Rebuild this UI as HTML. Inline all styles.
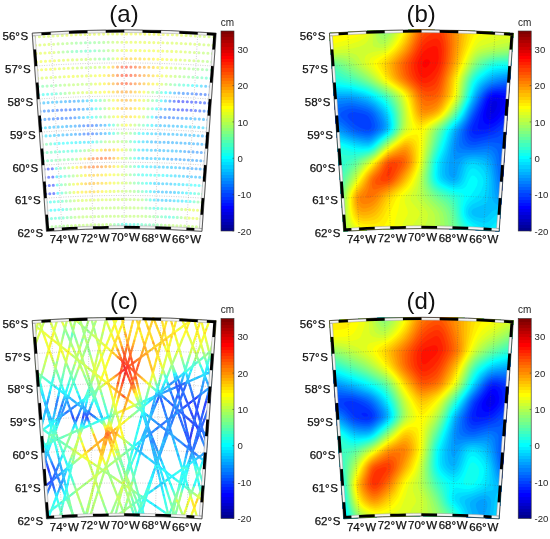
<!DOCTYPE html><html><head><meta charset="utf-8"><style>html,body{margin:0;padding:0;background:#fff;}svg{display:block;filter:blur(0.3px);}</style></head><body>
<svg width="550" height="539" viewBox="0 0 550 539">
<defs>
<clipPath id="clipa"><path d="M32.21 33.10 A1283.5 1283.5 0 0 1 216.19 33.10 L201.94 231.37 A1084.7 1084.7 0 0 0 46.46 231.37 Z"/></clipPath>
<clipPath id="clipb"><path d="M329.41 33.10 A1283.5 1283.5 0 0 1 513.39 33.10 L499.14 231.37 A1084.7 1084.7 0 0 0 343.66 231.37 Z"/></clipPath>
<clipPath id="clipc"><path d="M32.21 320.60 A1283.5 1283.5 0 0 1 216.19 320.60 L201.94 518.87 A1084.7 1084.7 0 0 0 46.46 518.87 Z"/></clipPath>
<clipPath id="clipd"><path d="M329.41 320.60 A1283.5 1283.5 0 0 1 513.39 320.60 L499.14 518.87 A1084.7 1084.7 0 0 0 343.66 518.87 Z"/></clipPath>
<linearGradient id="cb" x1="0" y1="0" x2="0" y2="1"><stop offset="0.0000" stop-color="#800000"/><stop offset="0.0156" stop-color="#800000"/><stop offset="0.0156" stop-color="#8f0000"/><stop offset="0.0312" stop-color="#8f0000"/><stop offset="0.0312" stop-color="#9f0000"/><stop offset="0.0469" stop-color="#9f0000"/><stop offset="0.0469" stop-color="#af0000"/><stop offset="0.0625" stop-color="#af0000"/><stop offset="0.0625" stop-color="#bf0000"/><stop offset="0.0781" stop-color="#bf0000"/><stop offset="0.0781" stop-color="#cf0000"/><stop offset="0.0938" stop-color="#cf0000"/><stop offset="0.0938" stop-color="#df0000"/><stop offset="0.1094" stop-color="#df0000"/><stop offset="0.1094" stop-color="#ef0000"/><stop offset="0.1250" stop-color="#ef0000"/><stop offset="0.1250" stop-color="#ff0000"/><stop offset="0.1406" stop-color="#ff0000"/><stop offset="0.1406" stop-color="#ff1000"/><stop offset="0.1562" stop-color="#ff1000"/><stop offset="0.1562" stop-color="#ff2000"/><stop offset="0.1719" stop-color="#ff2000"/><stop offset="0.1719" stop-color="#ff3000"/><stop offset="0.1875" stop-color="#ff3000"/><stop offset="0.1875" stop-color="#ff4000"/><stop offset="0.2031" stop-color="#ff4000"/><stop offset="0.2031" stop-color="#ff5000"/><stop offset="0.2188" stop-color="#ff5000"/><stop offset="0.2188" stop-color="#ff6000"/><stop offset="0.2344" stop-color="#ff6000"/><stop offset="0.2344" stop-color="#ff7000"/><stop offset="0.2500" stop-color="#ff7000"/><stop offset="0.2500" stop-color="#ff8000"/><stop offset="0.2656" stop-color="#ff8000"/><stop offset="0.2656" stop-color="#ff8f00"/><stop offset="0.2812" stop-color="#ff8f00"/><stop offset="0.2812" stop-color="#ff9f00"/><stop offset="0.2969" stop-color="#ff9f00"/><stop offset="0.2969" stop-color="#ffaf00"/><stop offset="0.3125" stop-color="#ffaf00"/><stop offset="0.3125" stop-color="#ffbf00"/><stop offset="0.3281" stop-color="#ffbf00"/><stop offset="0.3281" stop-color="#ffcf00"/><stop offset="0.3438" stop-color="#ffcf00"/><stop offset="0.3438" stop-color="#ffdf00"/><stop offset="0.3594" stop-color="#ffdf00"/><stop offset="0.3594" stop-color="#ffef00"/><stop offset="0.3750" stop-color="#ffef00"/><stop offset="0.3750" stop-color="#ffff00"/><stop offset="0.3906" stop-color="#ffff00"/><stop offset="0.3906" stop-color="#efff10"/><stop offset="0.4062" stop-color="#efff10"/><stop offset="0.4062" stop-color="#dfff20"/><stop offset="0.4219" stop-color="#dfff20"/><stop offset="0.4219" stop-color="#cfff30"/><stop offset="0.4375" stop-color="#cfff30"/><stop offset="0.4375" stop-color="#bfff40"/><stop offset="0.4531" stop-color="#bfff40"/><stop offset="0.4531" stop-color="#afff50"/><stop offset="0.4688" stop-color="#afff50"/><stop offset="0.4688" stop-color="#9fff60"/><stop offset="0.4844" stop-color="#9fff60"/><stop offset="0.4844" stop-color="#8fff70"/><stop offset="0.5000" stop-color="#8fff70"/><stop offset="0.5000" stop-color="#80ff80"/><stop offset="0.5156" stop-color="#80ff80"/><stop offset="0.5156" stop-color="#70ff8f"/><stop offset="0.5312" stop-color="#70ff8f"/><stop offset="0.5312" stop-color="#60ff9f"/><stop offset="0.5469" stop-color="#60ff9f"/><stop offset="0.5469" stop-color="#50ffaf"/><stop offset="0.5625" stop-color="#50ffaf"/><stop offset="0.5625" stop-color="#40ffbf"/><stop offset="0.5781" stop-color="#40ffbf"/><stop offset="0.5781" stop-color="#30ffcf"/><stop offset="0.5938" stop-color="#30ffcf"/><stop offset="0.5938" stop-color="#20ffdf"/><stop offset="0.6094" stop-color="#20ffdf"/><stop offset="0.6094" stop-color="#10ffef"/><stop offset="0.6250" stop-color="#10ffef"/><stop offset="0.6250" stop-color="#00ffff"/><stop offset="0.6406" stop-color="#00ffff"/><stop offset="0.6406" stop-color="#00efff"/><stop offset="0.6562" stop-color="#00efff"/><stop offset="0.6562" stop-color="#00dfff"/><stop offset="0.6719" stop-color="#00dfff"/><stop offset="0.6719" stop-color="#00cfff"/><stop offset="0.6875" stop-color="#00cfff"/><stop offset="0.6875" stop-color="#00bfff"/><stop offset="0.7031" stop-color="#00bfff"/><stop offset="0.7031" stop-color="#00afff"/><stop offset="0.7188" stop-color="#00afff"/><stop offset="0.7188" stop-color="#009fff"/><stop offset="0.7344" stop-color="#009fff"/><stop offset="0.7344" stop-color="#008fff"/><stop offset="0.7500" stop-color="#008fff"/><stop offset="0.7500" stop-color="#0080ff"/><stop offset="0.7656" stop-color="#0080ff"/><stop offset="0.7656" stop-color="#0070ff"/><stop offset="0.7812" stop-color="#0070ff"/><stop offset="0.7812" stop-color="#0060ff"/><stop offset="0.7969" stop-color="#0060ff"/><stop offset="0.7969" stop-color="#0050ff"/><stop offset="0.8125" stop-color="#0050ff"/><stop offset="0.8125" stop-color="#0040ff"/><stop offset="0.8281" stop-color="#0040ff"/><stop offset="0.8281" stop-color="#0030ff"/><stop offset="0.8438" stop-color="#0030ff"/><stop offset="0.8438" stop-color="#0020ff"/><stop offset="0.8594" stop-color="#0020ff"/><stop offset="0.8594" stop-color="#0010ff"/><stop offset="0.8750" stop-color="#0010ff"/><stop offset="0.8750" stop-color="#0000ff"/><stop offset="0.8906" stop-color="#0000ff"/><stop offset="0.8906" stop-color="#0000ef"/><stop offset="0.9062" stop-color="#0000ef"/><stop offset="0.9062" stop-color="#0000df"/><stop offset="0.9219" stop-color="#0000df"/><stop offset="0.9219" stop-color="#0000cf"/><stop offset="0.9375" stop-color="#0000cf"/><stop offset="0.9375" stop-color="#0000bf"/><stop offset="0.9531" stop-color="#0000bf"/><stop offset="0.9531" stop-color="#0000af"/><stop offset="0.9688" stop-color="#0000af"/><stop offset="0.9688" stop-color="#00009f"/><stop offset="0.9844" stop-color="#00009f"/><stop offset="0.9844" stop-color="#00008f"/><stop offset="1.0000" stop-color="#00008f"/></linearGradient>
</defs>
<rect width="550" height="539" fill="#fff"/>
<g clip-path="url(#clipb)">
<rect x="321" y="23" width="201" height="214" fill="#0000df"/>
<path fill="#0000ef" fill-rule="evenodd" d="M321.2 23.0l201 0 0 214 -201 0 0-214zM494.2 100.7l-2 1.3 -1.5 4 -0.7 5 0.2 1.4 1 1.3 2-0.5 1.1-1.2 1.9-3.5 1.1-3.5 -0.2-3 -1-1 -1.9-0.3z"/>
<path fill="#0000ff" fill-rule="evenodd" d="M321.2 23.0l201 0 0 214 -201 0 0-214zM494.2 97.0l-3 1.4 -1.9 2.6 -2.9 10 -0.4 3 0.4 3 1.4 2 1.4 0.8 2 0 2-0.7 3.7-3.1 2.8-4 4.6-9 -0.1-2 -1.8-2 -4.2-1.8 -4-0.2z"/>
<path fill="#0010ff" fill-rule="evenodd" d="M321.2 23.0l201 0 0 75.5 -10-0.8 -14-3 -3-0.1 -3 0.8 -3 2.3 -2 3.3 -3.6 11 -0.8 5 0.4 3.3 1.4 2.7 2.6 1.4 3-0.1 3-1.1 4-2.9 9-10 3-2.3 4-1.1 9 0.3 0 129.8 -201 0 0-214z"/>
<path fill="#0020ff" fill-rule="evenodd" d="M321.2 23.0l201 0 0 71.6 -25-2 -4 0.5 -3 1.5 -3 3.1 -2.1 4.3 -4.8 13 -2.8 12 0.7 1.7 2 0.7 5 0 4-0.7 6-3 11-9.2 3-1.8 4-0.9 9 0.4 0 122.8 -201 0 0-214z"/>
<path fill="#0030ff" fill-rule="evenodd" d="M321.2 23.0l201 0 0 68.6 -13-0.8 -12 0 -4 0.7 -4 2 -2.5 2.5 -2.3 4 -11.3 26 -1.2 4 0.3 2.2 2 2.1 3 0.5 5-0.8 7-1.6 4-1.7 11-8.1 4-2.3 5-0.9 9 0.5 0 117.1 -201 0 0-214z"/>
<path fill="#0040ff" fill-rule="evenodd" d="M321.2 23.0l201 0 0 65.8 -12-0.5 -13 0.8 -5 1.1 -4 2.4 -2.3 2.4 -2.5 4 -13.2 28 -1.2 5 0.7 3 1.5 2.1 3 1.4 3-0.1 16-3.9 4-2.2 8-5.9 3-1.4 4-0.7 10 0.5 0 112.2 -201 0 0-214z"/>
<path fill="#0050ff" fill-rule="evenodd" d="M321.2 23.0l201 0 0 63.3 -12-0.5 -12 1.4 -6 1.4 -4.1 2.4 -3 3 -3.2 5 -13.6 28 -1.2 3 -0.5 3 0.8 4 1.8 2.9 3 1.9 3 0.2 22-4.8 3-1.6 6-4.6 3-1.2 4-0.3 9 0.5 0 31.9 -11-0.3 -2.2 1.4 -0.9 3 1.1 2.8 2 1.3 11 1.2 0 65.7 -201 0 0-214zM354.2 112.0l-4.7 1 -1.9 2 0.1 2 2.2 3 5.3 4.7 5.4 3.3 5.6 1.8 2 0 2-0.9 1.4-1.9 0-3 -1.4-4.3 -2-3.1 -2-1.5 -2.4-1.1 -9.6-2z"/>
<path fill="#0060ff" fill-rule="evenodd" d="M321.2 23.0l201 0 0 61 -12-0.3 -12 1.8 -6 1.6 -5 3 -3.7 3.9 -3 5 -14.9 30 -1 3 -0.2 3 0.6 4 1.2 2.6 2 2.1 2 1 5 0.3 11-2.4 6-0.4 7 1.1 2 0.9 1.9 1.8 0.8 2 0 2 -1.3 10 -0.1 6 0.8 6 1.9 6.4 2 2.4 2 1 13 1.3 0 53.9 -201 0 0-214zM349.2 108.8l-3.8 1.2 -3.2 1.8 -1.4 1.2 -0.8 2 1.8 3 9.4 8.7 5.1 3.3 8.9 2.7 3 0.1 2-0.5 3.3-2.3 1.6-3 -0.1-3 -2-6 -2.8-4.1 -3-2 -5.8-1.9 -7.2-1.4 -5 0.2z"/>
<path fill="#0070ff" fill-rule="evenodd" d="M321.2 23.0l201 0 0 59 -11-0.4 -8 1.1 -10 2.4 -4 1.9 -3 2.2 -3.5 3.8 -2.5 3.9 -11.9 24.1 -4.5 8 -1.5 4 -0.4 4 0.3 4 1 3 1.9 2 2.1 1 3 0.7 4 0.1 14-2.2 4 0.6 3.2 1.8 1.8 2.1 1.4 3.9 2.4 22 1 5 1.3 3 1.9 2.1 3 1.4 14 1.3 0 48.2 -201 0 0-118 10-0.5 5 1 6 3.3 7.4 6.2 3 2 4.9 2 7.7 1.8 4-0.1 4-1.9 3.8-3.8 1-3 -0.5-3 -1.4-4 -1.4-3 -2.2-3 -4.3-3.3 -7-2.3 -7-1.6 -5-0.2 -5 1 -12 3.8 -11 1.1 0-88.5z"/>
<path fill="#0080ff" fill-rule="evenodd" d="M321.2 23.0l201 0 0 57.2 -12-0.4 -12 2.2 -8 2.8 -6 4.6 -4.9 6.6 -11.8 24 -6.5 11 -1.4 5 -0.7 7 0.3 2.7 1 1.9 2 1.3 2 0.6 9 0.7 14-1.4 3 0.7 2 1.3 2.5 3.2 1.4 4 3.3 23 1 4 1.8 3.7 2 2.1 3 1.4 15 1.4 0 43.4 -201 0 0-114.2 10-0.5 5 0.7 4 1.8 8.3 6.2 3.7 2.1 6 2.1 8 1.6 4-0.6 4-2.2 4.5-4 1.3-2 0.5-2 -0.5-3 -1.4-4 -3.4-6 -4.3-4 -5.7-2.8 -10-2.8 -6-0.7 -17 2.8 -11 0.9 0-83.4z"/>
<path fill="#008fff" fill-rule="evenodd" d="M321.2 23.0l201 0 0 55.5 -13-0.3 -11 2 -8 3 -4 2.6 -3 2.7 -4.7 6.5 -11.7 24 -8.1 13 -2.1 8 -0.9 7 0.9 4 0.7 1 1.9 0.9 26-1 3.9 1.1 2.3 2 1.7 3 1.3 4 3.8 24 1.2 4 1.8 3.3 2 1.9 3 1.2 16 1.5 0 39.1 -201 0 0-111.2 10-0.5 5 0.7 3 1.3 8 5.2 4.9 2.5 8.1 2.4 7 1.1 4-1 6.4-4.5 4.1-4 1-3 -0.4-3 -1-3 -3.8-7 -5.3-5.3 -6-3.3 -11-3.4 -6-0.8 -28 2.2 0-79.4z"/>
<path fill="#009fff" fill-rule="evenodd" d="M321.2 23.0l201 0 0 53.9 -13-0.4 -12 2.2 -4 1.3 -4 2 -4 2.8 -3 2.8 -4.5 6.4 -12 25 -8.8 13 -2.8 10 -1 9 0.5 6 0.6 1.7 1 1 1-0.1 8-3.9 8-1.2 12 0.3 3 0.9 2.6 2.3 1.8 3 1.3 4 3.6 24 1 4 1.7 3.4 3 2.6 3 1 17 1.5 0 35.5 -201 0 0-108.4 10-0.5 4 0.4 3 1 9 5.1 5 2.2 9 2.5 6 0.9 2-0.3 3-1.4 8.6-6.5 2.9-3 0.9-3 -0.3-3 -1.1-3.4 -3.4-6.6 -5.8-6 -6.8-4.2 -11-3.6 -6-1.2 -7.2 0 -21.8 1.3 0-76.3z"/>
<path fill="#00afff" fill-rule="evenodd" d="M321.2 23.0l201 0 0 52.3 -13-0.4 -6 0.7 -7 1.6 -4 1.5 -5 2.8 -4 3.2 -3 3.1 -3.3 5.2 -11.8 25 -2.9 4.5 -5.8 7.5 -2 4 -3.1 13 -2.3 17 -0.4 6 0.4 4 0.9 2 2.3 1.7 2-0.2 1-0.7 1.2-1.8 2.1-9 1.3-3 1.4-2 3-2.4 5-1.7 6-0.3 8 0.9 4 2 2 2.5 2 5.2 1.8 9.8 1.6 16 1.1 4 1.5 2.5 3 2.4 3.6 1.1 18.4 1.7 0 32.3 -201 0 0-105.8 10-0.5 4 0.4 4 1.3 8 4.1 6 2.3 9 2.4 5 0.6 3-0.6 2-1.1 10.5-8.1 2.7-3 0.9-3 -0.3-3 -1.2-4 -1.6-3.8 -2-3.2 -7-6.9 -7-4.3 -11-3.6 -7-1.2 -13 0 -15 0.9 0-73.9z"/>
<path fill="#00bfff" fill-rule="evenodd" d="M321.2 23.0l201 0 0 50.7 -14-0.4 -12 2 -4 1.5 -5 2.9 -5 3.9 -3 3.3 -3 5 -11.7 25.1 -3.2 5 -5.8 7 -2.3 4 -2.1 7 -3.2 15 -2.2 8 -0.8 8 0.5 4 1.6 3 3.2 2.4 2 0.7 2 0 2.4-1.1 1.7-2 3.9-13 2-3 2-1.5 4-1.5 5-0.2 6.5 1.2 3.8 2 2.7 3.7 2 6.8 1.3 8.5 0.7 16 0.6 3 1.4 2.6 3 2.1 4 1.1 21 1.8 0 29.4 -201 0 0-103.3 10-0.6 4 0.3 4 1.2 9 4.1 6 2.1 9 2.2 5 0.2 4-1.6 12.2-9.6 2.5-3 0.8-4 -1.9-8 -3.3-6 -7.1-7 -7.2-4.6 -11-3.7 -8-1.5 -14-0.3 -14 0.7 0-71.6z"/>
<path fill="#00cfff" fill-rule="evenodd" d="M321.2 23.0l201 0 0 49.1 -14-0.4 -12 1.8 -4 1.5 -4 2.2 -5.3 3.8 -3.7 3.6 -3.4 5.4 -5.4 13 -6.4 13 -3.2 5 -6.8 8 -2.3 4 -5.3 20 -3.5 10 -0.9 8 0.5 5 1 2 1.7 1.8 5 3 3 0.6 2-0.1 2.9-1.3 2.1-2.4 1.5-3.6 2.6-9 1-2 1.9-2.1 3-1.5 4-0.3 5 1.1 4 2.1 2 2.1 1.4 2.6 1.6 4.9 1 5.1 0.1 8 -1.3 12 -1.1 3 -1.7 2 -12.1 5 -1.5 2 -0.2 1 0.5 2 1.3 1.4 3 1.5 4 1.2 3 0.2 3.5-1.3 5.5-5.9 4-1.7 7-0.2 19 1.4 0 26.4 -201 0 0-101 10-0.6 5 0.4 19 6.9 8 1.9 5 0.1 4-1.7 13.7-11 2.3-3 0.7-4 -1.7-8.3 -1.6-3.7 -1.9-3 -7-7 -7.5-4.9 -11-3.8 -9-1.8 -15-0.6 -13 0.6 0-69.5z"/>
<path fill="#00dfff" fill-rule="evenodd" d="M321.2 23.0l201 0 0 47.5 -14-0.4 -8 0.8 -5 1 -4 1.6 -5 3.1 -5 3.8 -3 3.1 -3 5 -5.4 13.5 -6.3 13 -3.3 5.2 -7.6 8.8 -2.3 4 -5.2 18 -4.5 12 -0.9 9 0.6 5 1.1 2 1.8 1.9 6 3.5 3 0.9 3 0.1 4-1.3 2.2-2.1 2.1-4 2.9-9 1.1-2 1.7-1.8 2-1 3-0.2 3 0.9 3 1.8 3.7 4.3 2.4 6 0.6 6 -0.9 7 -1.8 5.8 -2 2.9 -3 2.3 -7 3.6 -3 3.1 -1 2.3 -0.2 2 0.3 2 0.9 2 2 2.1 3 1.8 7 2.7 3 0.6 4-1.2 8-7.2 4-1.8 6-0.3 16 1.1 0 23.2 -201 0 0-98.9 10-0.6 5 0.3 20 6.9 7 1.4 5 0 4-1.8 15-12.2 2.2-3.1 0.7-4 -1.7-9 -3.2-6.5 -3-3.6 -4-3.7 -8-5.3 -9-3.3 -12-2.8 -15-0.9 -13 0.5 0-67.4z"/>
<path fill="#00efff" fill-rule="evenodd" d="M321.2 23.0l201 0 0 45.9 -14-0.5 -8 0.7 -5 0.9 -4 1.6 -4 2.4 -6 4.4 -3.6 3.6 -3 5 -5.3 14 -6.2 13 -3.9 5.9 -8 9.1 -2.3 4 -5.1 17 -4.8 12 -0.8 4.1 -0.4 6.9 0.8 5 1.1 2 1.8 2 3 2 4.7 2.2 4 1.1 3 0.1 4-1 3-2.4 1.8-3 3.2-8.4 2-3 1-0.8 2-0.5 2 0.5 1.9 1.2 3.1 3.2 2.3 3.8 1 4 -0.3 3.8 -1.7 5.2 -2.3 4.1 -2.8 2.9 -6.2 4.8 -3.1 4.2 -1.1 3 -0.2 3 0.5 3 1.6 3 4.3 3.9 10 5.9 3 1.1 2-0.2 3-1.5 9-7.9 3-1.6 5-0.4 15 1 0 18.7 -201 0 0-96.8 10-0.6 5 0.3 20 6.5 7 1.1 5-0.2 2-0.6 2.8-1.7 6.7-6 7.8-6 2.9-4 0.8-4 -0.6-5 -1.2-5 -3.2-6.6 -2.7-3.4 -3.3-3.1 -8.7-5.9 -8.3-3.3 -14-3.6 -15-1.3 -13 0.5 0-65.3z"/>
<path fill="#00ffff" fill-rule="evenodd" d="M321.2 23.0l201 0 0 44.3 -14-0.5 -13 1.4 -4 1.5 -4 2.4 -6 4.3 -3.9 3.6 -3.2 5 -5.7 16 -6.2 12.8 -3.5 5.2 -8.1 9 -2.6 4 -5.1 16 -4.5 11 -1.2 4.1 -0.9 10.9 0.3 3 1 3 1.6 2.2 2.2 1.8 7.8 3.9 7 1.6 6-0.6 2-0.9 2.1-2 3.1-7 1.8-2.7 1-0.7 2 0.1 2.5 2.3 1.1 3 -0.7 4 -2.9 5.4 -8 11.6 -1.8 5 -0.5 5 0.8 4 2.5 4.4 3 3.1 5.8 4.5 2.4 3 1.1 3 0.4 3 -158.7 0 0-94.7 11-0.6 4 0.2 4 0.9 15 5.2 7 0.9 6-0.4 3-1.1 2-1.3 7-6.4 8.6-6.7 2.7-4 0.7-4 -1.6-10 -1.4-3.9 -2-3.7 -2.6-3.4 -3.1-3 -8.3-5.6 -8-3.6 -15-4.1 -17-2.1 -12 0.4 0-63zM502.8 229.0l4.4-0.4 15 1.1 0 7.3 -26.3 0 0.9-3 1.3-2 2.1-1.8 2.6-1.2z"/>
<path fill="#10ffef" fill-rule="evenodd" d="M321.2 23.0l201 0 0 42.7 -15-0.4 -8 0.5 -5 0.9 -3 1.2 -4 2.2 -6 4.3 -4 3.6 -2 2.5 -2 3.7 -5.3 15.8 -6.2 13 -3.5 5.2 -9 9.8 -2.6 4 -4.9 15 -5.6 15 -0.9 6.4 -0.2 7.6 0.9 4 1.9 3 3.4 2.8 4 2.1 7 2.8 9.1 2.3 1.7 1 0.8 1 0.3 3 -1.9 11 0.5 6 1.5 4 1.8 3 7.6 9 1 3 0.3 3 -153.7 0 0-92.5 14-0.6 5 1.1 9 3.5 5 1.4 7 0.4 7-0.6 5-2.5 7.9-7.2 8.1-6.3 2.8-3.7 1.2-5 -1.4-10 -1.3-4 -2-4 -2.3-3.4 -3-3.1 -8-5.5 -9-4.3 -16-4.7 -17-2.8 -12 0.2 0-60.4z"/>
<path fill="#20ffdf" fill-rule="evenodd" d="M321.2 23.0l201 0 0 41.1 -14-0.4 -9 0.5 -5 0.8 -4 1.5 -4 2.4 -6 4.3 -4 3.8 -3.8 6 -5 16 -6.1 13 -4.1 6 -9.3 10 -2.7 4 -10.1 29 -0.9 5.4 -0.5 7.6 0.2 4 0.9 3 2.4 3.6 3 2.5 6 3.1 11 4.5 2.6 2.3 0.9 3 -0.2 10 0.9 6 2.5 6 5.7 9 0.9 3 0.3 3 -149.6 0 0-90.1 11-0.6 4 0.2 4 1.1 8 3.5 5 1.1 7-0.3 8-1.1 3-1.2 2.4-1.6 7.6-7.1 8.8-6.9 3-4 1.1-5 -1.1-10 -2.8-7.6 -4.4-6.4 -6.4-5 -12.2-6.3 -16-5.2 -19-4.3 -11-0.1 0-57.1z"/>
<path fill="#30ffcf" fill-rule="evenodd" d="M321.2 23.0l201 0 0 39.5 -15-0.4 -9 0.7 -5 0.9 -4 1.6 -4 2.3 -5 3.7 -4 3.6 -2.4 3.1 -2.2 4 -5.1 17 -5.7 12 -3.9 6 -9.5 10 -3.5 5 -9.7 28 -1.1 6 -0.7 9 0.4 4 0.9 3 1.9 3 3.2 3 15.4 8 3 3 1 3.5 1.6 13.5 1.7 5 4.9 10 0.8 6 -146 0 0-65.1 9-0.7 3-0.8 1.9-1.4 1.1-1.5 1-3.5 -1-2.5 -2-0.8 -13 0.5 0-10.6 10-0.6 4 0.3 2.3 0.7 5.7 3.6 5 0.8 6-0.6 15-3.3 5-2.9 8-7.5 9-7.2 2-2.5 1.2-2.4 0.7-5 -1.2-10 -2.5-7 -4.2-6.5 -5.4-4.5 -9.6-5.4 -6-2.8 -24.3-7.8 -8.7-3.3 -5-0.9 -7 0.2 0-53z"/>
<path fill="#40ffbf" fill-rule="evenodd" d="M321.2 23.0l201 0 0 38 -14-0.4 -10 0.6 -5 0.9 -4 1.4 -4 2.2 -5 3.6 -4 3.6 -3 3.8 -2.4 4.3 -5.2 18 -5.7 12 -4.2 6 -9.6 10 -3.6 5 -8.9 26 -1.4 6.8 -0.9 9.2 0.1 4 0.9 4 1.9 3.6 3 3.2 3 2.1 11 5.9 3.2 3.2 1.8 4.6 2.8 14.4 4.6 12 0.6 6 -143 0 0-52.7 10-0.8 4-1.5 2-2.3 5.9-12.7 3.5-5 2.6-2 6.2-3 13.8-4.5 5-2.9 8-7.5 7.9-6.1 3-3 2.2-4 0.8-5 -0.9-9 -2-7 -4-7.2 -5.1-4.8 -15.9-8.7 -24.3-9.3 -10.7-5.3 -5-1.1 -7 0.1 0-48.7z"/>
<path fill="#50ffaf" fill-rule="evenodd" d="M321.2 23.0l201 0 0 36.4 -14-0.4 -15 1.5 -4 1.3 -4.2 2.2 -4.8 3.3 -4 3.6 -3.3 4.1 -2.8 5 -1.7 5 -3.3 13 -5.9 12.5 -4.6 6.5 -9.8 10 -3.7 5 -8.1 24 -1.6 7 -1.2 11 0 5 1 3.9 2 3.8 3 3.3 12.6 8 2.4 2.2 1.9 2.8 1.7 5 2.7 12 3.3 10 0.6 7 -140.2 0 0-45 11-1 2-0.5 2-1.4 3-4.6 5.2-13.5 4.2-6 3.4-3 5.8-4 12.4-4.9 5-3.3 7.1-6.8 10.9-9 3.1-5 0.7-5 -0.7-9 -1.8-7 -3.5-7 -4.8-5 -16-9.2 -24.4-10.8 -11.6-6.5 -5-1.2 -8 0.1 0-45.4z"/>
<path fill="#60ff9f" fill-rule="evenodd" d="M321.2 23.0l201 0 0 34.8 -14-0.4 -11 0.9 -5 0.9 -4 1.4 -4.7 2.4 -7.3 5.9 -4 5 -3 5.4 -1.6 4.7 -3.3 14 -5.8 12 -4.3 6.1 -10.8 10.9 -3.7 5 -1.7 4 -5.5 18 -1.9 8 -1.5 12 -0.1 5 0.8 4 1.8 4 2.6 3.4 3 2.6 10 7 4 5 2.1 5 4.7 19 0.7 8 -137.5 0 0-38.4 11-0.9 2-0.5 2-1.1 3-4.8 6.4-17.3 3.7-6 5-5 5-4 10.9-4.9 4-2.5 9.3-8.6 8.8-7 2.8-3 1.7-3 0.9-3 0.3-4 -0.8-9.4 -2.2-7.6 -3.1-6 -2.6-3 -2.4-2 -16.7-9.6 -15.5-7.4 -18.5-10.5 -6-1.7 -9 0.1 0-42.9z"/>
<path fill="#70ff8f" fill-rule="evenodd" d="M321.2 23.0l201 0 0 33.1 -13-0.3 -16 1.7 -5 1.4 -4 1.8 -4 2.5 -3 2.6 -5 6 -3.6 6.2 -1.8 5 -3.4 15 -5.2 10.8 -6 8.2 -11.9 12 -2.6 4 -1.4 4 -5 17 -1.6 7 -1.9 14 0.3 7 1.7 5 2.6 4 2.8 2.9 10.2 8.1 2.8 3.3 2 3.2 1.9 5.5 3.2 14 0.6 9 -134.7 0 0-33 12-1 2-0.5 2-1.3 2-3.2 7-20.7 4.2-7.3 8.7-9 3.1-2.2 8-3.8 4-2.5 10-9.1 9.2-7.4 2.7-3 1.7-3 0.9-3 0.3-4 -0.6-9 -2.1-8 -3.1-6.4 -4.3-4.6 -19.7-11.7 -12.2-6.3 -18.2-11 -3.6-1.4 -4-0.8 -10 0.1 0-40.9z"/>
<path fill="#80ff80" fill-rule="evenodd" d="M321.2 23.0l201 0 0 31.4 -13-0.2 -17 2 -8.4 2.8 -3.6 2.1 -3 2.5 -5.2 6.4 -4.6 8 -1.7 5 -2.9 14 -2 5 -3.2 6 -5.6 8 -13.2 13 -2.1 3 -1.6 4 -6.2 24 -2.2 15 0.1 7 1.7 6 2.7 4.5 3 3.3 9.3 8.2 2.7 3.2 2.3 3.8 1.6 5 2.2 11 0.6 10 -131.7 0 0-28.1 13-1.1 2-0.7 2-1.5 2-3.6 3.4-13 2.4-7 2.7-6 2.5-4 9-10.1 3-2.2 11-6.2 10-9.2 10.3-8.3 2.6-3 1.7-3 1-4 0.2-4 -0.6-9 -2.2-8.3 -3-6 -4.7-4.7 -30.3-18 -13-8.6 -5-2.8 -4.1-1.6 -4.8-1 -11.1 0.1 0-39.1z"/>
<path fill="#8fff70" fill-rule="evenodd" d="M321.2 23.0l61.3 0 0.7 4.3 1 1.4 1 0.1 1.2-1.8 0.6-4 135.2 0 0 29.6 -12-0.2 -18 2.2 -9 2.8 -3 1.6 -3 2.4 -6 7.5 -4.5 8.1 -2 6 -2.8 14 -4.7 10 -3.2 5 -3.2 4 -13.5 13 -2.1 3 -1.2 3 -6.1 25 -2.5 16 0.1 7 1.5 6 2.7 5 3.5 4.1 9 8.7 3.5 5.2 1.5 4.4 1.6 9.6 0.6 11 -128.2 0 0-22.9 13-1.1 2-0.5 2.2-1.5 1.8-2.7 1-2.7 2.6-12.6 2.5-8 2.9-6.6 3.3-5.4 5.6-7 3.9-4 12.7-8 9.8-9 11.1-9 2.5-3 1.7-3 1.1-4 0.2-4 -0.7-10 -2.1-8 -3-6 -4.1-4.1 -16.2-9.9 -16.6-11 -10.2-7.3 -4-2.3 -5-1.9 -5-1.1 -5-0.3 -8 0.3 0-37.4z"/>
<path fill="#9fff60" fill-rule="evenodd" d="M321.2 23.0l58.1 0 0.4 5 1 4 1.5 2.4 2 0.9 2.6-1.3 2.1-3 1.2-4 0.2-4 131.9 0 0 27.7 -12-0.2 -18 2.5 -9 2.4 -3 1.4 -3 2.2 -3 3.4 -3 4.3 -5.7 10.3 -1.9 6 -2.6 14 -1.8 4.4 -3 5.5 -6.6 9.1 -13.9 13 -2.9 5 -5.8 25 -2.9 18 -0.1 7 1.3 6 2.2 5 3.7 4.8 8.2 8.2 3.3 5 1.1 4 0.8 6 0.7 14 -124.1 0 0-14.4 14-1.3 2-1 2-2.4 3-8.4 2.4-14.5 1.5-6 3.1-7.5 4.4-7.5 5.3-7 3.8-4 12.5-8.4 10-9.2 8-6.2 3.5-3.2 3.1-4 1.4-3 0.8-3 0.2-5 -0.6-9 -2.3-9 -2.4-5 -5-5 -16.1-10 -25.6-19 -4-2.4 -5-1.8 -6-1.1 -5-0.3 -9 0.4 0-35.8z"/>
<path fill="#afff50" fill-rule="evenodd" d="M321.2 23.0l55.9 0 0.4 7 1.1 5 1.6 3.1 1 1.1 2 0.7 3-1.1 4-4.8 2-5 0.6-6 129.4 0 0 25.3 -12 0 -20 3.3 -9 2.5 -5 3.4 -5 6.8 -6.4 11.7 -2 6 -2.4 14 -1.5 4 -2.7 5.1 -6.9 9.9 -5.1 5.1 -9.3 7.9 -3.2 5 -4.3 18 -4.4 25 -0.6 5 0.2 6 1 6 1.8 4 3.7 5 7.8 8 2.3 4 1.1 7 0.3 16 -98.4 0 0.9-20 2.1-19 1.4-7 2.8-7 5.9-10 7.9-9.9 13-9.4 9-8.3 10-7.9 4.3-4.5 2.4-4 1.1-3 0.4-5 -0.3-8 -1-6 -1.7-6 -2-4 -2.4-3 -5.1-4 -14.4-9 -17.7-14 -7.6-6.7 -5-2.6 -7-1.5 -7-0.5 -11 0.4 0-34.1z"/>
<path fill="#bfff40" fill-rule="evenodd" d="M321.2 23.0l53.8 0 0.5 10 1.3 7 1.9 3 1.5 0.9 2 0.3 2-0.4 2.7-1.8 4.6-6 2.8-6 0.8-7 127.1 0 0 22.5 -12 0.1 -25 5 -6 2.1 -3 2.2 -1.9 2.1 -6.7 11 -4.4 9 -1.7 6 -2.1 13 -3.2 7.2 -4.3 6.8 -3.8 5 -4.9 4.8 -10 8.2 -1.6 2 -1.5 3 -1.8 7 -7 38 -0.7 6 -0.2 8 0.7 4 1.5 3 2.9 4 7.2 8 2 4 0.5 4 -0.8 18 -86.7 0 -2.3-17 -0.2-7 1.3-17 1.2-5 2-5 7.2-12 7-9 11.3-8.6 11-9.9 9-6.9 6.2-6.6 2.2-4 0.8-3 0.3-5 -0.4-8 -1.1-6 -1.7-6 -1.5-3 -2.3-3 -4.9-4 -15.4-10 -8.2-7.5 -8-6.5 -8-8.4 -4-2 -7-1.3 -9-0.4 -12 0.6 0-32.5z"/>
<path fill="#cfff30" fill-rule="evenodd" d="M321.2 23.0l51.7 0 -0.1 22 0.6 1 1.8 1.2 5 0.8 3-0.5 3-1.6 2.1-1.9 2.9-3.7 3.2-5.3 1.8-4 0.9-4 0.3-4 124.8 0 0 19.1 -8-0.2 -5 0.4 -25 6 -6 2.3 -4 3.6 -4 6.3 -7.8 15.5 -1.8 6 -1.9 13 -1.4 4 -2.1 4 -4.5 7 -3.9 5 -4.6 4.5 -9.8 7.5 -1.8 2 -1.7 3 -2.1 8 -4.1 26 -6.3 29 0.4 3 1 2 8.1 10 1.7 3 0.4 2 -0.7 5 -4.2 10 -0.7 7 -71 0 -0.8-5 -3.1-11 -0.9-8 0.5-15 1-5 1.8-5 7.8-13 6.7-9 11.8-9.4 10-9.1 9.8-7.5 6.6-7 2-3 1.3-4 0.2-6 -0.7-8 -2.5-11 -1.3-3 -2.3-3 -4.6-4 -12.5-8 -4.9-4 -14.5-14 -4.6-8 -2-2.2 -4-1.5 -6-0.6 -25 1 0-30.7z"/>
<path fill="#dfff20" fill-rule="evenodd" d="M321.2 23.0l49.6 0 0 8 -0.8 5 -1.6 4 -2.2 2.8 -3 2.2 -4 1.7 -6 1.5 -7 1.1 -25 2.4 0-28.7zM399.5 23.0l122.7 0 0 15.4 -11-0.3 -10 1.4 -19 5.9 -3 1.4 -3 2.2 -3 3.4 -2.3 3.6 -9.3 19 -2.1 7 -1.8 13 -3 7 -5.9 9 -3.6 4.4 -5 4.5 -8.6 6.1 -3.4 4 -1.4 3 -1 4 -3.5 25 -1.5 7 -4.8 17 -4.6 9 -0.9 3 0.2 2 1 2 7.3 9 0.7 2 -0.1 2 -1.4 3.1 -5.4 6.9 -1.8 3 -1.2 4 -0.3 5 -54.6 0 -1-5 -4.5-11 -1.4-8 0.1-15 1-5 2-5 8.6-14 5.5-7.2 21-18.3 12.2-9.5 6.6-7 1.9-3 0.7-2 0.1-5 -1.3-12 -1.8-8 -2.1-5 -2.4-3 -2.9-2.5 -12.9-8.5 -4.9-4 -13-14 -1.1-2 -0.7-3 0.2-2 0.8-2 2.6-2.3 4-1.4 11-2 3-1.6 3-2.6 4-5.3 4.4-7.8 1.5-5 0.4-5z"/>
<path fill="#efff10" fill-rule="evenodd" d="M321.2 23.0l47.2 0 -0.3 8 -0.9 3.3 -2 3.1 -3 2.2 -4 1.8 -9 3 -10.6 2.6 -8.4 1.4 -9 0.7 0-26.1zM401.5 23.0l120.7 0 0 10.3 -11-0.5 -8 0.3 -5 0.6 -5 1.5 -10 4.2 -4 2.4 -4 4.4 -4 5.8 -3 5.8 -8.5 19.2 -1.3 5 -1.6 12 -0.8 3 -2 4 -5.7 9 -3.9 5 -4.2 3.8 -10.6 7.2 -2.7 3 -1.6 3 -1.6 7 -2.6 23 -1.9 8.3 -5.7 15.7 -2.3 3.7 -5.2 6.3 -1.3 3 0.2 4 2.6 7 0.5 3 -1 3 -3.4 6 -1.6 4 -0.9 5 -0.1 6 -41.9 0 -1.5-5 -6-10 -2.1-7 -0.7-15 0.7-5 1.7-5 9.8-16 5.4-7 19.8-17.5 12.4-9.5 9.4-9 1.7-3 0.1-4 -2-14 -1.8-8 -2-5 -2.2-3 -2.6-2.3 -14.2-9.7 -3.4-3 -10.8-13 -1.2-2 -0.4-2 0.9-3 2.1-2 13-5.2 3-2.1 3.6-3.7 4.1-6 3.8-7 1.5-5 0.3-5z"/>
<path fill="#ffff00" fill-rule="evenodd" d="M321.2 23.0l44.2 0 -0.2 5 -0.8 3 -1.2 2 -2.5 2 -4.3 2 -8.2 2.8 -15 3.9 -6 1.1 -6 0.4 0-22.2zM403.4 23.0l82.5 0 -0.2 2 -0.9 3 -1.2 2 -4.4 4.7 -3 3.9 -9 17.6 -9.1 21.8 -1.1 5 -1.3 11 -2.5 6.3 -6.2 9.7 -3.8 4.8 -4 3.5 -10.5 6.7 -3.1 3 -2.6 4 -1.2 5 -1.5 22 -1.4 8 -3.7 10.3 -3.6 7.7 -3 4 -5.8 6 -2.5 4 -2.1 11 -2.4 8 -1.3 6 -0.7 6 -0.1 7 -26.4 0 -0.6-2 -1.6-2 -5.9-4.4 -3.7-3.6 -2.3-3.5 -1.5-3.5 -1.3-6 -0.7-10 0.3-5 1.4-5 2.6-5 7.7-12 6.2-8 18.3-16.5 10-7.3 9-7.5 5.5-3.7 1-1 0.9-2 -0.1-3 -4.6-22 -1.1-4 -1.6-3.6 -1.8-2.4 -3.2-3 -13-9 -3.5-3 -8.8-12 -1.1-2 -0.4-2 0.6-2 1.9-2 11.3-6.2 4-3.5 3.6-4.3 3.9-6 3-6 1.4-5 0.3-5z"/>
<path fill="#ffef00" fill-rule="evenodd" d="M321.2 23.0l37.3 0 -0.3 3 -1.4 3 -2.1 2 -4.5 2.5 -5 1.5 -11 2.1 -13 1.5 0-15.6zM405.2 24.0l0-1 71.5 0 -0.5 5 -1.1 4 -17.9 45 -1.2 5 -1.5 12 -1.9 5 -6.8 11 -4.1 5 -3.9 3 -8.7 5 -7.9 6.1 -2 0.9 -1-0.1 -1-1 -4-7.9 -4.7-20 -2-5 -4.5-5 -12.7-9 -3.4-3 -3.6-5 -3.6-6 -1.2-3 0.1-2 1.1-2 11.5-8.4 4-4.1 3.5-4.5 3.5-5.8 2.4-5.2 1.1-4 0.5-5zM412.1 135.0l4.1-0.6 1 0.4 1 1.5 1.1 5.7 0 10 -0.5 9 -1.2 6 -3 8 -4 8 -3.4 4.5 -7.8 7.5 -3.2 4 -6 13.5 -3 8.5 -3 4.5 -4 2.3 -5 0.9 -11-1.5 -5-1.9 -3-2.6 -2.4-3.7 -1.5-4 -1-5 -0.6-7 0.1-5 1.2-5 2.2-4.4 10.9-16.6 7.3-8 13.8-12.5 17-12.7 4-2.4 4.9-1.4z"/>
<path fill="#ffdf00" fill-rule="evenodd" d="M406.9 23.0l65.6 0 -0.8 8 -3.6 13 -6.6 19 -5.9 15 -1.1 5 -1.1 10 -1.7 5 -7.2 12 -4.3 4.9 -4 2.8 -12 6.7 -3 1.2 -2-0.2 -1-0.6 -2-2.3 -1.4-2.5 -2-6 -3.2-14 -2.3-5 -4.7-5 -11.1-8 -3.4-3 -3.5-5 -3.5-8 0-2 1-2 12.1-11 3.5-4 3.4-5 4.6-10 0.9-4 0.3-5zM405.7 139.0l4.5-0.9 3.5 0.9 2.5 2.7 1.2 4.3 0.4 10 -0.6 7 -2 6.9 -4 8.6 -5.1 7.5 -11 10 -2.5 3 -9.1 18 -3.3 4.2 -4 2.2 -4 0.8 -7 0 -5-1.2 -3-2.2 -2-2.6 -1.5-3.2 -1-4 -1-7 -0.1-5 0.8-4 1.8-4.3 10.7-16.7 6.8-8 14.5-13.4 19.5-13.6z"/>
<path fill="#ffcf00" fill-rule="evenodd" d="M408.6 23.0l60.6 0 -0.7 8 -3.1 14 -5.4 18 -5.7 15 -2.3 15 -1.8 5 -7 11.9 -3.6 4.1 -4.4 2.9 -10 4.9 -3 1.1 -2-0.2 -1.3-0.7 -1.7-1.7 -1.4-2.3 -1.8-5 -3.3-14 -2.5-4.9 -4-4.3 -10.6-7.8 -3.3-3 -3.3-5 -2.6-7 0.1-3 1-2 11.9-12 3.2-4 2.5-4 4.3-10 0.9-4 0.3-5zM405.1 141.0l4.1-0.5 3.3 1.5 2.1 3 1.2 5 0.5 8 -0.6 6 -2 6 -4 8 -2.6 4 -3.3 4 -13.8 12 -2 3 -6.2 12 -4.1 5 -3.5 2.1 -5 1 -6 0.1 -3.5-1.2 -2.5-2.1 -1.8-2.9 -2.2-8 -0.6-5 0.1-4 0.7-3 1.8-4 11.7-18 9.1-10 11.2-10.2 17.9-11.8z"/>
<path fill="#ffbf00" fill-rule="evenodd" d="M410.2 23.0l55.8 0 -0.7 9 -2.4 14 -4.4 17 -5.6 15 -2.2 14 -1.5 5 -6.2 11 -3.8 4.8 -5 3.1 -11 4.6 -2-0.1 -2-1 -2.4-3.4 -1.8-5 -2.9-12 -2.4-5 -3.5-4 -10.5-8 -4-4 -2.8-5 -1.8-6 0.3-3 1-2 11.8-12.7 4.7-7.3 4.2-10 0.8-4 0.3-5zM404.6 143.0l3.6-0.3 3 1.7 2.1 3.6 1.3 6 0.3 6 -0.8 5 -1.9 5.1 -3.7 6.9 -3.4 5 -3.6 4 -13.5 11 -2.2 3 -5.6 10 -4 4.8 -3.6 2.2 -4.4 1.2 -5 0.2 -3-0.8 -2-1.6 -2-3 -2.2-8 -0.3-7 0.8-3 1.4-3 5-7 6.6-11 11.7-13 9-7.8 16.4-10.2z"/>
<path fill="#ffaf00" fill-rule="evenodd" d="M411.8 23.0l51 0 -0.6 11 -2 15 -3.3 14 -5.7 16 -2 13 -1.1 4 -6 11 -3.9 4.8 -5 3 -9 3.4 -3-0.3 -1.4-0.9 -1.6-2 -2-5 -2.7-11 -2.3-5 -4.3-5 -12.2-10 -2.6-4 -2.2-7 -0.1-3 1.2-3 11.2-12.6 4.5-7.4 4-10 0.8-4 0.3-5zM404.2 145.0l3-0.2 3 2.1 1.9 4.1 1.2 6 0 5 -0.9 4 -2.2 5 -3 5.3 -4 5.6 -3.9 4.1 -13.2 10 -2.4 3 -5.5 9.2 -3.6 3.8 -3.4 2 -4 1.2 -4 0.3 -3-0.9 -2-2 -2-4.2 -1.3-5.4 -0.1-5 1.4-4.2 5.6-7.8 4.9-9 4.5-5.8 8.2-9.2 4.8-4.6 5-3.8 15-8.6z"/>
<path fill="#ff9f00" fill-rule="evenodd" d="M413.4 23.0l46.4 0 -0.9 20 -1.5 10 -2.1 10 -5.5 16 -2.1 13 -1.2 4 -5.3 9.7 -4 4.9 -5 2.8 -8 2.6 -3-0.8 -2-2.2 -1.6-4 -3-11 -2.5-5 -3.9-4.5 -9.3-7.5 -2.8-3 -2.1-4 -1.6-6 0-3 1.1-3 10.3-12 4.4-7.4 4.1-10.6 0.8-4 0.3-5zM404.9 147.0l1.3 0.1 1.7 0.9 2.1 3 1.6 5 0.4 5 -0.4 3 -1.4 4 -6 10 -3.1 4 -4 4 -12.9 9.2 -2.4 2.8 -4.6 7.1 -4 4 -3.6 1.9 -4.4 1.1 -3 0 -2-1 -2-2.6 -1.7-4.5 -0.5-4 0.3-3 1.9-4 5-6.5 5.6-10.5 11.8-14 5.4-5 3.2-2.2 12-6.5 3.7-1.3z"/>
<path fill="#ff8f00" fill-rule="evenodd" d="M415.0 23.0l41.9 0 -0.3 21 -1.6 13 -1.6 7 -4.8 14 -3.4 17 -4 7.8 -4 5.3 -4.3 2.9 -7.7 2.5 -3-0.7 -2-2.2 -4.4-13.6 -3.5-6 -3.8-4 -7.4-6 -2.7-3 -2.1-4 -1.5-6 0-3 1.2-3 9.2-11.1 4.6-7.9 4.2-11 0.8-4 0.2-5zM402.0 150.0l3.2-0.4 2.2 1.4 2.1 4 1 5 -0.2 3 -1.2 4 -6.8 11 -3.1 4 -4 3.8 -12.6 8.2 -6.4 8.2 -3 3 -3 1.8 -4 1.2 -3 0.2 -2-0.7 -2-2.2 -1.1-2.5 -0.6-3 0.4-3 1.3-2.7 5-6.3 5.3-11 11.5-14 4.2-4.3 5-3.3 11.8-5.4z"/>
<path fill="#ff8000" fill-rule="evenodd" d="M416.7 23.0l37.5 0 0.3 22 -1.3 12 -1.4 7 -4.6 14 -3.4 16 -3.5 7 -4.1 5 -4 2.5 -6 1.9 -3-0.6 -1.6-1.8 -4.6-12 -3.8-6 -12.5-12 -2-4 -1.4-6 0-3 1.1-3 8.8-11 4.3-8 4.1-11 0.8-4 0.3-5zM399.7 153.0l3.5-0.9 2 0.5 1 0.8 2 3.5 0.7 4.1 -0.3 3 -1.6 4 -8.1 12 -5.7 5.5 -12.6 7.5 -6.4 7.2 -2.2 1.8 -2.8 1.4 -4 0.8 -2-0.1 -2-1.1 -1.5-3 0.4-3 5.8-8 2.9-8 2.4-4.3 6-6.9 5.1-6.8 3.9-3.9 5-2.9 8.5-3.2z"/>
<path fill="#ff7000" fill-rule="evenodd" d="M418.6 23.0l32.9 0 0.9 22 -1 12 -1.1 6 -4.6 15 -3.1 14 -2.4 5.6 -3 3.8 -4 2.8 -6 2 -2-0.2 -2-1.3 -5.5-10.7 -2.7-4 -11.9-12 -2-4 -1.3-6 0-3 1.2-3 8.2-11 4.4-9 4.1-11 0.9-8zM399.9 155.0l3.3-0.1 2 1.1 1.6 3 0.3 4 -2 5 -8.2 12 -4.7 4.5 -12 6 -8 6.5 -3 1.3 -3.2-0.3 -0.5-1 0.2-1 2.3-5 2.8-11 1.9-3 6.1-7 4.1-6 2.7-3 3.6-2.6 4-1.6 6.7-1.8z"/>
<path fill="#ff6000" fill-rule="evenodd" d="M420.8 23.0l28 0 1.6 24 -0.8 10 -1.2 7 -4 13 -3.2 13 -1.5 4 -2.1 3 -2.4 2.1 -3 1.3 -3 0.6 -3 0 -3-2 -7.9-11 -8.9-9 -2.4-4 -1.7-7 0.1-3 1.1-3 7.7-11 6.3-14 2.5-7 0.8-7zM394.4 158.0l4.8-0.7 3 0.2 2 1.5 0.9 3 -1 4 -7.7 12 -3.2 3.7 -4 2.8 -13 4.8 -2 0.3 -1-0.3 -1-1.5 -0.4-3.8 0.6-3 1.6-3 5.2-6 4.4-7 2.5-3 4.1-2.7 4.2-1.3z"/>
<path fill="#ff5000" fill-rule="evenodd" d="M423.8 23.0l22.2 0 0.3 7 2 14 -0.1 8 -1.1 10 -7.5 26 -1.4 3.1 -2.3 2.9 -2.7 1.5 -4 0.7 -3-0.2 -3-1.7 -14.1-15.3 -2.8-5 -1.3-6 0.1-3 1.1-3 7-11 8.6-19 1.4-4 0.6-5zM392.9 160.0l4.3-0.3 2.7 0.3 1.7 1 0.7 2 -0.9 3 -7.2 12 -3 3.3 -4 2.2 -7 1.4 -2.1 0.1 -1.9-0.5 -1.1-1.5 0.4-3 5.7-7.8 4.1-7.2 2.9-3.1 4.7-1.9z"/>
<path fill="#ff4000" fill-rule="evenodd" d="M429.1 23.0l13.7 0 0.5 7 2.7 13 0.4 7 -0.7 9 -0.8 5 -6.7 20.7 -2 3.4 -2 1.8 -3 1.3 -4 0.5 -3-0.7 -3-2 -9.3-10 -1.9-3 -1.1-3 -1-7 1-4 5.8-10 5.5-11.6 7.5-11.4 1.1-3 0.3-3zM389.8 163.0l3.4-0.9 3.9 0.9 0.8 2 -1 3 -3.9 8 -2.8 3.5 -4 1.9 -3 0.2 -2-0.5 -1-1.6 0.7-2.5 5.8-11 3.1-3z"/>
<path fill="#ff3000" fill-rule="evenodd" d="M435.2 31.0l2-0.5 2 1.4 2 3.4 2 5.6 1.1 8.1 -0.9 13 -3.2 10.9 -4 9.1 -2 2.4 -2.5 1.6 -3.5 1.2 -3 0.2 -2-0.6 -3-1.9 -3-2.9 -3.1-4 -1.5-3 -1.2-4 -0.6-4 0.3-3 1-3 8.1-15.7 3-4.8 4-3.9 8-5.6zM390.0 167.0l1.2-0.4 0.7 0.4 0.1 2 -1.8 5 -1.5 2 -1.5 0.7 -0.8-0.7 0.2-2 1.6-4.4 1.8-2.6z"/>
<path fill="#ff2000" fill-rule="evenodd" d="M433.3 39.0l2.9-0.6 2 0.8 1.5 1.8 1.3 3 0.9 7 -0.9 12 -2.8 8.3 -4 6.9 -3 2.7 -3 1.6 -3 0.7 -2-0.2 -2-1 -2-1.6 -3-4.4 -2.1-7 -0.2-3 0.3-3 2.2-5 6.8-12.2 4-3.7 6.1-3.1z"/>
<path fill="#ff1000" fill-rule="evenodd" d="M433.4 46.0l2.8 0.3 1 0.9 1 2.5 0.5 8.3 -1 6 -2.5 5.1 -4.2 4.9 -4.8 3.6 -3 0.3 -2.7-1.9 -2.1-4 -1.2-6 0.5-4 2.5-5.2 4-5.5 4-3.1 5.2-2.2z"/>
<path fill="#ff0000" fill-rule="evenodd" d="M424.6 60.0l1.6-0.7 2 0.2 1 0.5 0.9 2 -1.2 3 -1.7 1.7 -2 1.1 -2-0.7 -0.9-2.1 0.6-3 1.7-2z"/>
</g>
<g clip-path="url(#clipd)">
<rect x="321" y="310" width="201" height="214" fill="#0000ef"/>
<path fill="#0000ff" fill-rule="evenodd" d="M321.2 310.5l201 0 0 214 -201 0 0-214zM492.2 394.3l-3 2 -3.1 5.2 -0.3 2 0.4 1.8 2 1.7 2 0.1 2-1 2-2.1 1-2.1 0.3-2.4 -0.6-3 -1.6-2 -1.1-0.2z"/>
<path fill="#0010ff" fill-rule="evenodd" d="M321.2 310.5l201 0 0 214 -201 0 0-214zM492.2 389.0l-2 1.5 -2 2.5 -4.4 6.5 -1.9 4 -0.3 3 0.3 2 1.3 2.1 2 1.2 3 0.2 4-1.6 4-3.7 2.5-4.2 0.5-5 -1.6-6 -2.4-2.5 -1-0.3 -2 0.3z"/>
<path fill="#0020ff" fill-rule="evenodd" d="M321.2 310.5l201 0 0 214 -201 0 0-214zM494.2 385.5l-3 0.9 -2 1.8 -10 14.3 -1.7 4 -1.4 6 0 3 1.1 1.3 2 0.4 5-0.3 6-1.6 3-1.8 3-2.7 4.9-6.3 1.3-3 0.4-3 -0.8-7 -0.9-2 -1.9-2.1 -2-1.2 -3-0.7z"/>
<path fill="#0030ff" fill-rule="evenodd" d="M321.2 310.5l201 0 0 214 -201 0 0-214zM362.2 413.0l-0.7 0.5 0.1 1 2.6 1.9 3 0.1 0.8-1 -0.3-1 -1.5-1.2 -2-0.6 -2 0.3zM493.2 383.3l-2.7 1.2 -2.3 2.1 -12.3 16.9 -3.5 9 -0.9 4 0.4 3 1.8 2 2.5 0.5 3.9-0.5 8.1-1.9 4-1.9 3-2.2 4-4 4.3-5 2.7-4 1.1-3 0.4-4 -0.4-3 -1.2-3 -2.8-3 -3.3-2 -3.8-1.2 -3 0z"/>
<path fill="#0040ff" fill-rule="evenodd" d="M321.2 310.5l201 0 0 77.3 -10-1 -10.8-4.3 -4.2-1.1 -4 0.1 -2.6 1 -3.4 3 -5.6 8 -7.2 9 -4.3 10 -1.3 6 0.5 3 2 3 2.9 1.1 4-0.4 11-3 4.1-1.7 3.9-3 8-8.1 5-3.3 4-0.6 8 0.3 0 45.9 -10-0.4 -2 0.7 -0.7 1.5 0.7 1.1 2 1 10 0.9 0 68 -201 0 0-214zM346.2 401.5l-1.9 1 -0.5 1 0.3 1 9.3 11 2.3 2 4.6 2 5.9 1 4-1 2-2 0.4-2 -1-3 -2.4-2.8 -3-2.2 -7.1-4 -4.8-2 -4.1-0.6 -4 0.6z"/>
<path fill="#0050ff" fill-rule="evenodd" d="M321.2 310.5l201 0 0 73.1 -10-0.8 -15-3.2 -4 0.2 -3 1.2 -3.9 3.5 -5.7 8 -7.4 9 -5.3 12 -1.4 6 0.7 4.4 2 3.4 3 1.6 3 0 20-5.8 3-2.1 7-7.1 4-2.3 4-0.6 9 0.5 0 31.6 -10-0.5 -4 0.6 -2 1.3 -1.5 2 -1.2 3 -0.4 3 1.1 5.5 1.3 2.5 1.9 2 3.8 1.4 11 0.9 0 59.7 -201 0 0-118.6 11-0.5 4 0.5 3 0.9 5.8 3.7 6.2 6.8 2.7 2.2 3.3 1.6 5 1.2 5 0.3 3.7-1.1 3.3-3 1-3 -0.4-2 -1.6-2.9 -4.6-5.1 -4.7-3 -8.7-3.4 -4-0.9 -4-0.2 -26 1.3 0-88.8z"/>
<path fill="#0060ff" fill-rule="evenodd" d="M321.2 310.5l201 0 0 70 -10-0.8 -15-1.9 -4 0.4 -4 1.8 -3.7 3.5 -13.9 18 -6.2 14 -1.1 6 0.7 5 1.5 3 2.7 2 4 0.6 3-0.5 10-3.2 13-2 2.5-1.9 4.5-5.9 3-1.8 4-0.6 9 0.5 0 17.5 -12-0.6 -2 0.4 -2 1.1 -2 2.5 -2 4.4 -1.2 4.5 -0.6 5 0.6 5 1.2 4.6 1.9 4.4 1.8 2 1.7 1 2.6 0.7 12 1 0 54.3 -201 0 0-115.5 11-0.6 6 1 5 2.9 6.3 6.2 3.7 2.9 4 1.7 6 1.2 5 0 4-1.7 3.5-3.1 1.2-2 0.4-2 -1.2-4 -5.2-7 -4-3 -7-3 -6.5-2 -5.2-0.8 -15-1 -12 0.5 0-84.7z"/>
<path fill="#0070ff" fill-rule="evenodd" d="M321.2 310.5l201 0 0 67.1 -26-1.5 -4 0.8 -4 2.3 -4 4 -14 18.3 -6.9 15 -1.1 4 -0.3 4 0.3 4 1.1 3 1.9 1.8 3 1.1 3 0.4 3.6-0.3 13.4-3.7 4 0.2 4 1.5 1.7 2 0.7 2 -0.2 17 1.8 8.8 2.3 6.2 1.7 2.2 3 1.6 15 1.6 0 50.6 -201 0 0-113.2 11-0.6 5 0.8 5 2.8 6.8 6.2 4.2 2.9 5 1.8 6 0.9 5-0.4 4-2.1 4.4-4.1 1.3-2 0.4-2 -1.1-4 -4.8-7 -3.2-3.1 -5.1-2.9 -11.9-3.9 -17-2.8 -5-0.4 -10 0.4 0-81.3z"/>
<path fill="#0080ff" fill-rule="evenodd" d="M321.2 310.5l201 0 0 64.3 -13-0.6 -13 0.3 -5 1.3 -4.2 2.7 -3.7 4 -11.1 14.2 -3.8 5.8 -7.6 16 -1.1 5 -0.7 7 0.2 2 1 2.1 2 1.4 3 0.7 9 0.2 13-3 3 0.2 2 0.9 2 2.2 0.9 2.3 1.3 13 1 6 2.3 9 2.4 5 2.1 1.8 3 1.3 15 1.4 0 47.5 -201 0 0-111.1 11-0.5 5 0.9 4 2.2 7.8 6.5 4.2 2.7 5 1.8 6 0.8 5-0.5 4-2.1 6.2-5.7 1.3-2 0.5-2 -1-4 -4.6-7 -3.8-4 -4.8-3 -13.8-4.8 -18-3.9 -5-0.4 -9 0.4 0-78.3z"/>
<path fill="#008fff" fill-rule="evenodd" d="M321.2 310.5l201 0 0 61.7 -12-0.4 -14 1 -5 1.4 -5 3.4 -3.6 3.9 -11.4 14.8 -4 6.2 -8.2 16 -1.8 7.2 -1.1 7.8 0.6 4 0.5 1 2 1.2 15-0.8 12-1.8 2 0.3 2 1 1.6 2.1 0.8 2 5.1 25 1.5 4.4 2 3.3 2.8 2.3 3.2 1.1 15 1.3 0 44.6 -201 0 0-109.1 10-0.5 5 0.7 4 1.9 9 7 4 2.5 5 1.7 7 0.7 5-1 4-2.4 7-6.5 1.3-2 0.6-2 -1-4 -5.2-8 -3.8-4 -4.9-3.2 -14-5 -18-4.8 -6-0.7 -9 0.4 0-75.7z"/>
<path fill="#009fff" fill-rule="evenodd" d="M321.2 310.5l201 0 0 59.4 -12-0.4 -15 1.9 -6 2.4 -4.6 3.7 -16.2 21 -9.6 17 -1.8 4 -1.8 7 -1.3 6 -0.3 5 0.6 5.5 1 1.9 1 0.4 8-3.1 5-0.9 14-0.9 3 0.3 1.7 0.8 1.8 2 1.3 3 6 25 1.2 3.1 2 3.3 3 2.4 3 1.1 16 1.4 0 41.7 -201 0 0-107.1 10-0.5 5 0.7 4 2 9 6.7 5 2.9 5 1.3 6 0.4 5-1 5-3.3 7.7-7.1 1.3-2.1 0.5-2.9 -1.5-4.4 -5.1-7.6 -4.9-4.8 -5-3.1 -14-5.1 -18-5.3 -6-0.7 -9 0.4 0-73.4z"/>
<path fill="#00afff" fill-rule="evenodd" d="M321.2 310.5l201 0 0 57.1 -12-0.3 -15 2.5 -4 1.4 -3 1.6 -6 5.5 -14.9 20.2 -11 19 -1.6 5 -2.7 11 -1.2 15 0.4 5.1 1 2.8 1 0.9 1-0.3 1-1.2 3-5.3 2.3-3 2.5-2 3.2-1.5 6-1.1 8 0.1 4 0.6 3 1.9 1.9 3 1.4 4 5.7 22.7 3 5.6 3 2.5 3 1.1 17 1.6 0 38.5 -201 0 0-105.1 10-0.5 5 0.7 4 1.9 10 7.2 4 2.2 5 1.3 7 0.1 3-0.6 3-1.4 9.3-7.8 3.7-4 0.9-2 0.2-2 -0.8-3 -1.3-2.7 -5-7.3 -5-4.9 -5-3.1 -15-5.7 -18-5.7 -6-0.7 -9 0.4 0-71.3zM481.2 499.4l-2.3 1.1 -1.7 1.4 -1.1 1.6 -0.3 2 0.7 3 2.7 5.9 2 3 1 0.3 2-2.5 2-4.7 1.1-4 0.1-3 -0.5-2 -1.7-1.9 -2-0.5 -2 0.3z"/>
<path fill="#00bfff" fill-rule="evenodd" d="M321.2 310.5l201 0 0 55 -12-0.2 -16 3.2 -4 1.6 -3 1.9 -5.9 5.5 -15.2 21 -10.9 18.5 -1.9 5.5 -2.9 11 -2.6 15 -0.4 5 0.6 6 1.1 4 2.1 2.6 2 0.5 1.9-1.1 1.1-1.5 3.8-10.5 1.5-3 3.7-3.6 4-1.6 6-0.5 6 1 4 2.1 2 2.5 2 4.5 2.5 8.6 3 14 1.5 3.9 2 3.2 3 2.4 3 1 18 1.7 0 34.8 -34 0 0.5-6 2.2-12 0.2-5 -0.7-3 -1.2-1.8 -2-1.1 -2-0.4 -4 0.6 -4.5 1.7 -5.1 3 -1.5 2 -0.2 3 3.2 12 0.4 7 -152.3 0 0-103.2 10-0.5 4 0.4 5 2.2 10 7 4 2.2 5 1.1 7 0 3-0.6 3-1.5 10.8-9.1 3.6-4 0.8-2 0.2-2 -1.4-5 -5-8 -5-5.1 -6-4 -16-6.4 -18-5.9 -6-0.8 -9 0.4 0-69.2z"/>
<path fill="#00cfff" fill-rule="evenodd" d="M321.2 310.5l201 0 0 52.9 -12-0.1 -14 3 -7 2.8 -6 4.5 -4 4.5 -13.5 19.4 -10 16 -2.7 6 -4 14 -3.9 16 -0.6 6 0.3 5 0.9 4 1.5 2.7 2 2.1 2 1.2 2 0.3 3-1.4 2.5-3.9 3.2-10 1.9-4 3.4-3.2 2-0.9 3-0.6 3 0.2 4 0.9 3 1.4 2 1.7 3 4.8 3.2 9.7 3.3 20 -0.3 4 -1.3 1 -7.9 1.4 -5 1.7 -11 4.4 -2.4 1.5 -0.8 1 -0.1 3 2.6 7 1.3 5 0.5 9 -130 0 -1.1-4.4 -1-1.4 -2-1.1 -3-0.2 -11 0.7 0-94.9 10-0.6 4 0.4 5 2.1 10 7.1 4 2.2 5 0.9 7-0.3 4-1 3-1.7 11.3-9.8 3.4-4 1-4 -0.5-3 -1.2-2.9 -4.2-7.1 -4.8-5.3 -7-4.9 -16-6.6 -19-6.5 -6-0.9 -9 0.3 0-67.1zM496.5 493.5l1.7-0.8 3-0.1 21 1.4 0 30.5 -30.3 0 3.3-27 1.3-4z"/>
<path fill="#00dfff" fill-rule="evenodd" d="M321.2 310.5l201 0 0 50.9 -12-0.1 -15 3.6 -4 1.6 -4 2.3 -6.7 5.7 -17.2 25 -9.9 16 -2.2 5.8 -8.4 28.2 -0.9 8 0.3 5 0.7 3 1.3 2.5 2 2.5 2.4 2 2.6 1.4 2 0.3 2-0.4 3-2.5 2.6-4.8 4.4-12.8 2-2.6 3-1.7 3-0.3 2.6 0.4 2.6 1 2.8 1.8 4 5 3 7.2 1.1 6 0.4 9 -0.4 4 -1.1 2.3 -2 1.7 -6.2 3 -7.8 3.1 -10 2.7 -2 1.1 -0.8 1.1 0.2 3 4.1 7 1.9 5 0.9 5 0.1 6 -123 0 -0.4-4.3 -1.1-4.7 -2.9-7.6 -3.6-7.4 -2.4-7.9 -1-0.8 -2-0.4 -9 0.5 0-66.9 10-0.5 4 0.3 5 2.1 10 7.2 4 2 5 0.7 7-0.6 4-1.1 3-1.6 12-10.4 4-4.6 0.9-4 -1.6-6 -4.4-8 -4.9-5.3 -7-5 -5-2.5 -11-4.4 -20-7.1 -6-0.9 -9 0.3 0-65.1zM502.2 498.5l5-0.6 15 1 0 25.6 -26.6 0 0.7-8 1.7-12 1.7-4 2.5-2z"/>
<path fill="#00efff" fill-rule="evenodd" d="M321.2 310.5l201 0 0 48.8 -8-0.3 -4 0.3 -15 4 -8 3.9 -7 5.7 -3 3.9 -6.5 10.7 -9.2 13 -8.8 14 -2 5 -10 30 -0.7 4 -0.2 7 0.3 4 0.9 3 1.8 3 2.4 2.6 3 2.4 3 1.7 2 0.4 2-0.2 2-1.1 2-2 2.8-4.8 5.1-14 2.1-2.5 2-1 2-0.2 2 0.5 4 2.6 4 4.8 2.9 5.8 0.9 5 -0.3 7 -0.8 4 -1.8 3 -4.1 3 -6.4 3 -5.4 1.4 -10 0.9 -2 1.1 -1.2 1.6 -0.5 2 0.6 3 5.8 8 2.4 5 1 5 0.2 6 -118.7 0 -1-7 -4.1-16 -1.5-12.1 -1.7-4.9 -2.1-2 -2.2-0.6 -12 0.6 0-55.7 10-0.5 4 0.3 5 2 10 7.4 3 1.6 5 0.7 8-0.9 4-1.1 3.3-1.8 13.7-12 3.1-4 0.8-2 0.1-3 -2-6.5 -4.1-7.5 -4.9-5.4 -7-5 -13-5.9 -24-8.9 -6-1.1 -9 0.3 0-63zM506.8 506.5l3.4-0.3 12 0.9 0 17.4 -19.5 0 1.5-15 1-2 1.6-1z"/>
<path fill="#00ffff" fill-rule="evenodd" d="M321.2 310.5l201 0 0 46.7 -8-0.3 -4 0.4 -15 4.4 -5 2.1 -4 2.4 -7 5.8 -3 4.1 -6.6 11.4 -9.9 14 -7.6 12 -2.2 5 -10.7 30.3 -0.9 4.7 -0.3 7 0.2 4.3 1 3.9 2 3.6 3 3.3 5 4.1 4 2.3 2 0.2 1-0.4 2-1.6 3-3.7 2.6-5 4.4-11.7 1.5-2.3 1.5-1.2 3-0.1 3 2.1 4 4.6 2.3 4.6 0.5 4 -0.9 6 -1.7 4 -2.5 3 -4.7 3 -5 1.5 -5 0 -8-1.5 -2 1.1 -2 3.7 -0.7 4.2 0.4 3 1.4 3 5 6 2.5 4 1.5 5 0.3 7 -115.2 0 -0.9-7 -3.7-15 -2.1-16 -2.1-6 -1.5-2 -2.9-1.5 -13 0.5 0-48.9 11-0.5 5 0.8 4.7 2.6 8.3 6.6 4 1.6 4 0.1 8-1.3 4-1.1 4-2.3 13.3-11.6 3.9-5 0.7-2 0.2-3 -2.1-7.1 -4.2-7.9 -4.8-5.5 -7-5 -11-5.3 -27-10.4 -6-1.1 -9 0.3 0-61z"/>
<path fill="#10ffef" fill-rule="evenodd" d="M321.2 310.5l201 0 0 44.6 -11 0 -16 5 -9 4.5 -7.4 5.9 -3.6 4.9 -6.7 12.1 -10.7 15 -6.3 10 -2.3 5 -11.1 30 -1.1 5 -0.5 7 0 5 0.7 4.1 1.1 2.9 1.9 3.2 6.4 6.8 2.2 3 0.7 3 -0.4 8 0.6 4 1.9 4 5.6 6.7 2 3.3 1.4 5 0.2 6 -112 0 -0.7-6 -4.1-17 -2.2-17 -2.6-8.2 -2-2.8 -3-1.5 -13 0.5 0-42 11-0.6 5 0.9 4.7 2.7 7.3 6.3 4 1.6 5-0.1 9-1.9 4-1.4 4-2.5 14-12.5 2.2-2.5 1.5-3 0.5-2 -0.1-3 -3.1-9 -4-7 -4.5-5 -6.5-4.7 -11-5.4 -28-11.1 -6-1.1 -9 0.3 0-59zM471.9 462.5l1.3-0.2 2 0.9 2.9 3.3 1.2 4 -0.4 4 -1.7 5.3 -2.8 3.7 -4.2 2 -3.6 0 -2.2-1 -0.9-1 -0.1-3 5.8-15 1-1.7 1.7-1.3z"/>
<path fill="#20ffdf" fill-rule="evenodd" d="M321.2 310.5l201 0 0 42.4 -7-0.3 -4 0.4 -15 5.1 -5 2.1 -5 2.8 -5 3.5 -3.3 3 -3.5 5 -6.9 13 -11.6 16 -5 8 -2.4 5 -11.5 30 -1.3 6 -0.6 8 0.1 5.8 0.9 4.2 2.8 6 6.6 9 0.9 3 0.8 8 1 4 2 4 5.7 7 1.7 3 1.2 4 0.3 6 -108.9 0 -1-7 -3.9-15 -3.1-22.7 -1.1-4.3 -1.9-4.9 -2-2.8 -3-1.7 -3-0.2 -10 0.6 0-34.1 11-0.5 4.2 0.6 3.8 2 7 6.8 4 1.8 5 0.1 10-2.4 5-1.8 4-2.4 14.8-13.1 3.6-5 0.8-3 -0.1-3 -2.4-8 -4.1-8 -4.6-5.7 -6-4.5 -12-6.2 -29-11.7 -6-1.2 -9 0.2 0-56.9z"/>
<path fill="#30ffcf" fill-rule="evenodd" d="M321.2 310.5l201 0 0 40.1 -9-0.1 -7 1.9 -17 7.2 -7.7 4.9 -4.3 3.8 -3.6 5.2 -6.6 13 -12.3 17 -4.5 7.2 -2.7 5.8 -11.5 29 -1.3 6 -0.9 10 0 5 0.9 5 2.5 6.2 6 9.8 2.6 11 1.4 4.1 2.4 3.9 4.8 6 1.7 3 1.1 4 0.2 5 -106 0 -0.7-6 -4.3-16 -3.2-24.3 -3-12.8 -2-4 -3-2.2 -4-0.4 -10 0.6 0-24.8 10-0.5 4 0.4 3.9 2 5.1 6.1 3 2.1 5 0.8 5-0.9 13-4.1 4-2.2 3.7-2.8 11.3-10.1 3.6-3.9 2.2-4 0.4-5 -2.3-8 -3.9-8.2 -5-6.5 -5.4-4.3 -12.6-6.7 -29-12.1 -7-1.6 -9 0.3 0-54.9z"/>
<path fill="#40ffbf" fill-rule="evenodd" d="M321.2 310.5l201 0 0 37.8 -9-0.1 -6 1.7 -18 8.1 -8 5.1 -5 4.4 -3.3 5 -6.9 14 -12.6 17 -4.2 6.9 -14 33.8 -1.7 7.3 -0.9 10 0 6 0.9 5 2.4 7 5.5 10 4.4 14 8.4 12.2 1.1 3.8 0.2 5 -102.8 0 -0.8-6 -3.6-12 -1.5-7 -4.4-37 -2-11 0.1-2 13.7-2.2 15-5.4 5-2.6 14-11.8 4.9-5 3-5 0.4-5 -2.5-9 -3.8-7.9 -5-6.9 -5-4.1 -14-7.5 -29-12.4 -7-1.6 -9 0.2 0-52.8zM325.9 437.5l7.3-0.1 3 1.4 1.4 1.7 0.8 2 0.7 4 -0.1 2 -2.8 0.7 -15 1.1 0-12.5 4.7-0.3z"/>
<path fill="#50ffaf" fill-rule="evenodd" d="M321.2 310.5l201 0 0 35.4 -9 0 -6 1.8 -19 9.2 -8 5.2 -4 3.5 -4 5.7 -7.3 15.2 -12 16 -3.8 6 -12 27 -2.6 7 -1.9 8 -1.2 11 -0.1 6 0.9 6 2 6.7 5.6 11.3 4.4 12.4 2 3.6 6.2 9 0.9 3 0.3 5 -99.6 0 -0.9-6 -4.6-15 -1.9-12 -1.8-25 0.3-7 0.9-4 1.2-2 2.5-2 11.5-5.5 10-4 4-2.3 4.1-3.2 11.2-10 4.5-5 2.4-5 0-5 -2.6-9 -3.9-8 -4.7-6.8 -5-4.2 -14-7.7 -29-12.8 -7-1.8 -10 0.1 0-50.8z"/>
<path fill="#60ff9f" fill-rule="evenodd" d="M321.2 310.5l201 0 0 33 -9 0 -6 1.9 -19 9.8 -8 5.3 -5 4.4 -3.8 5.6 -4.8 11 -2.7 5 -11.6 15 -3.8 6 -14.3 32.2 -2.3 8.8 -1.6 13 -0.2 7 1 7 2.1 7 5.3 11 4.1 11 7.9 13 0.7 3 0.2 4 -96.1 0 -0.9-6 -5.3-16 -2-14 -0.7-19 0.4-6 1.2-5 1.7-3 3.2-3 8.1-5 10.2-4.5 4-2.3 15-12.8 4.3-4.4 2.8-4 1.3-4 -0.1-4 -2.5-9 -3.8-8.2 -5-7.5 -5-4.4 -15-8.3 -29-13.2 -7-1.8 -10 0.2 0-48.8z"/>
<path fill="#70ff8f" fill-rule="evenodd" d="M321.2 310.5l201 0 0 30.6 -9 0 -7 2.4 -17 9.3 -9 6 -5 4.3 -4.5 6.4 -5.2 12 -2.7 5 -11.8 15 -3.2 5 -14.1 31 -2.7 10 -1.8 14 -0.3 7 0.8 8 2.2 8 5.4 11 3.8 10 6.7 12 0.8 3 0.2 4 -92.1 0 -1-6 -3.9-10 -1.8-6 -2.1-14 -0.5-8 0.2-9 0.7-6 1.4-5 2.2-4 4-4 5.9-4 9.4-4.5 5-3 16-13.8 4.2-4.7 2.5-4 0.8-3 -0.1-4 -2.4-9 -4-8.8 -5-7.7 -5-4.6 -17-9.6 -26-12.2 -5-1.8 -4-0.7 -10 0.1 0-46.7z"/>
<path fill="#80ff80" fill-rule="evenodd" d="M321.2 310.5l201 0 0 28.1 -9 0.1 -7 2.5 -16 8.9 -11 7.7 -4.2 3.7 -4.9 7 -5.6 13 -2.7 5 -11.3 14 -3.3 5 -14.2 30 -2.8 10.8 -2.2 16.2 -0.4 7 0.7 8 1 5 1.4 4 5.3 11 3.9 10 5 10 0.7 3 0.3 4 -87.7 0 -1.1-6 -6-15 -2.4-14 -0.5-7 0.3-8 0.9-7 1.5-5 2.7-5 4.7-5 4.9-3.5 9-4.6 5-3.2 16.9-14.7 3.5-4 2.4-4 0.9-4 -0.3-4 -2.5-9 -4.2-9 -4.7-7.3 -5-4.8 -19-11.1 -14-7.1 -9-4 -6-2.2 -4-0.8 -11 0 0-44.7z"/>
<path fill="#8fff70" fill-rule="evenodd" d="M321.2 310.5l60.3 0 0.5 4 0.7 2 1.5 1.5 1 0 1-0.6 1.2-1.9 0.8-5 134 0 0 25.4 -9 0.2 -7 2.7 -16 9.1 -11 8.1 -5 4.6 -5 7.3 -5.8 13.6 -2.2 4.2 -3.5 4.8 -7.8 9 -3.4 5 -14.1 29 -2.9 11 -2.7 18 -0.5 7 0.4 9 1.9 8 5.5 12 7.3 18 0.8 3 0.4 5 -82.7 0 -1.3-6 -4.4-9.1 -2-5.4 -2.5-12.5 -0.6-7 0.1-7 1-7 1.6-6 3.1-6 5.4-6 3.9-2.8 9-4.8 5-3.4 11-9.2 6.1-5.8 3.4-4 2.4-4 1-4 -0.3-4 -2.8-10 -4.8-9.8 -4.8-7.2 -5.2-4.7 -21-12.7 -10-5.3 -9-4 -6-2.3 -5-1.2 -4-0.4 -8 0.2 0-42.6z"/>
<path fill="#9fff60" fill-rule="evenodd" d="M321.2 310.5l57.2 0 0.4 5 1.1 4 2.1 3 2.2 0.9 3-1.2 2.2-2.7 1.6-4 0.5-5 130.7 0 0 22.7 -9 0.2 -7 2.8 -17 10 -10 7.9 -5 4.7 -3 3.8 -3 4.9 -5.8 14 -2.1 4 -3.1 4.2 -8.6 9.8 -2.8 4 -14.1 28 -2.8 10 -3.4 22 -0.6 7 0.1 9 1.4 7 5.7 13 5.9 17 0.9 8 -77 0 -1.5-6 -4.2-7.4 -2.6-5.6 -2.6-11 -1-8 -0.1-6 0.8-7 1.9-7 3.4-7 5.1-6 3.9-3 9.2-5.3 5-3.5 11.1-9.2 6.2-6 4.1-5 2.2-4 0.6-3 -0.3-4 -2.9-10 -4.8-10 -4.4-7 -5.8-5.7 -22-14.1 -17-8.4 -7-2.7 -6-1.4 -4-0.4 -8 0.3 0-40.6z"/>
<path fill="#afff50" fill-rule="evenodd" d="M321.2 310.5l54.8 0 0.5 7 1.7 5.3 3 3.9 3 0.9 2-0.7 2-1.6 3.7-4.8 1.9-5 0.5-5 127.9 0 0 19.9 -9 0.2 -6 2.2 -19 11.5 -13 11.6 -4 4.8 -3.6 5.8 -6.3 15 -2.2 4 -3 4 -8.1 9 -3.5 5 -6.3 12.9 -7.3 13.1 -2.7 9.3 -4.1 25.7 -1 16 1 6 6.1 16 3.8 15 0.5 7 -70 0 -1.3-5 -6-8.8 -2-3.8 -2.9-9.4 -1.4-9 -0.3-6 0.8-7 1.8-7 3.8-8 4.7-6 3.7-3 9.8-5.9 5.6-4.1 10.8-9 7-7 4-5 1.6-3 0.7-3 -0.4-4 -2.9-10 -5.9-12 -4.8-7 -5.7-5.3 -21-14.4 -8-4.4 -9-4.2 -7-2.6 -6-1.4 -5-0.4 -8 0.3 0-38.6z"/>
<path fill="#bfff40" fill-rule="evenodd" d="M321.2 310.5l52.4 0 0.7 9 1.9 6.3 3 4.3 2 1.1 2 0.3 3-1 2-1.5 5.2-6.5 2.8-6 0.7-6 125.3 0 0 16.9 -9 0.3 -7 2.6 -19 12 -4 3.2 -5 5.1 -6 6.9 -3.5 5 -3.2 6 -4.8 12 -2.1 4 -2.9 4 -7.5 8.1 -3.8 4.9 -14.3 26 -1.8 5 -1.3 6 -1.9 14 -2.7 15 -1.6 14 0.6 5 4.4 11 1.3 5 1.2 14 0.2 8 -61 0 -1.4-5 -6.9-8 -3-4.8 -1.7-4.2 -1.4-5 -1.3-8 -0.4-6 1.5-10 1.5-5 2.3-5 3.5-5.5 4-4.2 16-10.8 10.6-8.5 6.3-6 5.4-6 2.8-4 1.1-3 -0.2-4 -3.2-11 -6.5-13 -5.3-7.5 -6-5.4 -8.7-6.1 -11.3-8.8 -8-4.5 -8-3.9 -7-2.5 -7-1.7 -5-0.4 -9 0.3 0-36.5z"/>
<path fill="#cfff30" fill-rule="evenodd" d="M321.2 310.5l50 0 0.8 11 1.8 8 1.4 2.4 1.8 1.6 2.2 1 3 0.4 3-0.7 3-1.9 5.8-6.8 4.2-7.4 0.9-3.6 0.3-4 122.8 0 0 13.6 -9 0.4 -7 2.6 -20 12.9 -4 3.3 -3 3.2 -8 10.4 -4.3 6.6 -9.5 21 -13.7 16 -14.1 24 -2 5 -1.3 5 -2.5 19 -6.2 30 0.8 5 3.8 8.3 1.2 4.7 -0.1 5 -2 11 -0.3 7 -49.9 0 -0.6-3 -1.1-2 -9.2-8.8 -4-6.2 -1.7-5 -1.3-5.8 -0.9-6.2 -0.1-5 2-10 4.4-10 3.5-5 3.1-3.2 15-10.3 10.8-8.5 5.2-4.7 10.4-11.3 1.5-3 0.1-4 -2.2-8 -2.4-6 -5.8-11 -3.6-5.6 -6-6.6 -10.2-7.8 -8.8-7.7 -14-9 -9-3.6 -12-2.4 -13 0.1 0-34.4z"/>
<path fill="#dfff20" fill-rule="evenodd" d="M321.2 310.5l47.5 0 0.4 19 0.7 4 1.3 2 2.1 1.3 3 0.8 4 0.4 4-0.7 3-1.4 3-2.4 3.5-4 4.2-6 2.2-4 1.2-4 0.4-5 120.5 0 0 8.2 -5 0.2 -3 0.8 -9 4.3 -7 4.2 -12 8.5 -7 6.2 -13.5 20.6 -2.9 6 -4.4 11 -2.2 4 -14 16 -13.2 21 -2.2 5 -1.5 5 -2.5 21 -4 17 -1.6 5.7 -4.1 10.3 -0.3 3 0.3 3 2.6 7 0.4 3 -0.9 2.2 -3.3 4.8 -1.8 4 -1.3 5 -0.4 7 -31.7 0 -1.2-3 -1.6-2 -11.7-8.8 -4-4.8 -3.1-7.4 -1.6-8 -0.5-5 0.4-6 2.3-8 3-7 4-6 5.2-5 11.3-7.7 13.3-10.3 15.6-15 1.6-2 0.7-2 0.1-3 -3.5-11 -8.9-17 -5.9-7.9 -4-3.9 -8.6-7.2 -8.4-8.1 -13-10.7 -5.4-2.2 -12.6-2.4 -8-0.7 -11 0.4 0-32.3z"/>
<path fill="#efff10" fill-rule="evenodd" d="M321.2 310.5l44.3 0 0 8 -0.5 5 -1.8 6.8 -2.5 6.2 -1.5 1.8 -2 1.2 -5 1.2 -5 0.1 -14-0.9 -12 0.5 0-29.9zM403.8 310.5l104.2 0 -0.2 2 -1.1 4 -2.3 3 -16.2 11.2 -6 5.1 -4 4.4 -14.2 24.3 -6.4 15 -2.1 4 -2.3 3.1 -12.6 13.9 -13 19 -2.3 5 -1.4 5 -2.1 22 -4.4 17 -2.8 7 -5.9 10 -3.2 11 -4.4 11 -2.9 3.4 -5 2.8 -9 2.6 -4 0.6 -3-0.1 -5-1.7 -8-4.7 -4-3.7 -2.6-4.2 -2.3-7 -1.5-9 0.3-6 2.1-7.5 4.3-9.5 4.7-6.3 4-3.4 10-6.9 14.9-11.4 9.1-8.8 8.1-6.2 1.3-2 0.6-3 -1.1-5 -3.6-9 -10.9-19 -5.7-7 -10.7-10 -11.3-12 -2.5-4 -0.3-3 1-2 2.1-1.4 14-3.3 4-2.1 3.8-3.2 5-6 4.4-7 1.9-5 0.5-6z"/>
<path fill="#ffff00" fill-rule="evenodd" d="M321.2 310.5l39.4 0 -0.5 9 -1.7 5 -3.2 6.5 -2 2.6 -3 2.1 -5 1 -24 0.6 0-26.8zM405.8 310.5l94 0 -0.4 3 -0.9 3 -1.4 2 -2.1 2 -10.1 7 -2.7 2.6 -4 5.2 -3.1 5.2 -4.8 11 -7.5 13 -6.4 15 -2.2 3.9 -16.2 18.1 -10.1 13 -4 6 -1.2 3 -0.9 4 -1.1 22 -2.5 10.8 -3.9 11.2 -8.1 12.7 -4.4 12.3 -3.6 7 -4 4.5 -5 3 -8 2.6 -6 0.2 -6-2.2 -6-3.8 -3.1-3.3 -2.7-5 -2.2-8.6 -0.6-6.4 0.9-6 3.2-9 3.6-7 5.1-6 25.8-18.8 11-10.1 9.5-5.1 1.8-2 0.8-3 -1.1-5 -4.2-10 -11.3-19 -5.2-7 -10.7-11 -8.4-10 -2-3 -0.6-3 0.9-2 1.5-1.4 13-6.1 4.4-3.5 3.8-4 4.4-6 3.2-6 1.3-4 0.5-6z"/>
<path fill="#ffef00" fill-rule="evenodd" d="M321.2 310.5l31.8 0 0 5 -0.7 4 -1.1 3 -2 3.1 -2 2.1 -2 1.1 -5 1 -19 1.2 0-20.5zM407.7 310.5l80.7 0 -0.4 3 -1.3 3 -5.5 6.3 -3 4.6 -5 11.6 -4.4 12.5 -7.2 13 -8.2 18 -4 5 -15.6 16 -7.6 8.6 -2 1.9 -2 1.2 -2-0.4 -1-1.1 -7.2-13.2 -11.5-18 -4.4-6 -10.6-12 -6.6-9 -1.6-4 0.4-2 1.7-2 11.8-7.5 5.1-4.5 3.9-4.6 3.4-5.4 2.6-5.5 1.2-4.5 0.3-5zM407.9 427.5l4.3-0.7 4 0.4 1 0.7 0.8 1.6 0.8 4 0.7 10 -0.3 7 -2 8 -4 10.9 -2.2 4.1 -6.3 9 -6.5 15.1 -5.2 6.9 -5.8 4.2 -7 2.7 -5 0.4 -5-1.5 -6-3.6 -3.3-3.2 -2.7-5 -2-7 -0.7-5 0.3-5 1.7-6 3.2-8 3.5-6 4.7-5 25-18 9.3-8.5 4.7-2.5z"/>
<path fill="#ffdf00" fill-rule="evenodd" d="M409.5 310.5l67.6 0 -0.9 8 -8.1 31 -8.3 16 -6.8 15 -4.3 6 -8.5 8.6 -15 13.5 -3 1.3 -2-0.7 -2-2.2 -17.5-26.5 -12.2-15 -6.2-10 -1-3 0.3-2 1.4-2 12.7-10 4-4 3.1-4 3.3-6 2.2-5 0.9-4 0.3-5zM405.4 430.5l3.8-0.9 4 1.1 2.5 2.8 1.4 5 0.8 7 -0.4 6 -1.6 6 -3.7 10 -2.8 5 -6.3 9 -6.4 14 -5.5 6.9 -5.1 4.1 -5.9 2.8 -5 0.7 -5-1.4 -5.2-3.1 -3.8-3.9 -2-3.7 -2-6.4 -0.8-5 0.3-5 1.5-5 3.1-8 3.4-6 4.5-4.9 16-11.9 9.3-6.2 7.7-6.9 3.2-2.1z"/>
<path fill="#ffcf00" fill-rule="evenodd" d="M411.3 310.5l60.7 0 -0.5 8 -1.6 13 -3.3 18 -1.7 4 -6.4 12 -6.3 13.7 -4.3 6.3 -7.7 7.9 -14 10.4 -3 1.5 -2-0.2 -3-2.5 -9-12 -8.3-12.1 -8.9-11 -5.1-9 -2-5 0.4-3 1.5-2 12.6-11 5.5-7 3.2-6 2-5 0.9-4 0.3-5zM405.7 432.5l3.5-0.2 2 0.9 1.3 1.3 2.1 4 1.3 6 0.2 5 -0.7 4 -5.1 14 -8.5 13 -6.3 13 -5.7 7 -5.6 4.6 -5 2.5 -4 0.6 -5-1.3 -5-3.2 -3.1-3.2 -2.6-5 -1.9-7 -0.3-4 0.6-4 4.9-13 3.1-5 4.3-4.5 15.6-11.5 9.5-6 6.9-5.9 3.5-2.1z"/>
<path fill="#ffbf00" fill-rule="evenodd" d="M413.1 310.5l54.8 0 -0.8 21 -1.2 13 -0.9 5 -1.9 5 -6.5 12 -6.2 13 -4.1 6 -5.1 5.2 -4 3.3 -11 6.5 -3 1.1 -3-0.8 -4-3.8 -21.6-28.5 -3.4-6 -2.5-6 -0.7-3 0.6-3 1.3-2 11.3-10.3 5.2-6.7 3.1-6 2.4-6 0.9-4 0.3-5zM404.1 435.5l3.1-0.7 3 1.5 2.1 3.2 1.8 6 0.2 4 -0.6 4 -4.8 13 -8.3 13 -6 12 -5.4 6.6 -5 4.5 -5 3 -4 0.8 -5-1.2 -4-2.6 -3-3.1 -2.7-5 -1.9-6 -0.3-4 0.7-4 4.9-13 3.2-5 4.1-4 14.9-11 10.1-6 7.9-6z"/>
<path fill="#ffaf00" fill-rule="evenodd" d="M414.9 310.5l49 0 0.3 33 -0.5 5 -1.6 5 -13.4 26 -4.1 6 -4.4 4.3 -4 2.9 -9 4.7 -4 1.2 -3-0.8 -4-3.5 -19-24.8 -3.4-6 -2.9-9 0.2-3 1.8-3 10.5-10 5-7 5.3-12 0.9-4 0.3-5zM403.2 438.5l3-0.7 1.9 0.7 1.1 1 2 3.6 1.2 4.4 0 3 -0.8 4 -4.7 12 -7.4 12 -5.7 11 -5.6 6.9 -5.7 5.1 -4.3 2.5 -4 0.6 -4-1.2 -4-2.9 -2.5-3 -2.5-4.7 -1.6-5.3 -0.2-3 0.7-4 4.9-13 3.2-4.8 4-3.7 15-10.9 9-4.9 7-4.7z"/>
<path fill="#ff9f00" fill-rule="evenodd" d="M416.8 310.5l43.1 0 0.2 7 2.3 26 -0.3 5 -1.5 5 -7.7 14 -6 12 -3.7 5.5 -3 3 -4 2.9 -8 3.7 -4 1.3 -2 0 -2-0.7 -3.3-2.7 -17.1-22 -2.5-4 -1.4-3 -2.3-9 0.4-3 1-2 10.7-11 4.6-7 5.3-12 0.9-4 0.3-5zM402.5 441.5l2.7-0.6 2 0.9 2 2.7 1.2 4 0 3 -1 4 -5 12 -6.1 10 -5.9 11 -5.2 6.3 -6 5.3 -4 2.2 -3 0.4 -4-1.2 -3-2.3 -3-3.8 -2.5-4.9 -1-4 0-3 0.6-3 4.9-13.1 2-3.2 3-3.1 15-10.9 16.3-8.7z"/>
<path fill="#ff8f00" fill-rule="evenodd" d="M418.9 310.5l37 0 0.4 7 2.9 16.3 1.3 10.7 -0.2 5 -1.3 4 -7.4 13 -8.4 16.1 -3 3.4 -4 3 -7 3.1 -5 1.5 -3-0.4 -4-2.9 -15.4-19.8 -3.4-6 -2.1-9 0.2-3 1.4-3 10-11 4.9-8 5-12 1.1-8zM401.7 444.5l2.5-0.4 2 0.9 1.6 2.5 0.5 3 -1.1 5.3 -5.3 12.7 -9.7 17.3 -5 6.4 -5 4.7 -4 2.9 -4 1 -3-0.8 -3-2.2 -2.7-3.3 -2.3-4.1 -1.2-3.9 0-3 0.5-3 4.8-13 2-3 2.9-2.9 15-10.5 4-2.2 10.5-4.4z"/>
<path fill="#ff8000" fill-rule="evenodd" d="M421.3 310.5l30.7 0 0.5 7 4.7 19.2 1.5 9.8 -0.3 4 -1.2 3.3 -6.9 11.7 -6.5 13 -2.5 4 -3 3 -3.1 2 -7 2.8 -4 1 -3.6-0.8 -3.4-2.7 -14.1-18.3 -2.9-6 -1.2-8 0.3-3 1.4-3 8.7-10 4.9-8 5.8-13 0.9-4 0.3-4zM398.0 448.5l3.2-0.9 2 0.1 1 0.5 1 1.3 0.3 2 -0.5 3 -3 9 -3.1 7 -8.5 15 -5.2 6.2 -5 4.5 -3 1.9 -3 0.6 -3-0.9 -2.8-2.3 -2.3-3 -1.9-3.6 -0.9-3.4 0.8-6 4.1-11.5 1.6-2.5 2.4-2.5 15-10.1 4-2.1 6.8-2.3z"/>
<path fill="#ff7000" fill-rule="evenodd" d="M425.0 310.5l23 0 0.7 7 4.9 15 2.5 10 0.6 5 -0.3 3 -1 3 -6.6 11 -6.4 13 -2.2 3.5 -2.4 2.5 -3.6 2.3 -6 2.3 -4 0.9 -3-0.6 -3-2.2 -13-16.9 -2.7-5.8 -0.9-8 0.5-3 0.8-2 10.1-13 9.6-18 1.9-5 0.5-4zM393.6 452.5l5.6-0.1 1 0.7 0.5 1.4 -1.2 9 -2 6 -7.3 13.2 -5 6.4 -5 4.7 -3 2 -3 0.7 -2-0.5 -2.2-1.5 -2.6-3 -1.7-3 -0.9-3 0-3 0.6-3 3.7-11 2.1-3 3-2.5 14-8.6 5.4-1.9z"/>
<path fill="#ff6000" fill-rule="evenodd" d="M431.7 310.5l11.7 0 0.9 6 4.9 11.3 2.8 8.7 2.2 8.6 0.2 4.4 -1.3 4 -5.3 9 -6.6 13.1 -3 4.5 -2.7 2.4 -3.8 2 -5.5 1.8 -3 0.2 -2.5-1 -2.5-2.2 -11.7-15.8 -1.7-5 -0.3-8 1.9-5 7.5-10 7.3-12.7 8.5-10.3 1.4-3 0.6-3zM389.1 456.5l4.1-0.3 2 1.2 0.8 1.1 0.7 2 0.2 3 -0.4 3 -1 3 -6.3 11.4 -5 6.6 -4 3.8 -3 2.1 -3 0.7 -2-0.5 -2-1.5 -2-2.4 -1.2-2.2 -0.8-3 0.6-5 3.2-10 2-3 2.2-2 14.9-8z"/>
<path fill="#ff5000" fill-rule="evenodd" d="M435.8 319.5l2.4-0.5 2 0.8 3 3.1 2.8 4.6 2.4 6 2.8 10 0.7 4 -0.2 3 -1.1 3 -9.4 17.8 -4 6.1 -3 2.7 -4 2.2 -4 1.3 -3 0.1 -2.6-1.2 -2.4-2.4 -9-12.6 -1.2-3 -0.6-3 0.2-8 2.3-5 13.3-19.8 5-4.5 7.6-4.7zM388.9 459.5l1.3 0 2 0.8 1.1 1.2 0.8 2 -0.1 4 -1.8 4.4 -6 9.8 -5 6.1 -3 2.5 -2 1 -2 0.3 -2-0.6 -3-3 -1.1-2.5 -0.3-2 0.7-5 2.7-8.4 1.7-2.6 2.4-2 9.9-4.8 3.7-1.2z"/>
<path fill="#ff4000" fill-rule="evenodd" d="M434.4 325.5l2.8-0.7 2 0.3 2 1.3 2.4 3.1 2.3 5 2.3 8 0.9 5 -0.1 3 -1.1 3 -6.7 13 -4.5 7 -3.5 3.3 -4 2.3 -3 1.2 -3 0 -2-0.9 -3-3 -4.4-5.9 -2.3-4 -1.3-6 0.4-7 1-3 1.7-3 9.9-14 5-4.5 6.2-3.5zM384.2 463.5l4-0.7 2 0.8 1.2 2.9 -1 4 -7.7 12 -2.5 3.2 -4 3 -3 0 -2.5-2.2 -1.1-4 0.6-4.4 2-6.3 1.3-2.3 2-2 8.7-4z"/>
<path fill="#ff3000" fill-rule="evenodd" d="M434.3 330.5l2.9-0.6 2 0.5 3 3.3 1.9 4.8 1.6 6 0.5 4 -0.4 3 -5.6 11.5 -4.3 6.5 -3.3 3 -4.4 2.8 -3 1 -2-0.1 -2-0.9 -2-1.8 -3-3.9 -1.7-3.1 -1.2-6 0.1-5 0.5-3 3-6 6.3-8.1 5-4.3 6.1-3.6zM382.4 467.5l2.8-0.4 1.2 0.4 0.4 1 -0.5 2 -3.4 5 -4.4 8 -2.3 1.9 -2.4 0.1 -1.6-1.8 -0.4-2.2 0.5-3 1.9-5.4 1-1.6 2-1.9 5.2-2.1z"/>
<path fill="#ff2000" fill-rule="evenodd" d="M434.5 336.5l1.7-0.4 2 0.4 2.3 3 2.3 7 0.1 3 -0.6 3 -4.1 7.6 -5.1 6.4 -3.7 3 -3.2 1.7 -2 0.4 -2-0.4 -3-2.5 -2-4.2 -0.7-7 0.9-6 2.2-4 3.6-4.1 4-2.8 7.3-4.1z"/>
<path fill="#ff1000" fill-rule="evenodd" d="M432.4 345.5l2.8-0.2 2 1.3 0.9 2.9 -0.8 3 -2.1 2.9 -8 7.6 -2 1.3 -2 0 -1.4-1.8 -0.7-3 0-5 0.9-3 1.2-1.7 2-1.7 7.2-2.6z"/>
</g>
<g clip-path="url(#clipa)">
<path d="M178.6 101.4h0M182.9 101.6h0M187.3 101.8h0" stroke="#8087ff" stroke-width="3.10" stroke-linecap="round"/>
<path d="M191.6 102.1h0M195.9 102.3h0M178.2 109.7h0M182.5 109.9h0M186.8 110.1h0M191.1 110.3h0M44.1 169.3h0M48.2 169.0h0M52.3 168.7h0M44.6 177.5h0M48.7 177.2h0M52.8 177.0h0M45.2 185.8h0M49.3 185.5h0M53.3 185.3h0M45.8 194.1h0M49.8 193.8h0M53.8 193.5h0" stroke="#808fff" stroke-width="3.10" stroke-linecap="round"/>
<path d="M174.2 101.2h0M200.3 102.6h0M204.6 102.9h0M173.9 109.5h0M195.5 110.6h0" stroke="#8097ff" stroke-width="3.10" stroke-linecap="round"/>
<path d="M209.0 103.2h0M199.8 110.9h0" stroke="#809fff" stroke-width="3.10" stroke-linecap="round"/>
<path d="M196.4 94.1h0M200.8 94.3h0M205.2 94.6h0M209.6 94.9h0M57.3 110.3h0M61.6 110.1h0M65.9 109.9h0M70.2 109.7h0M57.7 118.6h0M88.0 125.6h0M92.2 125.5h0M88.2 133.9h0M92.5 133.8h0" stroke="#80a7ff" stroke-width="3.10" stroke-linecap="round"/>
<path d="M192.1 93.8h0M52.9 110.6h0M74.5 109.5h0M169.6 109.3h0M204.1 111.1h0M53.4 118.9h0M62.0 118.4h0M66.3 118.2h0M70.6 118.0h0M160.7 117.3h0M165.0 117.5h0M169.3 117.6h0M173.5 117.8h0M83.7 125.7h0M84.0 134.0h0" stroke="#80afff" stroke-width="3.10" stroke-linecap="round"/>
<path d="M183.3 93.4h0M187.7 93.6h0M169.9 101.1h0M44.3 111.1h0M48.6 110.9h0M78.8 109.3h0M49.1 119.1h0M74.9 117.8h0M177.8 118.0h0M96.5 125.4h0M96.7 133.7h0" stroke="#80b7ff" stroke-width="3.10" stroke-linecap="round"/>
<path d="M178.9 93.1h0M40.0 111.4h0M208.4 111.4h0M44.9 119.4h0M182.1 118.2h0M79.5 125.9h0M79.8 134.2h0M188.8 151.7h0M193.0 151.9h0M197.2 152.2h0M201.3 152.5h0M205.5 152.7h0" stroke="#80bfff" stroke-width="3.10" stroke-linecap="round"/>
<path d="M69.8 101.4h0M74.2 101.2h0M83.2 109.2h0M165.2 109.2h0M40.6 119.7h0M186.4 118.4h0M75.2 126.1h0M100.8 125.3h0M75.5 134.3h0M100.9 133.6h0M184.7 151.5h0M171.8 159.2h0M176.0 159.3h0M180.1 159.5h0M184.2 159.7h0M188.4 160.0h0M192.5 160.2h0M196.7 160.5h0M200.8 160.7h0M204.9 161.0h0M187.9 168.2h0M192.0 168.5h0M196.1 168.7h0M200.2 169.0h0M204.3 169.3h0" stroke="#80c7ff" stroke-width="3.10" stroke-linecap="round"/>
<path d="M210.1 86.6h0M174.6 93.0h0M61.1 101.8h0M65.5 101.6h0M78.5 101.1h0M87.5 109.0h0M79.1 117.6h0M156.4 117.2h0M190.7 118.6h0M195.0 118.9h0M199.3 119.1h0M203.5 119.4h0M207.8 119.7h0M66.7 126.4h0M70.9 126.2h0M105.0 125.2h0M67.1 134.7h0M71.3 134.5h0M105.2 133.5h0M202.4 135.9h0M206.7 136.2h0M155.7 142.0h0M159.9 142.2h0M164.1 142.3h0M168.3 142.4h0M172.5 142.6h0M176.7 142.8h0M180.9 143.0h0M185.1 143.2h0M189.3 143.4h0M193.5 143.7h0M197.7 143.9h0M201.9 144.2h0M206.1 144.5h0M180.5 151.3h0M167.7 159.0h0M183.8 168.0h0" stroke="#80cfff" stroke-width="3.10" stroke-linecap="round"/>
<path d="M205.7 86.3h0M39.4 103.2h0M43.8 102.9h0M48.1 102.6h0M52.5 102.3h0M56.8 102.1h0M82.9 100.9h0M53.9 127.1h0M58.2 126.9h0M62.4 126.7h0M160.4 125.6h0M164.7 125.7h0M168.9 125.9h0M173.2 126.1h0M177.5 126.2h0M58.6 135.2h0M62.9 134.9h0M160.2 133.9h0M164.4 134.0h0M168.6 134.2h0M172.9 134.3h0M177.1 134.5h0M181.3 134.7h0M185.5 134.9h0M189.8 135.2h0M194.0 135.4h0M198.2 135.7h0M151.5 141.9h0M155.5 150.3h0M159.7 150.4h0M163.8 150.6h0M168.0 150.7h0M172.2 150.9h0M176.3 151.1h0M163.6 158.8h0M179.7 167.8h0M187.5 176.5h0M191.5 176.7h0M195.6 177.0h0M199.7 177.2h0M203.8 177.5h0M158.4 191.8h0M162.4 192.0h0M166.4 192.1h0M170.5 192.3h0" stroke="#80d7ff" stroke-width="3.10" stroke-linecap="round"/>
<path d="M87.2 100.8h0M165.5 100.9h0M160.9 109.0h0M83.4 117.5h0M49.7 127.4h0M181.7 126.4h0M54.4 135.4h0M155.9 133.8h0M147.3 141.8h0M151.3 150.2h0M142.8 158.3h0M147.0 158.4h0M151.1 158.5h0M155.3 158.6h0M159.4 158.7h0M159.2 167.0h0M163.3 167.1h0M167.4 167.3h0M171.5 167.4h0M175.6 167.6h0M183.4 176.3h0M158.7 183.6h0M162.7 183.7h0M166.8 183.8h0M170.8 184.0h0M174.5 192.4h0M158.1 200.1h0M162.1 200.2h0M166.1 200.4h0M170.1 200.5h0" stroke="#80dfff" stroke-width="3.10" stroke-linecap="round"/>
<path d="M201.3 86.1h0M170.2 92.8h0M91.8 108.9h0M41.2 128.0h0M45.4 127.7h0M156.2 125.5h0M186.0 126.7h0M190.2 126.9h0M194.5 127.1h0M198.7 127.4h0M203.0 127.7h0M207.2 128.0h0M50.2 135.7h0M109.4 133.4h0M151.7 133.7h0M143.1 141.8h0M143.0 150.0h0M147.1 150.1h0M155.0 166.9h0M175.2 175.9h0M179.3 176.1h0M154.6 183.4h0M174.9 184.2h0M154.4 191.7h0M178.5 192.6h0M174.1 200.7h0" stroke="#80e7ff" stroke-width="3.10" stroke-linecap="round"/>
<path d="M91.6 100.6h0M87.7 117.3h0M109.3 125.1h0M46.0 135.9h0M147.5 133.6h0M84.3 142.3h0M88.5 142.2h0M138.7 158.3h0M146.8 166.7h0M150.9 166.8h0M56.9 176.7h0M171.1 175.7h0M178.9 184.4h0M183.0 184.6h0M182.5 192.8h0M154.2 200.0h0M178.1 200.9h0M182.1 201.1h0" stroke="#80efff" stroke-width="3.10" stroke-linecap="round"/>
<path d="M196.9 85.8h0M151.9 125.4h0M41.7 136.2h0M143.2 133.5h0M75.9 142.6h0M80.1 142.4h0M92.7 142.0h0M138.9 141.7h0M138.8 150.0h0M142.7 166.6h0M167.1 175.6h0M150.5 183.3h0M187.0 184.8h0M57.8 193.3h0M150.4 191.6h0M186.5 193.0h0M186.1 201.3h0" stroke="#80f7ff" stroke-width="3.10" stroke-linecap="round"/>
<path d="M192.5 85.5h0M38.8 94.9h0M165.8 92.6h0M161.2 100.8h0M156.6 108.9h0M92.0 117.2h0M152.1 117.1h0M59.1 143.4h0M63.3 143.2h0M67.5 143.0h0M71.7 142.8h0M163.0 175.4h0M191.1 185.0h0M195.1 185.3h0M199.1 185.5h0M203.2 185.8h0M46.4 202.3h0M46.9 210.6h0M50.9 210.3h0M54.9 210.1h0M58.8 209.8h0" stroke="#80ffff" stroke-width="3.10" stroke-linecap="round"/>
<path d="M43.2 94.6h0M47.6 94.3h0M96.1 108.8h0M139.0 133.4h0M54.9 143.7h0M138.6 166.6h0M60.9 176.5h0M142.6 174.9h0M146.7 175.0h0M150.7 175.1h0M154.8 175.2h0M158.9 175.3h0M146.5 183.2h0M190.6 193.3h0M50.4 202.0h0M190.1 201.5h0M62.8 209.6h0M126.2 224.4h0" stroke="#87fff7" stroke-width="3.10" stroke-linecap="round"/>
<path d="M188.1 85.3h0M52.0 94.1h0M95.9 100.5h0M147.6 125.3h0M113.6 133.4h0M134.7 141.7h0M72.1 151.1h0M134.6 158.2h0M56.4 168.5h0M138.5 174.8h0M57.3 185.0h0M146.3 191.5h0M194.6 193.5h0M54.3 201.8h0M150.2 199.9h0M153.9 208.3h0M157.9 208.4h0M169.4 217.1h0M122.2 224.4h0M130.1 224.5h0M134.0 224.5h0" stroke="#8fffef" stroke-width="3.10" stroke-linecap="round"/>
<path d="M210.7 78.4h0M183.7 85.1h0M56.3 93.8h0M161.4 92.5h0M96.3 117.1h0M113.5 125.1h0M96.9 141.9h0M59.6 151.7h0M63.7 151.5h0M67.9 151.3h0M76.2 150.9h0M142.4 183.2h0M61.9 193.0h0M58.3 201.5h0M161.9 208.5h0M47.5 218.8h0M51.5 218.6h0M55.4 218.3h0M59.3 218.1h0M173.4 217.3h0M137.9 224.5h0" stroke="#97ffe7" stroke-width="3.10" stroke-linecap="round"/>
<path d="M85.7 51.1h0M90.2 51.0h0M206.3 78.1h0M179.3 84.9h0M156.8 100.6h0M152.3 108.8h0M50.7 143.9h0M55.4 151.9h0M134.6 149.9h0M43.5 161.0h0M134.5 166.5h0M65.0 176.3h0M198.6 193.8h0M62.3 201.3h0M194.1 201.8h0M66.7 209.4h0M63.2 217.9h0M165.5 216.9h0M141.8 224.6h0" stroke="#9fffdf" stroke-width="3.10" stroke-linecap="round"/>
<path d="M76.7 51.4h0M81.2 51.2h0M94.8 50.8h0M201.9 77.8h0M38.3 86.6h0M100.3 100.4h0M100.4 108.7h0M143.4 125.2h0M134.8 133.4h0M130.5 141.6h0M47.1 152.5h0M51.2 152.2h0M47.6 160.7h0M51.7 160.5h0M60.5 168.2h0M134.4 174.8h0M61.4 184.8h0M138.4 183.1h0M142.3 191.5h0M150.0 208.2h0M165.8 208.7h0M161.6 216.8h0M118.3 224.5h0M145.7 224.7h0M149.6 224.7h0" stroke="#a7ffd7" stroke-width="3.10" stroke-linecap="round"/>
<path d="M72.1 51.6h0M104.0 59.0h0M211.3 70.1h0M197.4 77.5h0M42.7 86.3h0M174.9 84.7h0M60.7 93.6h0M157.1 92.4h0M100.6 117.0h0M147.8 117.0h0M117.9 133.3h0M46.5 144.2h0M101.1 141.8h0M42.9 152.7h0M80.4 150.7h0M55.9 160.2h0M130.4 158.2h0M69.1 176.1h0M202.6 194.1h0M146.2 199.8h0M169.8 208.8h0M67.2 217.6h0M177.3 217.4h0M153.5 224.8h0" stroke="#afffcf" stroke-width="3.10" stroke-linecap="round"/>
<path d="M85.5 42.8h0M90.0 42.7h0M99.3 50.8h0M108.5 58.9h0M206.8 69.8h0M193.0 77.3h0M47.1 86.1h0M51.5 85.8h0M152.5 100.5h0M60.0 160.0h0M64.2 159.7h0M68.3 159.5h0M72.4 159.3h0M130.4 166.5h0M134.3 183.1h0M65.9 192.8h0M138.3 191.4h0M66.3 201.1h0M198.0 202.0h0M70.7 209.2h0M146.0 208.1h0M157.6 216.7h0M114.4 224.5h0M157.4 224.9h0" stroke="#b7ffc7" stroke-width="3.10" stroke-linecap="round"/>
<path d="M76.3 43.1h0M80.9 43.0h0M94.6 42.6h0M99.1 42.5h0M67.6 51.8h0M103.8 50.7h0M99.5 59.0h0M202.4 69.5h0M188.6 77.0h0M55.9 85.5h0M170.5 84.5h0M65.1 93.4h0M139.1 125.1h0M130.5 133.3h0M84.6 150.6h0M130.5 149.9h0M64.6 168.0h0M130.3 174.8h0M65.4 184.6h0M173.7 209.0h0M71.1 217.4h0M153.7 216.6h0" stroke="#bfffbf" stroke-width="3.10" stroke-linecap="round"/>
<path d="M71.8 43.3h0M103.7 42.4h0M63.1 52.0h0M95.0 59.1h0M211.9 61.9h0M193.4 69.0h0M197.9 69.3h0M184.1 76.8h0M60.3 85.3h0M152.7 92.3h0M104.6 100.4h0M104.8 108.6h0M148.0 108.7h0M104.9 116.9h0M117.8 125.1h0M42.3 144.5h0M126.3 141.6h0M76.6 159.2h0M73.2 175.9h0M134.3 191.4h0M70.3 200.9h0M177.7 209.2h0M149.8 216.5h0M181.2 217.6h0M48.1 227.1h0M52.0 226.8h0M55.9 226.6h0M59.8 226.3h0M63.7 226.1h0M161.3 225.1h0" stroke="#c7ffb7" stroke-width="3.10" stroke-linecap="round"/>
<path d="M62.7 43.7h0M67.2 43.5h0M108.2 42.3h0M108.3 50.6h0M212.4 53.6h0M207.4 61.5h0M189.0 68.8h0M179.7 76.6h0M64.7 85.1h0M166.1 84.3h0M69.5 93.1h0M122.1 133.3h0M105.3 141.8h0M122.1 141.6h0M88.7 150.4h0M126.3 158.2h0M126.3 166.5h0M130.3 183.0h0M69.9 192.6h0M130.2 191.3h0M142.2 199.7h0M202.0 202.3h0M74.7 209.0h0M142.0 208.0h0M75.0 217.3h0M145.8 216.4h0M67.6 225.9h0M110.5 224.5h0M165.2 225.2h0" stroke="#cfffaf" stroke-width="3.10" stroke-linecap="round"/>
<path d="M58.1 43.9h0M112.8 42.3h0M58.6 52.2h0M112.9 50.6h0M198.9 52.7h0M203.4 53.0h0M207.9 53.3h0M90.5 59.2h0M113.0 58.8h0M198.4 61.0h0M202.9 61.3h0M86.2 67.7h0M90.7 67.5h0M180.1 68.3h0M184.5 68.5h0M175.2 76.4h0M69.1 84.9h0M73.5 84.7h0M77.9 84.5h0M82.3 84.3h0M86.7 84.2h0M148.1 100.4h0M109.2 116.9h0M134.9 125.1h0M126.3 133.3h0M109.5 141.7h0M113.7 141.7h0M117.9 141.6h0M68.7 167.8h0M126.2 174.7h0M69.5 184.4h0M126.2 191.3h0M74.3 200.7h0M126.2 199.6h0M130.2 199.6h0M134.2 199.6h0M138.2 199.7h0M78.6 208.8h0M82.6 208.7h0M86.5 208.5h0M90.5 208.4h0M94.5 208.3h0M98.4 208.2h0M102.4 208.1h0M106.4 208.0h0M110.3 208.0h0M114.3 207.9h0M118.3 207.9h0M122.2 207.9h0M126.2 207.9h0M130.1 207.9h0M134.1 207.9h0M138.1 208.0h0M181.7 209.4h0M79.0 217.1h0M82.9 216.9h0M86.8 216.8h0M90.8 216.7h0M94.7 216.6h0M98.6 216.5h0M102.6 216.4h0M106.5 216.3h0M110.4 216.2h0M114.4 216.2h0M118.3 216.2h0M122.2 216.2h0M126.2 216.2h0M130.1 216.2h0M134.0 216.2h0M138.0 216.2h0M141.9 216.3h0M71.5 225.7h0M75.4 225.5h0M79.3 225.4h0M83.2 225.2h0M87.1 225.1h0M91.0 224.9h0M94.9 224.8h0M98.8 224.7h0M102.7 224.7h0M106.6 224.6h0M169.1 225.4h0M173.0 225.5h0M176.9 225.7h0M180.8 225.9h0M184.7 226.1h0M188.6 226.3h0M192.5 226.6h0M196.4 226.8h0M200.3 227.1h0" stroke="#d7ffa7" stroke-width="3.10" stroke-linecap="round"/>
<path d="M199.9 36.2h0M204.4 36.5h0M209.0 36.8h0M213.6 37.1h0M53.6 44.2h0M117.4 42.2h0M199.4 44.4h0M203.9 44.7h0M208.5 45.0h0M213.0 45.3h0M189.8 52.2h0M194.4 52.5h0M81.5 59.5h0M86.0 59.4h0M189.4 60.5h0M193.9 60.7h0M77.3 68.0h0M81.7 67.8h0M95.1 67.4h0M99.6 67.3h0M175.6 68.1h0M170.8 76.2h0M91.1 84.1h0M73.8 93.0h0M78.2 92.8h0M148.3 92.2h0M109.0 100.3h0M143.5 116.9h0M126.3 149.9h0M77.3 175.7h0M126.2 183.0h0M122.2 191.3h0M110.2 199.7h0M114.2 199.6h0M118.2 199.6h0M122.2 199.6h0M185.2 217.9h0" stroke="#dfff9f" stroke-width="3.10" stroke-linecap="round"/>
<path d="M34.8 37.1h0M39.4 36.8h0M44.0 36.5h0M48.5 36.2h0M53.1 35.9h0M57.7 35.7h0M62.3 35.4h0M186.1 35.4h0M190.7 35.7h0M195.3 35.9h0M39.9 45.0h0M44.5 44.7h0M49.0 44.4h0M121.9 42.2h0M167.5 43.0h0M172.1 43.1h0M176.6 43.3h0M181.2 43.5h0M185.7 43.7h0M190.3 43.9h0M194.8 44.2h0M54.0 52.5h0M117.4 50.5h0M180.8 51.8h0M185.3 52.0h0M72.5 59.9h0M77.0 59.7h0M180.4 60.0h0M184.9 60.3h0M72.8 68.1h0M104.1 67.2h0M171.1 68.0h0M37.7 78.4h0M42.1 78.1h0M46.5 77.8h0M51.0 77.5h0M55.4 77.3h0M59.8 77.0h0M161.7 84.2h0M82.6 92.6h0M87.0 92.5h0M109.1 108.6h0M130.6 125.1h0M92.9 150.3h0M122.1 158.2h0M122.1 166.5h0M122.2 174.7h0M122.2 183.0h0M118.2 191.3h0M78.3 200.5h0M82.3 200.4h0M86.3 200.2h0M90.3 200.1h0M94.2 200.0h0M98.2 199.9h0M102.2 199.8h0M106.2 199.7h0M185.6 209.6h0" stroke="#e7ff97" stroke-width="3.10" stroke-linecap="round"/>
<path d="M66.9 35.2h0M71.4 35.0h0M76.0 34.8h0M80.6 34.7h0M85.2 34.5h0M89.8 34.4h0M94.4 34.3h0M99.0 34.2h0M103.6 34.1h0M108.1 34.0h0M112.7 34.0h0M117.3 34.0h0M167.8 34.7h0M172.4 34.8h0M177.0 35.0h0M181.5 35.2h0M35.4 45.3h0M126.5 42.2h0M131.0 42.2h0M135.6 42.3h0M140.2 42.3h0M144.7 42.4h0M149.3 42.5h0M153.8 42.6h0M158.4 42.7h0M162.9 42.8h0M40.5 53.3h0M45.0 53.0h0M49.5 52.7h0M121.9 50.5h0M167.2 51.2h0M171.7 51.4h0M176.3 51.6h0M59.0 60.5h0M63.5 60.3h0M68.0 60.0h0M175.9 59.9h0M59.4 68.8h0M63.9 68.5h0M68.3 68.3h0M166.7 67.8h0M64.3 76.8h0M77.6 76.2h0M82.0 76.1h0M86.5 75.9h0M90.9 75.8h0M166.4 76.1h0M95.5 84.0h0M91.3 92.4h0M143.8 100.4h0M143.6 108.6h0M113.5 116.8h0M122.1 125.1h0M80.7 159.0h0M72.8 167.6h0M81.3 175.6h0M118.1 174.8h0M73.5 184.2h0M118.1 183.0h0M73.9 192.4h0M110.1 191.4h0M114.1 191.4h0M189.6 209.8h0M193.5 210.1h0M197.5 210.3h0M201.5 210.6h0M189.1 218.1h0M193.0 218.3h0M196.9 218.6h0M200.9 218.8h0" stroke="#efff8f" stroke-width="3.10" stroke-linecap="round"/>
<path d="M121.9 33.9h0M126.5 33.9h0M131.1 34.0h0M135.7 34.0h0M140.3 34.0h0M144.8 34.1h0M149.4 34.2h0M154.0 34.3h0M158.6 34.4h0M163.2 34.5h0M36.0 53.6h0M126.5 50.5h0M131.0 50.5h0M135.5 50.6h0M140.1 50.6h0M144.6 50.7h0M149.1 50.8h0M153.6 50.8h0M158.2 51.0h0M162.7 51.1h0M36.5 61.9h0M41.0 61.5h0M45.5 61.3h0M50.0 61.0h0M54.5 60.7h0M117.5 58.8h0M166.9 59.5h0M171.4 59.7h0M37.1 70.1h0M41.6 69.8h0M46.0 69.5h0M50.5 69.3h0M55.0 69.0h0M162.2 67.7h0M68.7 76.6h0M73.2 76.4h0M95.3 75.7h0M161.9 75.9h0M99.9 83.9h0M157.3 84.1h0M95.7 92.3h0M100.1 92.2h0M113.3 100.3h0M113.4 108.5h0M139.2 116.9h0M97.1 150.2h0M122.1 149.9h0M118.0 166.5h0M114.0 174.8h0M114.1 183.1h0M106.1 191.5h0" stroke="#f7ff87" stroke-width="3.10" stroke-linecap="round"/>
<path d="M157.9 59.2h0M162.4 59.4h0M108.6 67.2h0M99.8 75.6h0M104.5 92.1h0M143.9 92.1h0M117.8 116.8h0M126.3 125.1h0M109.9 174.8h0" stroke="#ffff80" stroke-width="3.10" stroke-linecap="round"/>
<path d="M153.4 59.1h0M157.7 67.5h0M104.2 75.5h0M157.5 75.8h0M104.4 83.8h0M152.9 84.0h0M108.9 92.0h0M139.4 100.3h0M139.3 108.6h0M134.9 116.8h0M117.9 149.9h0M76.9 167.4h0M85.4 175.4h0M105.8 174.9h0M77.6 184.0h0M110.0 183.1h0M77.9 192.3h0M82.0 192.1h0M102.1 191.5h0" stroke="#fff780" stroke-width="3.10" stroke-linecap="round"/>
<path d="M144.4 59.0h0M148.9 59.0h0M139.5 92.0h0M117.7 100.2h0M117.7 108.5h0M135.0 108.5h0M122.1 116.8h0M130.6 116.8h0M101.3 150.1h0M84.8 158.8h0M118.0 158.2h0M113.9 166.5h0M101.7 175.0h0M81.6 183.8h0M106.0 183.2h0M86.0 192.0h0M98.0 191.6h0" stroke="#ffef80" stroke-width="3.10" stroke-linecap="round"/>
<path d="M122.0 58.8h0M135.4 58.8h0M139.9 58.9h0M153.3 67.4h0M108.7 75.5h0M153.1 75.7h0M108.8 83.7h0M148.5 83.9h0M113.2 92.0h0M135.1 100.3h0M126.3 116.8h0M113.8 149.9h0M89.5 175.3h0M97.7 175.1h0M101.9 183.2h0M90.0 191.8h0M94.0 191.7h0" stroke="#ffe780" stroke-width="3.10" stroke-linecap="round"/>
<path d="M126.4 58.8h0M130.9 58.8h0M113.0 67.1h0M135.2 92.0h0M130.7 100.2h0M130.7 108.5h0M81.0 167.3h0M93.6 175.2h0M85.7 183.7h0M97.9 183.3h0" stroke="#ffdf80" stroke-width="3.10" stroke-linecap="round"/>
<path d="M148.8 67.3h0M148.6 75.6h0M144.0 83.8h0M117.6 91.9h0M122.0 100.2h0M122.0 108.5h0M126.4 108.5h0M105.4 150.0h0M109.6 150.0h0M109.8 166.6h0M89.7 183.6h0M93.8 183.4h0" stroke="#ffd780" stroke-width="3.10" stroke-linecap="round"/>
<path d="M113.1 75.4h0M113.2 83.7h0M130.8 91.9h0M126.4 100.2h0M113.8 158.2h0M105.7 166.6h0" stroke="#ffcf80" stroke-width="3.10" stroke-linecap="round"/>
<path d="M144.3 67.2h0M144.2 75.5h0M139.6 83.7h0M122.0 91.9h0M126.4 91.9h0M89.0 158.7h0M85.1 167.1h0" stroke="#ffc780" stroke-width="3.10" stroke-linecap="round"/>
<path d="M101.6 166.7h0" stroke="#ffbf80" stroke-width="3.10" stroke-linecap="round"/>
<path d="M117.5 67.1h0M139.8 67.2h0M139.7 75.5h0M117.6 83.7h0M135.2 83.7h0M89.2 167.0h0M97.5 166.8h0" stroke="#ffb780" stroke-width="3.10" stroke-linecap="round"/>
<path d="M117.5 75.4h0M93.1 158.6h0M97.3 158.5h0M109.7 158.3h0M93.4 166.9h0" stroke="#ffaf80" stroke-width="3.10" stroke-linecap="round"/>
<path d="M135.4 67.1h0M135.3 75.4h0M130.8 83.7h0M101.4 158.4h0M105.6 158.3h0" stroke="#ffa780" stroke-width="3.10" stroke-linecap="round"/>
<path d="M122.0 83.6h0" stroke="#ff9f80" stroke-width="3.10" stroke-linecap="round"/>
<path d="M122.0 67.1h0M130.9 67.1h0M122.0 75.4h0M130.9 75.4h0M126.4 83.6h0" stroke="#ff9780" stroke-width="3.10" stroke-linecap="round"/>
<path d="M126.4 67.1h0M126.4 75.4h0" stroke="#ff8f80" stroke-width="3.10" stroke-linecap="round"/>
</g>
<g clip-path="url(#clipc)">
<path d="M193.7 418.5h0M42.4 467.0h0M41.0 473.3h0M40.7 474.6h0M41.3 471.1h0M40.5 473.5h0M39.7 476.0h0M40.3 472.1h0M38.9 475.8h0" stroke="#2e2ef2" stroke-width="2.40" stroke-linecap="round"/>
<path d="M86.4 415.5h0M191.7 413.7h0M194.6 420.9h0M197.0 426.9h0M41.5 470.8h0M41.2 472.0h0M40.1 477.1h0M39.2 480.9h0M40.1 474.8h0M38.9 478.5h0M41.2 469.7h0M39.4 474.5h0M194.0 422.4h0M192.5 428.7h0M192.2 430.0h0M190.7 436.3h0M190.4 437.6h0M205.0 405.1h0M203.3 411.4h0M197.9 431.5h0M191.1 401.9h0M51.5 481.0h0M41.4 489.3h0M188.4 418.9h0" stroke="#2e2eff" stroke-width="2.40" stroke-linecap="round"/>
<path d="M48.5 469.4h0M48.8 470.7h0M51.4 479.4h0M87.4 417.9h0M161.8 401.8h0M180.6 385.9h0M196.1 424.5h0M197.5 428.2h0M198.0 429.4h0M183.9 417.5h0M187.4 432.7h0M190.8 447.9h0M195.0 403.4h0M197.9 413.4h0M41.8 469.5h0M42.0 468.6h0M39.3 477.3h0M40.7 470.9h0M39.8 473.3h0M200.2 395.8h0M198.7 402.1h0M197.5 407.2h0M197.2 408.4h0M194.6 419.8h0M191.3 433.8h0M191.0 435.0h0M206.0 401.4h0M205.7 402.6h0M209.7 405.0h0M207.5 411.1h0M207.0 412.3h0M196.2 397.9h0M195.2 398.7h0M190.0 402.7h0M49.5 482.7h0M45.5 486.0h0M43.5 487.6h0M42.5 488.4h0M191.3 421.5h0M196.2 425.8h0M197.2 426.7h0" stroke="#2e3bff" stroke-width="2.40" stroke-linecap="round"/>
<path d="M55.7 472.3h0M47.0 464.4h0M47.7 466.9h0M48.1 468.2h0M49.2 471.9h0M72.7 416.4h0M73.1 417.7h0M163.4 406.7h0M179.9 417.6h0M181.2 421.3h0M185.2 432.3h0M185.6 433.6h0M187.8 439.7h0M185.0 396.8h0M185.9 399.2h0M191.2 412.5h0M192.7 416.1h0M195.1 422.1h0M196.6 425.7h0M176.7 385.8h0M177.6 389.6h0M179.3 397.2h0M181.3 406.1h0M185.6 425.1h0M187.9 435.2h0M188.5 437.7h0M188.8 439.0h0M195.3 404.7h0M195.7 405.9h0M196.8 409.7h0M198.2 414.7h0M198.6 415.9h0M199.7 419.7h0M212.1 394.3h0M40.4 475.8h0M39.8 478.4h0M39.5 479.6h0M43.6 463.6h0M40.9 472.3h0M41.6 468.4h0M83.7 414.8h0M83.1 417.3h0M51.5 482.5h0M86.9 416.8h0M86.4 418.0h0M180.4 385.6h0M179.7 388.1h0M178.5 391.8h0M185.5 385.5h0M184.2 389.1h0M182.4 394.0h0M196.4 412.2h0M196.1 413.5h0M195.8 414.8h0M194.9 418.6h0M193.4 424.9h0M192.8 427.4h0M191.9 431.2h0M191.6 432.5h0M190.1 438.8h0M189.8 440.1h0M189.3 442.6h0M188.7 445.2h0M205.3 403.9h0M204.3 407.7h0M204.0 408.9h0M201.6 417.7h0M198.9 427.7h0M206.6 413.5h0M203.4 422.1h0M202.5 424.5h0M194.0 447.7h0M180.1 385.3h0M189.0 403.5h0M184.9 406.7h0M52.5 480.2h0M50.5 481.9h0M47.5 484.3h0M46.5 485.1h0M165.0 398.4h0M171.8 404.4h0M179.6 411.2h0M193.3 423.2h0M194.3 424.1h0M199.2 428.4h0M202.1 430.9h0M192.6 451.6h0" stroke="#2e48ff" stroke-width="2.40" stroke-linecap="round"/>
<path d="M50.3 475.6h0M51.0 478.1h0M52.5 483.1h0M73.6 418.9h0M86.9 416.7h0M87.8 419.1h0M178.2 412.7h0M186.5 436.0h0M188.2 440.9h0M188.6 442.1h0M189.1 443.4h0M190.8 448.3h0M180.1 384.7h0M181.1 387.1h0M182.5 390.7h0M186.4 400.4h0M186.9 401.6h0M187.4 402.8h0M187.9 404.0h0M188.3 405.2h0M188.8 406.4h0M190.3 410.1h0M190.8 411.3h0M192.2 414.9h0M193.2 417.3h0M176.2 383.2h0M176.4 384.5h0M177.0 387.0h0M177.9 390.8h0M179.9 399.7h0M181.9 408.6h0M182.8 412.4h0M183.1 413.7h0M184.2 418.7h0M184.8 421.3h0M193.9 399.7h0M196.0 407.2h0M197.1 410.9h0M198.9 417.2h0M199.3 418.4h0M200.4 422.1h0M200.7 423.4h0M212.6 395.5h0M43.5 461.9h0M42.9 464.4h0M42.1 468.2h0M42.8 466.1h0M42.4 467.3h0M41.6 469.8h0M44.3 461.1h0M83.4 416.1h0M77.5 417.3h0M53.0 478.9h0M52.0 481.3h0M157.0 401.4h0M180.0 386.8h0M179.3 389.3h0M178.1 393.0h0M177.0 396.8h0M175.6 412.3h0M175.2 413.5h0M199.3 399.6h0M199.0 400.9h0M198.1 404.6h0M197.8 405.9h0M196.9 409.7h0M196.6 411.0h0M195.5 416.0h0M193.7 423.6h0M189.6 441.4h0M206.7 398.9h0M204.6 406.4h0M203.0 412.7h0M201.9 416.4h0M199.9 424.0h0M197.2 434.0h0M194.9 442.8h0M194.2 445.3h0M211.9 398.9h0M210.6 402.6h0M209.3 406.2h0M204.3 419.6h0M203.9 420.8h0M200.7 429.4h0M199.8 431.8h0M198.0 436.7h0M197.6 437.9h0M197.1 439.1h0M196.7 440.4h0M195.8 442.8h0M194.4 446.5h0M193.1 450.1h0M176.5 386.9h0M208.5 388.4h0M197.2 397.1h0M193.1 400.3h0M185.9 405.9h0M178.7 411.5h0M55.6 477.8h0M48.5 483.5h0M44.5 486.8h0M172.8 405.2h0M175.7 407.8h0M184.5 415.5h0M185.5 416.4h0M187.4 418.1h0M189.4 419.8h0M190.4 420.7h0M192.3 422.4h0M198.2 427.5h0M201.1 430.1h0M204.0 432.7h0" stroke="#2e55ff" stroke-width="2.40" stroke-linecap="round"/>
<path d="M53.3 466.3h0M53.8 467.5h0M47.4 465.7h0M49.6 473.2h0M51.8 480.6h0M52.1 481.9h0M52.9 484.4h0M53.6 486.9h0M54.0 488.1h0M70.5 410.3h0M72.3 415.2h0M161.4 400.5h0M173.0 398.0h0M174.7 402.9h0M179.1 415.2h0M180.8 420.1h0M182.1 423.8h0M183.0 426.2h0M186.0 434.8h0M187.3 438.5h0M189.5 444.6h0M191.2 449.5h0M193.0 454.4h0M178.2 379.9h0M178.7 381.1h0M179.6 383.5h0M182.1 389.5h0M183.5 393.2h0M184.0 394.4h0M195.6 423.3h0M198.5 430.6h0M199.0 431.8h0M199.4 433.0h0M178.2 392.1h0M179.0 395.9h0M179.6 398.4h0M180.2 401.0h0M180.8 403.5h0M181.0 404.8h0M183.3 414.9h0M185.1 422.5h0M185.4 423.8h0M186.2 427.6h0M186.5 428.9h0M187.7 433.9h0M188.2 436.5h0M189.4 441.6h0M189.7 442.8h0M190.0 444.1h0M190.2 445.4h0M190.5 446.6h0M191.1 449.2h0M193.2 397.2h0M193.5 398.4h0M194.2 400.9h0M194.6 402.2h0M196.4 408.4h0M197.5 412.2h0M201.8 427.1h0M204.4 435.9h0M211.2 391.9h0M214.1 399.2h0M214.6 400.4h0M215.1 401.6h0M42.7 465.7h0M61.9 405.3h0M59.5 412.7h0M44.0 462.4h0M42.5 466.0h0M42.1 467.2h0M83.9 413.5h0M82.8 418.6h0M78.5 414.9h0M77.1 418.5h0M76.6 419.7h0M76.1 421.0h0M54.9 474.1h0M53.9 476.5h0M53.4 477.7h0M50.1 486.2h0M49.6 487.4h0M48.6 489.8h0M87.8 414.3h0M87.3 415.5h0M158.5 397.8h0M158.0 399.0h0M156.5 402.6h0M178.9 390.5h0M176.6 398.0h0M174.3 405.5h0M184.6 387.9h0M181.9 395.2h0M181.0 397.6h0M199.6 398.3h0M198.4 403.4h0M195.2 417.3h0M193.1 426.2h0M207.4 396.4h0M203.6 410.2h0M202.6 413.9h0M201.3 419.0h0M199.2 426.5h0M196.5 436.5h0M196.2 437.8h0M195.5 440.3h0M194.5 444.1h0M211.5 400.1h0M210.1 403.8h0M208.8 407.4h0M205.7 416.0h0M204.8 418.4h0M202.1 425.7h0M201.6 426.9h0M198.9 434.3h0M198.5 435.5h0M192.6 451.3h0M183.7 383.7h0M178.9 385.8h0M177.7 386.3h0M174.2 387.9h0M201.3 393.9h0M199.3 395.5h0M194.1 399.5h0M192.1 401.1h0M188.0 404.3h0M186.9 405.1h0M183.9 407.5h0M182.8 408.3h0M170.5 417.8h0M164.3 422.6h0M156.1 429.0h0M167.9 400.9h0M178.6 410.4h0M181.6 412.9h0M186.5 417.2h0M195.2 424.9h0M89.8 413.4h0M160.1 425.6h0M184.5 445.1h0M185.5 445.9h0M187.5 447.5h0M191.6 450.7h0M72.6 407.9h0M70.5 409.5h0" stroke="#2e62ff" stroke-width="2.40" stroke-linecap="round"/>
<path d="M54.3 468.7h0M54.8 469.9h0M55.2 471.1h0M56.2 473.5h0M58.2 478.3h0M58.7 479.5h0M49.9 474.4h0M50.7 476.9h0M53.2 485.6h0M71.0 411.5h0M71.4 412.8h0M71.8 414.0h0M85.5 413.0h0M86.0 414.3h0M151.0 434.5h0M159.9 395.5h0M160.7 398.0h0M161.1 399.3h0M162.6 404.2h0M163.0 405.5h0M164.5 410.5h0M165.6 414.2h0M166.0 415.4h0M170.8 391.9h0M171.2 393.1h0M172.1 395.6h0M172.6 396.8h0M173.4 399.3h0M174.3 401.7h0M175.2 404.2h0M176.5 407.8h0M177.8 411.5h0M178.6 414.0h0M182.5 425.0h0M184.7 431.1h0M186.9 437.2h0M189.9 445.8h0M181.6 388.3h0M185.4 398.0h0M189.3 407.6h0M189.8 408.8h0M200.9 436.6h0M201.4 437.8h0M201.9 439.0h0M202.3 440.2h0M207.7 453.5h0M177.3 388.3h0M178.5 393.4h0M180.5 402.2h0M181.6 407.3h0M183.6 416.2h0M185.9 426.3h0M186.8 430.1h0M187.1 431.4h0M189.1 440.3h0M191.4 450.4h0M189.9 385.9h0M191.7 392.2h0M192.1 393.4h0M192.4 394.7h0M201.1 424.6h0M201.5 425.9h0M202.2 428.4h0M202.9 430.9h0M203.6 433.4h0M204.7 437.1h0M205.1 438.4h0M208.3 449.6h0M56.4 404.8h0M43.8 460.6h0M43.2 463.2h0M61.5 406.5h0M44.4 461.1h0M43.2 464.8h0M43.4 463.6h0M79.0 413.7h0M78.0 416.1h0M56.8 469.3h0M56.3 470.5h0M54.4 475.3h0M52.5 480.1h0M50.5 484.9h0M49.1 488.6h0M88.7 411.9h0M85.5 420.4h0M157.5 400.2h0M180.8 384.3h0M177.4 395.5h0M173.6 407.9h0M172.8 410.4h0M172.4 411.7h0M172.0 412.9h0M171.7 414.2h0M170.9 416.6h0M185.1 386.7h0M183.7 390.3h0M183.3 391.5h0M182.8 392.8h0M181.5 396.4h0M180.6 398.9h0M176.5 409.8h0M172.5 420.8h0M171.6 423.3h0M201.4 390.7h0M200.8 393.3h0M187.2 451.5h0M207.7 395.1h0M207.0 397.6h0M206.3 400.1h0M202.3 415.2h0M200.9 420.2h0M198.6 429.0h0M193.5 447.8h0M213.3 395.2h0M211.0 401.3h0M208.4 408.6h0M207.9 409.9h0M206.1 414.7h0M205.2 417.2h0M203.0 423.3h0M200.3 430.6h0M195.3 444.0h0M211.1 437.3h0M206.0 452.1h0M205.5 453.3h0M184.9 383.2h0M182.5 384.3h0M181.3 384.8h0M175.4 387.4h0M169.4 390.0h0M200.3 394.7h0M198.2 396.3h0M179.8 410.7h0M169.5 418.6h0M163.3 423.4h0M162.3 424.2h0M158.2 427.4h0M59.6 474.5h0M53.5 479.4h0M40.4 490.1h0M169.8 402.7h0M174.7 406.9h0M180.6 412.1h0M182.5 413.8h0M183.5 414.7h0M200.1 429.2h0M203.1 431.8h0M87.8 411.8h0M88.8 412.6h0M90.9 414.2h0M91.9 415.0h0M94.0 416.5h0M161.1 426.4h0M164.1 428.8h0M168.2 432.1h0M169.2 432.9h0M188.5 448.3h0M190.5 449.9h0M195.6 454.0h0M68.4 411.0h0M66.3 412.5h0M211.7 448.0h0M206.4 451.8h0" stroke="#2e6fff" stroke-width="2.40" stroke-linecap="round"/>
<path d="M51.8 462.7h0M52.3 463.9h0M52.8 465.1h0M56.7 474.7h0M45.9 460.7h0M46.3 461.9h0M46.6 463.2h0M68.8 405.4h0M74.0 420.1h0M83.7 408.2h0M88.3 420.3h0M151.5 435.7h0M152.4 438.1h0M153.4 440.5h0M149.2 433.8h0M150.3 437.6h0M151.5 441.3h0M150.0 437.5h0M150.9 441.3h0M163.7 408.0h0M164.1 409.2h0M164.9 411.7h0M166.8 417.9h0M167.2 419.2h0M168.3 422.9h0M169.1 425.4h0M170.2 429.1h0M176.0 406.6h0M176.9 409.1h0M177.3 410.3h0M179.5 416.4h0M180.4 418.9h0M181.7 422.5h0M183.4 427.4h0M183.9 428.7h0M184.3 429.9h0M190.4 447.0h0M179.2 382.3h0M183.0 391.9h0M184.5 395.6h0M194.1 419.7h0M199.9 434.2h0M203.8 443.8h0M204.3 445.1h0M205.2 447.5h0M182.2 409.9h0M182.5 411.1h0M184.5 420.0h0M192.3 454.2h0M188.5 380.9h0M189.5 384.7h0M190.6 388.4h0M191.0 389.7h0M192.8 395.9h0M200.0 420.9h0M202.5 429.6h0M203.3 432.1h0M204.0 434.6h0M205.8 440.9h0M206.5 443.4h0M207.6 447.1h0M209.4 453.4h0M213.6 398.0h0M57.2 401.0h0M56.1 406.1h0M55.5 408.6h0M44.1 459.4h0M63.0 401.6h0M44.8 459.9h0M43.9 462.3h0M84.2 412.3h0M58.3 465.6h0M55.4 472.9h0M51.0 483.7h0M89.2 410.7h0M88.2 413.1h0M85.9 419.2h0M61.4 483.6h0M60.5 486.0h0M152.1 408.8h0M141.6 447.7h0M155.5 405.0h0M176.2 399.2h0M175.5 401.7h0M171.3 415.4h0M169.4 421.6h0M168.2 425.3h0M165.2 435.3h0M180.1 400.1h0M179.2 402.5h0M178.3 405.0h0M177.9 406.2h0M177.0 408.6h0M173.8 417.2h0M173.4 418.4h0M172.9 419.6h0M172.0 422.0h0M168.9 430.6h0M161.2 451.3h0M202.3 386.9h0M194.3 421.1h0M188.4 446.4h0M188.1 447.7h0M200.6 421.5h0M200.3 422.7h0M199.6 425.2h0M198.2 430.2h0M197.6 432.8h0M196.9 435.3h0M195.9 439.0h0M193.8 446.6h0M193.2 449.1h0M213.7 394.0h0M201.2 428.2h0M199.4 433.0h0M196.2 441.6h0M194.9 445.2h0M193.5 448.9h0M192.2 452.6h0M209.4 442.2h0M209.0 443.5h0M187.3 382.2h0M171.8 389.0h0M181.8 409.1h0M176.7 413.1h0M175.6 413.9h0M174.6 414.7h0M173.6 415.4h0M172.6 416.2h0M171.5 417.0h0M168.5 419.4h0M167.4 420.2h0M166.4 421.0h0M161.3 425.0h0M160.2 425.8h0M157.1 428.2h0M171.4 383.3h0M56.6 476.9h0M165.9 399.2h0M168.9 401.8h0M170.8 403.5h0M173.7 406.1h0M177.7 409.5h0M209.9 437.8h0M82.6 407.8h0M85.7 410.2h0M151.0 418.3h0M158.1 423.9h0M162.1 427.2h0M165.2 429.6h0M167.2 431.3h0M176.3 438.6h0M178.4 440.2h0M183.4 444.2h0M189.5 449.1h0M194.6 453.2h0M198.7 456.4h0M74.6 406.4h0M67.3 411.8h0M65.2 413.3h0M62.1 415.6h0" stroke="#2e7cff" stroke-width="2.40" stroke-linecap="round"/>
<path d="M57.2 475.9h0M57.7 477.1h0M59.7 481.9h0M61.2 485.5h0M45.2 458.2h0M54.3 489.4h0M46.6 406.7h0M45.1 403.1h0M47.3 411.9h0M67.9 403.0h0M69.2 406.6h0M69.7 407.9h0M74.4 421.3h0M85.1 411.8h0M148.6 428.4h0M150.5 433.3h0M152.9 439.3h0M153.9 441.7h0M154.3 442.9h0M155.8 446.6h0M156.2 447.8h0M150.7 438.8h0M151.9 442.5h0M152.6 445.0h0M153.8 448.7h0M148.5 431.2h0M149.7 436.2h0M151.2 442.5h0M160.3 396.8h0M162.2 403.0h0M167.9 421.7h0M168.7 424.1h0M169.4 426.6h0M169.8 427.9h0M170.6 430.4h0M174.4 442.8h0M175.5 446.5h0M169.5 388.2h0M173.9 400.5h0M191.7 450.7h0M192.1 451.9h0M192.5 453.2h0M193.4 455.6h0M200.4 435.4h0M203.3 442.6h0M204.8 446.3h0M205.7 448.7h0M206.2 449.9h0M175.6 380.7h0M175.9 382.0h0M191.7 451.7h0M190.3 387.2h0M191.4 390.9h0M206.9 444.6h0M207.2 445.9h0M210.1 455.9h0M207.3 382.3h0M210.7 390.7h0M211.7 393.1h0M212.8 384.7h0M213.5 387.2h0M214.2 389.7h0M214.6 391.0h0M215.0 392.2h0M215.3 393.5h0M215.7 394.7h0M48.1 399.5h0M57.8 398.5h0M57.5 399.7h0M56.9 402.3h0M56.6 403.6h0M44.4 458.1h0M62.2 404.1h0M64.1 407.4h0M63.6 408.7h0M62.7 411.1h0M62.3 412.3h0M45.2 458.7h0M43.0 464.8h0M84.8 409.7h0M82.5 419.9h0M81.4 407.7h0M79.9 411.3h0M79.5 412.5h0M58.7 464.4h0M57.3 468.0h0M55.8 471.7h0M48.1 491.0h0M62.3 481.1h0M60.0 487.2h0M153.1 405.1h0M152.8 406.3h0M158.9 396.5h0M181.2 383.1h0M177.8 394.3h0M174.7 404.2h0M173.9 406.7h0M170.5 417.9h0M170.1 419.1h0M166.7 430.3h0M166.3 431.6h0M165.9 432.8h0M165.5 434.0h0M164.8 436.5h0M164.4 437.8h0M177.4 407.4h0M176.1 411.1h0M174.3 415.9h0M170.2 426.9h0M169.3 429.4h0M167.5 434.2h0M163.0 446.4h0M160.7 452.5h0M203.2 383.1h0M201.7 389.5h0M200.5 394.5h0M199.9 397.1h0M189.0 443.9h0M209.7 387.6h0M208.7 391.3h0M208.0 393.8h0M195.2 441.5h0M192.8 450.3h0M192.5 451.6h0M215.5 389.1h0M215.1 390.4h0M214.6 391.6h0M212.8 396.5h0M212.4 397.7h0M191.7 453.8h0M191.3 455.0h0M190.8 456.2h0M213.3 431.2h0M212.9 432.4h0M212.0 434.9h0M210.7 438.6h0M208.1 445.9h0M207.7 447.1h0M207.3 448.4h0M206.8 449.6h0M186.1 382.7h0M207.5 389.2h0M205.4 390.8h0M204.4 391.6h0M203.4 392.4h0M180.8 409.9h0M165.4 421.8h0M154.1 430.6h0M153.0 431.4h0M152.0 432.2h0M61.6 472.8h0M57.6 476.1h0M54.5 478.6h0M164.0 397.5h0M176.7 408.7h0M206.0 434.4h0M211.9 439.5h0M92.9 415.7h0M95.0 417.3h0M159.1 424.8h0M171.3 434.5h0M181.4 442.6h0M186.5 446.7h0M193.6 452.4h0M196.6 454.8h0M76.7 404.8h0M75.7 405.6h0M71.5 408.7h0M209.6 449.5h0M204.3 453.3h0" stroke="#2e89ff" stroke-width="2.40" stroke-linecap="round"/>
<path d="M51.3 461.5h0M45.5 459.4h0M54.7 490.6h0M44.9 401.8h0M47.0 407.9h0M45.8 405.6h0M61.7 470.0h0M63.3 476.3h0M67.1 400.5h0M67.5 401.7h0M70.1 409.1h0M74.9 422.6h0M82.7 405.8h0M148.2 427.2h0M149.6 430.8h0M150.1 432.1h0M154.8 444.2h0M155.3 445.4h0M156.7 449.0h0M147.2 427.6h0M148.8 432.6h0M149.5 435.1h0M151.1 440.0h0M152.3 443.8h0M150.6 440.0h0M157.8 470.4h0M165.3 412.9h0M166.4 416.7h0M171.0 431.6h0M176.3 449.0h0M169.9 389.5h0M171.7 394.4h0M177.7 378.7h0M202.8 441.4h0M206.7 451.1h0M207.2 452.3h0M208.1 454.7h0M178.7 394.6h0M192.0 453.0h0M189.2 383.4h0M206.2 442.1h0M208.0 448.4h0M208.7 450.9h0M209.8 454.6h0M207.8 383.5h0M209.7 388.3h0M213.1 396.7h0M213.2 386.0h0M47.5 402.0h0M47.2 403.3h0M46.9 404.6h0M45.4 410.9h0M44.7 456.8h0M63.8 399.1h0M62.6 402.8h0M60.7 409.0h0M59.9 411.5h0M58.7 415.2h0M45.1 458.6h0M44.8 459.9h0M63.2 409.9h0M60.5 417.2h0M46.6 455.0h0M45.7 457.5h0M85.1 408.5h0M80.9 408.9h0M47.7 492.2h0M47.2 493.4h0M61.9 482.4h0M155.2 397.6h0M154.2 401.3h0M146.7 428.9h0M143.6 440.2h0M159.4 395.3h0M156.0 403.8h0M155.0 406.2h0M154.0 408.6h0M153.1 411.0h0M152.6 412.2h0M182.0 380.6h0M175.9 400.5h0M175.1 403.0h0M173.2 409.2h0M169.7 420.4h0M169.0 422.9h0M168.6 424.1h0M167.1 429.1h0M161.0 449.0h0M186.4 383.0h0M186.0 384.2h0M179.7 401.3h0M171.1 424.5h0M170.7 425.7h0M169.8 428.1h0M168.0 433.0h0M167.1 435.4h0M164.8 441.5h0M203.4 381.9h0M187.8 449.0h0M187.5 450.2h0M186.9 452.8h0M211.1 382.5h0M210.4 385.1h0M210.1 386.3h0M209.4 388.8h0M208.4 392.6h0M192.2 452.8h0M191.5 455.4h0M191.1 456.6h0M190.8 457.9h0M214.2 392.8h0M212.4 433.7h0M211.6 436.1h0M209.8 441.0h0M208.5 444.7h0M206.4 450.8h0M204.7 455.7h0M173.0 388.4h0M170.6 389.5h0M167.0 391.1h0M165.8 391.6h0M164.6 392.1h0M158.7 394.7h0M157.5 395.3h0M214.7 383.6h0M212.6 385.2h0M210.6 386.8h0M151.0 433.0h0M150.0 433.8h0M147.9 435.4h0M177.5 378.4h0M173.5 381.7h0M172.5 382.5h0M170.4 384.1h0M169.4 385.0h0M160.4 392.3h0M58.6 475.3h0M162.0 395.8h0M166.9 400.1h0M205.0 433.5h0M207.0 435.2h0M208.0 436.1h0M208.9 436.9h0M153.0 419.9h0M155.0 421.5h0M156.0 422.3h0M157.0 423.1h0M166.2 430.4h0M174.3 436.9h0M177.3 439.4h0M179.4 441.0h0M180.4 441.8h0M182.4 443.4h0M78.8 403.3h0M73.6 407.1h0M63.2 414.9h0M61.1 416.4h0M208.5 450.3h0M207.5 451.0h0M205.4 452.5h0M203.2 454.0h0M195.8 459.3h0" stroke="#2e96ff" stroke-width="2.40" stroke-linecap="round"/>
<path d="M59.2 480.7h0M60.2 483.1h0M43.7 453.2h0M55.1 491.9h0M45.7 404.2h0M48.8 412.8h0M60.1 463.7h0M61.1 467.5h0M62.0 471.2h0M62.6 473.8h0M63.9 478.8h0M64.5 481.3h0M65.3 395.6h0M66.2 398.1h0M83.2 407.0h0M84.6 410.6h0M88.8 421.5h0M100.9 414.7h0M101.7 417.2h0M157.2 450.2h0M157.7 451.4h0M159.6 456.2h0M161.0 459.9h0M147.6 428.9h0M148.0 430.1h0M153.0 446.2h0M153.4 447.5h0M154.2 450.0h0M155.0 452.4h0M157.3 459.9h0M147.9 428.6h0M148.8 432.4h0M149.1 433.7h0M149.4 434.9h0M151.5 443.8h0M152.1 446.3h0M152.7 448.9h0M153.6 452.7h0M158.4 472.9h0M159.5 394.3h0M167.5 420.4h0M171.3 432.8h0M171.7 434.1h0M172.5 436.6h0M173.2 439.1h0M173.6 440.3h0M178.2 455.2h0M168.2 384.6h0M170.4 390.7h0M175.6 405.4h0M193.8 456.9h0M194.3 458.1h0M192.8 456.8h0M187.7 378.4h0M205.4 439.6h0M210.9 458.4h0M206.3 379.9h0M208.8 385.9h0M209.2 387.1h0M210.2 389.5h0M212.4 383.5h0M216.9 382.8h0M48.7 397.0h0M47.8 400.8h0M46.3 407.1h0M42.9 421.0h0M58.1 397.2h0M55.8 407.4h0M55.2 409.9h0M44.9 455.6h0M61.1 407.8h0M60.3 410.3h0M59.1 414.0h0M58.4 416.5h0M58.0 417.7h0M45.5 457.4h0M67.2 398.9h0M66.3 401.3h0M65.9 402.6h0M65.4 403.8h0M65.0 405.0h0M64.5 406.2h0M61.4 414.8h0M60.0 418.4h0M46.1 456.2h0M85.4 407.2h0M84.5 411.0h0M82.2 421.1h0M80.4 410.1h0M75.1 423.4h0M57.8 466.8h0M46.2 495.8h0M90.6 407.0h0M89.6 409.5h0M63.2 478.7h0M62.8 479.9h0M60.9 484.8h0M59.5 488.4h0M152.5 407.6h0M150.1 416.4h0M148.0 423.9h0M147.0 427.7h0M146.3 430.2h0M143.9 439.0h0M159.9 394.1h0M154.5 407.4h0M152.1 413.4h0M151.6 414.6h0M150.1 418.2h0M148.6 421.8h0M147.6 424.2h0M144.7 431.5h0M143.7 433.9h0M181.6 381.8h0M167.5 427.8h0M163.6 440.3h0M162.5 444.0h0M161.7 446.5h0M160.6 450.2h0M159.4 453.9h0M158.7 456.4h0M157.9 458.9h0M187.8 379.4h0M178.8 403.7h0M174.7 414.7h0M165.7 439.1h0M165.2 440.3h0M159.8 455.0h0M203.7 380.6h0M202.9 384.4h0M202.6 385.7h0M201.1 392.0h0M186.6 454.0h0M185.7 457.8h0M213.1 375.0h0M211.4 381.3h0M210.7 383.8h0M209.0 390.1h0M191.8 454.1h0M216.0 387.9h0M210.3 439.8h0M205.1 454.5h0M168.2 390.5h0M163.5 392.6h0M159.9 394.2h0M155.1 396.3h0M216.7 382.0h0M209.5 387.6h0M202.4 393.1h0M177.7 412.3h0M159.2 426.6h0M155.1 429.8h0M146.9 436.2h0M145.8 437.0h0M174.5 380.8h0M168.4 385.8h0M159.4 393.2h0M157.3 394.8h0M154.3 397.3h0M159.1 393.2h0M163.0 396.7h0M210.9 438.7h0M72.3 399.9h0M74.4 401.5h0M78.5 404.7h0M81.6 407.0h0M86.7 411.0h0M96.0 418.1h0M143.4 454.6h0M154.0 420.7h0M163.1 428.0h0M170.2 433.7h0M172.3 435.3h0M175.3 437.8h0M197.6 455.6h0M69.4 410.2h0M64.2 414.1h0M60.0 417.2h0M210.6 448.8h0M202.2 454.8h0M200.1 456.3h0" stroke="#2ea4ff" stroke-width="2.40" stroke-linecap="round"/>
<path d="M46.9 450.6h0M47.4 451.8h0M48.3 454.2h0M50.3 459.1h0M50.8 460.3h0M60.7 484.3h0M61.7 486.7h0M43.3 451.9h0M44.1 454.4h0M44.8 456.9h0M43.6 398.1h0M45.3 403.0h0M46.2 405.5h0M47.5 409.1h0M47.9 410.4h0M50.1 416.5h0M50.5 417.7h0M44.5 400.6h0M45.5 404.4h0M46.7 409.4h0M47.0 410.7h0M48.3 415.7h0M49.2 419.5h0M59.2 459.9h0M60.8 466.2h0M61.4 468.7h0M62.3 472.5h0M64.9 394.4h0M66.6 399.3h0M68.4 404.2h0M75.3 423.8h0M144.8 418.7h0M145.8 421.2h0M146.7 423.6h0M147.2 424.8h0M147.7 426.0h0M149.1 429.6h0M152.0 436.9h0M158.6 453.8h0M159.1 455.0h0M160.5 458.7h0M161.5 461.1h0M146.0 423.9h0M146.4 425.1h0M146.8 426.4h0M148.4 431.3h0M149.9 436.3h0M155.4 453.7h0M156.1 456.2h0M145.5 418.5h0M146.4 422.3h0M148.2 429.9h0M151.8 445.1h0M153.0 450.1h0M153.9 453.9h0M154.2 455.2h0M154.5 456.5h0M155.1 459.0h0M155.7 461.5h0M159.2 393.1h0M172.1 435.3h0M172.9 437.8h0M177.8 454.0h0M178.6 456.5h0M176.7 376.3h0M177.2 377.5h0M208.6 455.9h0M209.1 457.1h0M193.4 459.3h0M188.8 382.2h0M209.0 452.1h0M210.5 457.1h0M215.6 377.8h0M216.3 380.3h0M49.6 393.2h0M45.7 409.6h0M45.1 412.1h0M59.8 389.6h0M58.4 395.9h0M54.6 412.4h0M54.4 413.7h0M45.8 451.7h0M45.2 454.3h0M63.4 400.3h0M57.6 418.9h0M57.2 420.2h0M46.7 453.7h0M45.9 456.2h0M61.8 413.5h0M59.6 419.6h0M81.9 422.4h0M82.4 405.3h0M75.6 422.2h0M74.6 424.6h0M59.7 462.0h0M59.2 463.2h0M46.7 494.6h0M45.2 498.2h0M85.0 421.6h0M65.1 473.9h0M63.7 477.5h0M59.1 489.6h0M58.6 490.9h0M58.2 492.1h0M154.8 398.8h0M153.8 402.6h0M153.5 403.8h0M151.8 410.1h0M151.4 411.4h0M151.1 412.6h0M148.7 421.4h0M146.0 431.4h0M145.6 432.7h0M144.3 437.7h0M142.6 444.0h0M142.2 445.2h0M141.9 446.5h0M141.2 449.0h0M140.5 451.5h0M140.2 452.8h0M160.4 392.9h0M153.5 409.8h0M151.1 415.8h0M150.6 417.0h0M149.1 420.6h0M147.2 425.4h0M146.2 427.8h0M145.2 430.2h0M144.2 432.7h0M143.2 435.1h0M142.7 436.3h0M141.3 439.9h0M140.8 441.1h0M138.8 445.9h0M182.3 379.4h0M167.8 426.6h0M164.0 439.0h0M163.3 441.5h0M161.3 447.7h0M159.8 452.7h0M159.1 455.2h0M158.3 457.7h0M156.4 463.9h0M188.2 378.1h0M186.9 381.8h0M168.4 431.8h0M166.6 436.7h0M166.2 437.9h0M164.3 442.8h0M163.9 444.0h0M163.4 445.2h0M162.5 447.6h0M162.1 448.9h0M160.3 453.7h0M158.0 459.8h0M157.6 461.1h0M156.2 464.7h0M155.8 465.9h0M154.0 470.8h0M204.9 375.5h0M204.3 378.1h0M202.0 388.2h0M186.3 455.3h0M186.0 456.6h0M190.1 460.4h0M189.8 461.6h0M216.4 386.7h0M190.4 457.4h0M189.9 458.7h0M189.0 461.1h0M203.8 458.2h0M203.9 374.8h0M196.8 378.0h0M192.0 380.1h0M190.8 380.6h0M189.6 381.1h0M161.1 393.7h0M156.3 395.8h0M213.7 384.4h0M206.5 390.0h0M148.9 434.6h0M143.8 438.5h0M167.4 386.6h0M165.4 388.2h0M158.3 394.0h0M60.6 473.7h0M161.0 394.9h0M155.2 505.8h0M64.1 393.6h0M65.1 394.3h0M73.3 400.7h0M75.4 402.3h0M77.5 403.9h0M83.6 408.6h0M84.7 409.4h0M140.3 452.2h0M141.4 453.0h0M145.5 456.2h0M159.9 467.3h0M146.9 415.0h0M149.9 417.4h0M152.0 419.1h0M173.3 436.1h0M199.7 457.2h0M57.9 418.7h0M201.1 455.6h0M199.0 457.1h0M197.9 457.8h0M159.9 485.0h0" stroke="#2eb1ff" stroke-width="2.40" stroke-linecap="round"/>
<path d="M34.5 420.6h0M48.8 455.5h0M49.3 456.7h0M49.8 457.9h0M62.1 487.9h0M42.6 449.5h0M44.4 455.7h0M49.2 414.0h0M50.9 418.9h0M44.8 401.8h0M46.4 408.1h0M58.6 457.4h0M58.9 458.6h0M59.8 462.4h0M60.4 464.9h0M62.9 475.0h0M64.2 480.1h0M81.3 402.1h0M81.8 403.3h0M84.1 409.4h0M99.7 411.9h0M100.7 414.3h0M102.2 417.9h0M101.3 415.9h0M146.2 422.4h0M162.4 463.5h0M143.3 415.2h0M154.6 451.2h0M155.8 454.9h0M156.9 458.6h0M158.9 464.8h0M144.9 416.0h0M145.8 419.8h0M146.1 421.0h0M146.7 423.6h0M147.6 427.4h0M150.3 438.7h0M152.4 447.6h0M153.3 451.4h0M155.4 460.2h0M156.3 464.0h0M158.1 471.6h0M159.9 479.2h0M161.1 484.3h0M174.0 441.5h0M174.8 444.0h0M176.7 450.2h0M167.8 383.3h0M175.0 378.2h0M175.3 379.4h0M192.5 455.5h0M193.1 458.0h0M193.7 460.6h0M188.1 379.7h0M205.9 378.7h0M206.8 381.1h0M208.3 384.7h0M209.2 372.2h0M209.6 373.5h0M211.0 378.5h0M211.4 379.7h0M211.7 381.0h0M212.1 382.2h0M213.9 388.5h0M214.7 374.0h0M215.0 375.3h0M215.9 379.1h0M33.6 403.6h0M46.0 408.4h0M44.8 413.4h0M44.1 415.9h0M43.5 418.5h0M54.9 411.2h0M53.8 416.2h0M53.5 417.5h0M53.2 418.8h0M64.6 396.6h0M47.5 451.2h0M67.7 397.7h0M66.8 400.1h0M60.9 416.0h0M59.1 420.9h0M47.0 453.8h0M86.6 402.1h0M82.8 404.1h0M81.9 406.5h0M45.7 497.0h0M91.5 404.6h0M90.1 408.3h0M84.5 422.8h0M84.1 424.0h0M64.2 476.3h0M141.0 417.8h0M156.2 393.8h0M155.9 395.0h0M155.5 396.3h0M154.5 400.1h0M150.8 413.9h0M149.4 418.9h0M149.1 420.1h0M148.4 422.6h0M147.7 425.2h0M147.4 426.4h0M145.3 433.9h0M143.3 441.5h0M142.9 442.7h0M140.9 450.2h0M162.9 386.9h0M149.6 419.4h0M148.1 423.0h0M141.8 438.7h0M139.8 443.5h0M138.3 447.1h0M137.3 449.5h0M183.5 375.6h0M182.7 378.1h0M162.1 445.2h0M156.8 462.6h0M155.2 467.6h0M153.7 472.6h0M187.3 380.6h0M161.6 450.1h0M159.4 456.2h0M158.9 457.4h0M156.7 463.5h0M214.1 371.2h0M213.4 373.8h0M212.8 376.3h0M212.1 378.8h0M211.7 380.0h0M190.5 459.1h0M189.5 462.9h0M204.2 457.0h0M203.4 459.4h0M214.6 370.1h0M213.4 370.6h0M209.9 372.2h0M208.7 372.7h0M207.5 373.2h0M199.1 376.9h0M198.0 377.4h0M188.4 381.6h0M162.3 393.2h0M153.9 396.8h0M211.6 386.0h0M144.8 437.7h0M141.7 440.1h0M164.4 389.1h0M163.4 389.9h0M156.3 395.6h0M155.3 396.4h0M153.3 398.1h0M67.6 467.9h0M65.6 469.5h0M63.6 471.2h0M160.1 394.1h0M69.2 397.5h0M70.3 398.3h0M71.3 399.1h0M80.6 406.2h0M97.0 418.9h0M138.3 450.6h0M142.4 453.8h0M151.7 460.9h0M155.8 464.1h0M158.9 466.5h0M147.9 415.8h0M200.7 458.1h0M77.8 404.0h0M193.7 460.8h0M163.0 482.8h0M157.8 486.5h0M155.6 488.0h0M154.6 488.8h0" stroke="#2ebeff" stroke-width="2.40" stroke-linecap="round"/>
<path d="M62.6 489.1h0M55.4 493.1h0M56.2 495.6h0M41.9 393.2h0M42.7 395.6h0M44.0 399.3h0M48.3 411.6h0M51.4 420.2h0M43.3 395.5h0M44.2 399.3h0M47.6 413.2h0M48.6 417.0h0M48.9 418.2h0M59.5 461.1h0M63.6 477.5h0M64.8 482.6h0M66.1 487.6h0M79.5 397.3h0M79.9 398.5h0M80.9 400.9h0M82.3 404.5h0M101.2 415.5h0M101.7 416.7h0M100.0 412.2h0M143.4 415.1h0M144.3 417.5h0M145.3 420.0h0M158.1 452.6h0M160.1 457.5h0M163.9 467.1h0M165.8 472.0h0M145.3 421.4h0M156.5 457.4h0M157.7 461.1h0M163.1 478.5h0M165.1 484.7h0M147.0 424.8h0M147.3 426.1h0M154.8 457.7h0M156.0 462.8h0M156.9 466.6h0M158.7 474.2h0M160.8 483.0h0M158.8 391.8h0M175.9 447.8h0M179.3 458.9h0M182.4 468.9h0M169.1 387.0h0M195.2 460.5h0M196.0 463.0h0M209.6 458.3h0M174.2 374.4h0M174.7 376.9h0M187.0 375.9h0M187.4 377.2h0M204.4 375.0h0M204.9 376.2h0M205.4 377.4h0M208.1 368.5h0M214.4 372.7h0M215.3 376.5h0M216.6 381.6h0M49.9 391.9h0M49.0 395.7h0M48.4 398.2h0M43.8 417.2h0M41.7 426.1h0M58.9 393.4h0M54.1 415.0h0M45.5 453.0h0M64.2 397.9h0M47.1 452.4h0M46.3 454.9h0M68.6 395.2h0M58.7 422.1h0M47.5 452.6h0M86.0 404.7h0M85.7 405.9h0M81.6 423.7h0M83.3 402.8h0M65.6 472.6h0M64.6 475.1h0M57.2 494.5h0M141.3 416.6h0M140.0 421.6h0M156.9 391.3h0M150.4 415.1h0M149.7 417.6h0M145.0 435.2h0M144.6 436.4h0M139.9 454.0h0M146.7 426.6h0M145.7 429.0h0M142.2 437.5h0M136.8 450.7h0M183.9 374.4h0M183.1 376.9h0M162.9 442.7h0M160.2 451.4h0M156.0 465.1h0M154.9 468.8h0M154.5 470.1h0M152.9 475.0h0M152.2 477.5h0M188.7 376.9h0M158.5 458.6h0M157.1 462.3h0M154.9 468.4h0M154.4 469.6h0M153.5 472.0h0M205.5 373.0h0M204.0 379.3h0M185.1 460.4h0M184.8 461.6h0M214.4 370.0h0M212.4 377.5h0M188.6 462.3h0M215.8 369.6h0M212.2 371.1h0M205.1 374.3h0M200.3 376.4h0M195.6 378.5h0M193.2 379.5h0M107.5 417.3h0M215.7 382.8h0M142.8 439.3h0M140.7 440.9h0M139.7 441.7h0M183.5 373.5h0M180.5 375.9h0M179.5 376.7h0M178.5 377.6h0M176.5 379.2h0M175.5 380.0h0M161.4 391.5h0M152.3 398.9h0M151.3 399.7h0M150.3 400.6h0M64.6 470.4h0M62.6 472.0h0M35.9 424.6h0M55.8 387.2h0M58.9 389.6h0M67.2 395.9h0M76.4 403.1h0M79.5 405.4h0M98.1 419.7h0M136.2 449.0h0M139.3 451.4h0M146.5 457.0h0M147.5 457.8h0M152.7 461.7h0M153.7 462.5h0M156.8 464.9h0M160.9 468.1h0M201.7 458.9h0M202.7 459.7h0M203.7 460.5h0M204.8 461.3h0M59.0 418.0h0M56.9 419.5h0M52.7 422.6h0M196.9 458.6h0M184.2 467.6h0M162.0 483.5h0M156.7 487.3h0M151.4 491.1h0" stroke="#2ecbff" stroke-width="2.40" stroke-linecap="round"/>
<path d="M35.0 421.8h0M36.5 425.4h0M45.9 448.2h0M47.9 453.0h0M63.1 490.3h0M34.5 422.0h0M34.9 423.3h0M43.0 450.7h0M40.6 389.5h0M42.3 394.4h0M43.1 396.9h0M52.7 423.8h0M54.4 428.7h0M66.1 461.8h0M69.1 470.4h0M43.0 394.3h0M46.1 406.9h0M48.0 414.5h0M57.9 454.8h0M65.1 483.9h0M65.8 396.8h0M75.7 425.0h0M79.0 396.0h0M89.2 422.7h0M98.7 409.5h0M100.2 413.1h0M102.7 419.1h0M99.2 409.8h0M100.5 413.5h0M102.1 418.4h0M162.0 462.3h0M163.4 465.9h0M164.3 468.3h0M165.3 470.8h0M142.9 414.0h0M143.7 416.5h0M144.1 417.7h0M144.9 420.2h0M145.7 422.7h0M158.1 462.4h0M158.5 463.6h0M159.3 466.1h0M160.0 468.6h0M161.2 472.3h0M162.0 474.8h0M162.8 477.2h0M163.5 479.7h0M163.9 481.0h0M165.5 485.9h0M144.3 413.4h0M144.6 414.7h0M157.2 467.8h0M159.0 475.4h0M159.3 476.7h0M159.6 478.0h0M160.5 481.8h0M161.7 486.8h0M162.0 488.1h0M158.4 390.6h0M177.0 451.5h0M177.4 452.7h0M178.9 457.7h0M179.7 460.2h0M181.6 466.4h0M168.6 385.8h0M195.6 461.8h0M196.5 464.2h0M210.1 459.5h0M194.3 463.1h0M198.9 483.4h0M186.7 374.7h0M203.9 373.8h0M208.5 369.7h0M210.3 376.0h0M210.6 377.2h0M212.5 365.2h0M213.4 369.0h0M213.7 370.2h0M36.1 394.8h0M34.7 399.8h0M33.2 404.8h0M46.6 405.8h0M44.4 414.7h0M43.2 419.7h0M42.3 423.5h0M59.2 392.1h0M46.1 450.5h0M65.3 394.1h0M56.0 423.9h0M47.9 450.0h0M68.1 396.5h0M58.2 423.3h0M49.7 446.5h0M49.3 447.7h0M48.4 450.1h0M47.9 451.4h0M88.1 395.8h0M66.0 490.8h0M65.1 494.6h0M73.7 427.0h0M61.6 457.2h0M44.8 499.4h0M44.3 500.6h0M43.8 501.9h0M91.9 403.4h0M91.0 405.8h0M83.6 425.3h0M66.0 471.4h0M56.8 495.7h0M55.8 498.2h0M139.0 425.4h0M139.5 455.3h0M137.8 461.5h0M164.8 382.1h0M163.4 385.7h0M162.4 388.1h0M161.9 389.3h0M161.4 390.5h0M184.2 373.1h0M157.5 460.1h0M157.1 461.4h0M152.6 476.3h0M190.9 370.8h0M190.0 373.3h0M189.6 374.5h0M189.1 375.7h0M153.1 473.3h0M151.7 476.9h0M149.5 483.0h0M206.4 369.2h0M205.8 371.7h0M204.6 376.8h0M185.4 459.1h0M184.5 462.9h0M184.2 464.1h0M214.8 368.7h0M213.8 372.5h0M189.1 464.1h0M187.4 470.4h0M183.7 484.2h0M189.5 459.9h0M188.1 463.5h0M183.6 475.7h0M202.1 463.1h0M217.0 369.1h0M211.0 371.7h0M206.3 373.8h0M201.5 375.9h0M194.4 379.0h0M151.6 397.9h0M42.1 446.1h0M40.9 446.6h0M38.5 447.7h0M135.6 444.9h0M184.5 372.6h0M166.4 387.4h0M162.4 390.7h0M149.3 401.4h0M158.1 392.4h0M34.8 423.9h0M150.9 502.9h0M54.8 386.4h0M63.0 392.8h0M68.2 396.7h0M144.4 455.4h0M149.6 459.3h0M150.6 460.1h0M154.7 463.3h0M162.0 468.9h0M166.1 472.0h0M174.3 478.4h0M144.9 413.4h0M148.9 416.6h0M85.1 398.6h0M79.9 402.5h0M51.7 423.4h0M48.5 425.7h0M194.8 460.1h0M191.6 462.4h0M189.5 463.9h0M171.5 476.7h0M167.3 479.7h0M166.2 480.5h0M164.1 482.0h0M160.9 484.3h0M152.5 490.3h0" stroke="#2ed8ff" stroke-width="2.40" stroke-linecap="round"/>
<path d="M36.0 424.2h0M46.4 449.4h0M63.6 491.5h0M64.6 493.9h0M35.3 424.5h0M41.9 447.0h0M42.2 448.2h0M55.8 494.4h0M56.5 496.9h0M41.4 392.0h0M51.8 421.4h0M52.2 422.6h0M63.0 453.3h0M68.7 469.2h0M42.0 390.5h0M42.3 391.7h0M43.6 396.8h0M43.9 398.0h0M49.5 420.8h0M50.1 423.3h0M51.1 427.1h0M57.0 451.0h0M58.3 456.1h0M65.4 485.1h0M65.8 486.4h0M66.4 488.9h0M64.5 393.2h0M77.6 392.4h0M96.2 403.5h0M99.2 410.7h0M142.7 515.1h0M143.7 517.5h0M98.4 407.3h0M98.8 408.5h0M99.6 411.0h0M145.0 519.5h0M167.7 476.8h0M142.5 412.7h0M144.5 418.9h0M161.6 473.5h0M164.3 482.2h0M164.7 483.4h0M144.0 412.2h0M145.2 417.2h0M156.6 465.3h0M161.4 485.5h0M162.3 489.3h0M162.9 491.9h0M163.5 494.4h0M163.8 495.7h0M158.0 389.3h0M175.1 445.3h0M180.1 461.4h0M180.5 462.7h0M185.4 478.8h0M166.5 379.7h0M167.3 382.1h0M194.7 459.3h0M176.3 375.1h0M210.6 460.7h0M199.1 484.7h0M185.9 372.2h0M202.5 370.2h0M214.0 371.5h0M35.4 397.3h0M35.0 398.6h0M34.3 401.1h0M33.9 402.3h0M50.2 390.6h0M49.3 394.4h0M42.6 422.3h0M42.0 424.8h0M60.1 388.3h0M59.5 390.9h0M58.6 394.7h0M52.9 420.0h0M52.6 421.3h0M52.1 423.8h0M51.8 425.1h0M47.5 444.1h0M47.2 445.4h0M46.4 449.2h0M66.5 390.4h0M65.0 395.4h0M56.8 421.4h0M56.4 422.7h0M55.6 425.1h0M69.9 391.6h0M57.8 424.5h0M48.8 448.9h0M81.3 424.9h0M67.8 483.2h0M67.5 484.4h0M83.8 401.6h0M74.2 425.8h0M73.2 428.2h0M62.1 456.0h0M61.1 458.4h0M60.2 460.8h0M68.3 465.4h0M66.9 469.0h0M66.5 470.2h0M57.7 493.3h0M143.7 407.8h0M143.0 410.3h0M141.7 415.3h0M140.3 420.4h0M139.7 422.9h0M137.0 432.9h0M134.4 443.0h0M157.2 390.0h0M156.6 392.5h0M137.1 464.0h0M160.9 391.7h0M139.3 444.7h0M137.8 448.3h0M136.3 451.9h0M135.9 453.1h0M154.1 471.3h0M153.3 473.8h0M151.4 480.0h0M151.0 481.3h0M143.4 506.1h0M191.4 369.6h0M152.6 474.5h0M150.4 480.6h0M148.6 485.4h0M138.7 512.3h0M207.0 366.7h0M205.2 374.3h0M183.9 465.4h0M181.9 474.3h0M215.5 366.2h0M188.8 465.4h0M188.4 466.7h0M188.1 467.9h0M183.0 486.7h0M187.7 464.8h0M182.7 478.2h0M202.5 461.9h0M210.5 464.4h0M203.2 483.8h0M202.7 375.3h0M152.8 397.4h0M150.4 398.4h0M149.2 398.9h0M138.7 442.5h0M137.6 443.3h0M182.5 374.3h0M181.5 375.1h0M148.3 402.2h0M146.3 403.8h0M66.6 468.7h0M40.2 427.6h0M152.0 503.6h0M154.1 505.1h0M59.9 390.4h0M135.2 448.2h0M137.2 449.8h0M164.0 470.4h0M167.1 472.8h0M169.2 474.4h0M173.3 477.6h0M145.9 414.2h0M84.0 399.4h0M82.0 400.9h0M80.9 401.7h0M55.8 420.3h0M53.8 421.8h0M183.1 468.4h0M182.1 469.2h0M172.6 476.0h0M169.4 478.2h0M168.3 479.0h0M158.8 485.8h0M150.3 491.8h0M149.3 492.6h0" stroke="#2ee5ff" stroke-width="2.40" stroke-linecap="round"/>
<path d="M44.9 445.8h0M64.1 492.7h0M36.4 428.3h0M41.5 445.7h0M49.6 415.3h0M53.1 425.1h0M66.5 463.1h0M40.5 384.2h0M42.6 393.0h0M49.8 422.0h0M50.5 424.5h0M56.7 449.8h0M66.7 490.2h0M67.0 491.4h0M63.2 389.5h0M64.0 391.9h0M76.6 427.5h0M76.2 388.8h0M77.1 391.2h0M80.4 399.7h0M89.7 424.0h0M97.2 405.9h0M97.7 407.1h0M108.4 417.1h0M144.3 517.0h0M142.4 412.7h0M142.9 413.9h0M143.9 416.3h0M162.9 464.7h0M166.2 473.2h0M168.1 478.0h0M168.6 479.2h0M170.0 482.9h0M171.0 485.3h0M141.4 409.0h0M159.6 467.3h0M160.4 469.8h0M160.8 471.0h0M162.4 476.0h0M165.9 487.2h0M143.1 408.4h0M143.4 409.6h0M157.5 469.1h0M160.2 480.5h0M162.6 490.6h0M180.8 463.9h0M181.2 465.2h0M183.1 471.4h0M183.9 473.9h0M184.3 475.1h0M185.0 477.6h0M186.2 481.3h0M187.3 485.0h0M196.9 465.4h0M203.8 485.0h0M175.8 373.8h0M174.4 375.6h0M194.0 461.8h0M194.5 464.4h0M186.3 373.4h0M201.0 366.6h0M203.0 371.4h0M203.4 372.6h0M207.8 367.2h0M208.8 371.0h0M209.9 374.7h0M212.8 366.4h0M213.1 367.7h0M37.1 391.1h0M36.4 393.6h0M35.7 396.1h0M51.1 386.9h0M41.4 427.3h0M36.9 446.3h0M36.6 447.6h0M51.5 426.4h0M47.8 442.9h0M46.9 446.7h0M46.7 447.9h0M66.1 391.7h0M49.4 445.0h0M48.6 447.5h0M70.8 389.1h0M56.4 428.2h0M50.2 445.3h0M86.3 403.4h0M69.2 476.8h0M67.2 485.7h0M66.9 487.0h0M65.4 493.3h0M85.2 398.0h0M60.7 459.6h0M43.3 503.1h0M42.4 505.5h0M41.4 507.9h0M92.4 402.2h0M67.4 467.8h0M54.4 501.8h0M53.1 505.4h0M144.3 405.3h0M142.3 412.8h0M138.4 427.9h0M138.0 429.2h0M135.7 438.0h0M135.4 439.2h0M132.1 451.8h0M130.1 459.3h0M157.9 387.5h0M138.8 457.8h0M138.5 459.0h0M138.2 460.3h0M137.5 462.8h0M165.8 379.7h0M163.9 384.5h0M135.4 454.3h0M131.4 463.9h0M155.6 466.4h0M151.8 478.8h0M141.1 513.6h0M139.2 519.8h0M152.2 475.7h0M151.3 478.1h0M149.9 481.8h0M149.0 484.2h0M143.6 498.9h0M140.0 508.6h0M207.3 365.4h0M206.7 367.9h0M206.1 370.5h0M183.6 466.7h0M182.5 471.7h0M215.8 365.0h0M187.1 471.7h0M184.7 480.5h0M183.4 485.5h0M187.2 466.0h0M186.8 467.2h0M185.9 469.6h0M184.5 473.3h0M182.3 479.4h0M181.4 481.8h0M180.9 483.1h0M202.9 460.6h0M197.3 476.6h0M196.5 479.0h0M194.3 485.2h0M202.8 485.1h0M108.7 416.7h0M102.8 419.4h0M100.4 420.4h0M96.8 422.0h0M93.3 423.6h0M44.5 445.0h0M39.7 447.1h0M37.4 448.2h0M136.6 444.1h0M134.5 445.7h0M132.5 447.3h0M52.3 509.4h0M47.2 513.4h0M185.6 371.8h0M68.7 467.1h0M157.1 391.5h0M38.0 426.1h0M146.6 500.0h0M148.7 501.4h0M156.3 506.5h0M157.3 507.3h0M158.4 508.0h0M163.8 511.7h0M50.7 383.3h0M61.0 391.2h0M62.0 392.0h0M66.1 395.1h0M99.1 420.5h0M148.6 458.6h0M168.1 473.6h0M171.2 476.0h0M181.5 483.9h0M141.8 411.0h0M142.8 411.8h0M143.8 412.6h0M205.8 462.1h0M206.8 462.9h0M83.0 400.2h0M49.6 424.9h0M47.5 426.5h0M192.7 461.6h0M190.5 463.1h0M187.4 465.4h0M186.3 466.1h0M180.0 470.7h0M175.7 473.7h0M173.6 475.2h0M170.4 477.5h0M146.1 494.8h0" stroke="#2ef2ff" stroke-width="2.40" stroke-linecap="round"/>
<path d="M35.5 423.0h0M45.4 447.0h0M65.1 495.1h0M36.0 427.0h0M37.1 430.7h0M41.1 444.5h0M56.9 498.1h0M57.3 499.3h0M58.0 501.8h0M39.7 387.1h0M40.1 388.3h0M44.4 400.5h0M66.9 464.3h0M71.7 477.8h0M50.8 425.8h0M52.0 430.9h0M57.6 453.6h0M62.7 388.3h0M63.6 390.7h0M94.2 398.7h0M95.2 401.1h0M95.7 402.3h0M98.2 408.3h0M142.2 513.9h0M144.2 518.7h0M97.2 403.6h0M98.0 406.1h0M134.7 517.2h0M105.5 407.1h0M108.0 415.9h0M138.5 520.7h0M142.3 509.4h0M145.3 520.7h0M141.0 409.1h0M141.5 410.3h0M164.8 469.6h0M166.7 474.4h0M167.2 475.6h0M169.1 480.4h0M171.9 487.7h0M172.4 488.9h0M142.2 411.5h0M166.3 488.4h0M166.6 489.7h0M141.9 403.3h0M143.7 410.9h0M165.9 504.5h0M183.5 472.6h0M184.7 476.3h0M186.9 483.8h0M197.3 466.7h0M202.1 480.1h0M203.4 483.8h0M204.3 486.3h0M195.4 468.2h0M198.6 482.1h0M200.0 488.5h0M185.2 369.7h0M200.5 365.4h0M207.4 366.0h0M37.5 389.8h0M36.8 392.3h0M52.6 380.5h0M51.7 384.3h0M51.4 385.6h0M50.8 388.1h0M61.2 383.3h0M60.4 387.1h0M52.4 422.6h0M50.9 428.9h0M49.8 434.0h0M67.7 386.7h0M66.9 389.2h0M65.7 392.9h0M54.1 430.1h0M49.0 446.2h0M48.2 448.7h0M69.0 394.0h0M56.0 429.4h0M52.4 439.2h0M50.6 444.0h0M86.9 400.9h0M81.0 426.2h0M69.5 475.6h0M68.3 480.6h0M68.1 481.9h0M63.9 499.6h0M84.3 400.4h0M42.8 504.3h0M93.3 399.8h0M83.1 426.5h0M82.7 427.7h0M68.8 464.1h0M67.9 466.6h0M55.4 499.4h0M54.9 500.6h0M54.0 503.0h0M50.7 511.5h0M50.3 512.7h0M49.8 513.9h0M49.4 515.2h0M47.0 521.2h0M146.0 399.0h0M143.3 409.0h0M142.0 414.1h0M140.7 419.1h0M139.4 424.1h0M137.4 431.7h0M134.7 441.7h0M134.1 444.2h0M133.4 446.8h0M132.7 449.3h0M131.7 453.0h0M139.2 456.5h0M136.8 465.3h0M165.3 380.9h0M164.4 383.3h0M140.3 442.3h0M134.9 455.5h0M130.9 465.2h0M184.6 371.9h0M150.7 482.5h0M150.3 483.7h0M149.5 486.2h0M149.1 487.5h0M148.7 488.7h0M147.6 492.4h0M146.8 494.9h0M146.1 497.4h0M145.7 498.7h0M138.8 521.0h0M150.8 479.4h0M147.7 487.9h0M145.0 495.2h0M142.7 501.3h0M183.1 469.2h0M182.8 470.5h0M182.2 473.0h0M181.3 476.8h0M181.0 478.1h0M180.4 480.6h0M171.8 517.3h0M216.5 362.5h0M186.4 474.2h0M185.7 476.7h0M185.1 479.2h0M184.4 481.7h0M185.4 470.9h0M185.0 472.1h0M181.8 480.6h0M171.1 509.9h0M201.6 464.3h0M196.0 480.3h0M195.6 481.5h0M194.7 483.9h0M205.1 479.0h0M202.3 486.3h0M148.0 399.5h0M109.9 416.2h0M104.0 418.8h0M101.6 419.9h0M99.2 420.9h0M98.0 421.5h0M87.3 426.2h0M84.9 427.2h0M52.8 441.4h0M133.5 446.5h0M66.7 498.3h0M60.6 503.1h0M55.4 507.0h0M48.2 512.6h0M46.2 514.2h0M44.1 515.8h0M42.1 517.4h0M147.3 403.0h0M144.2 405.5h0M71.7 464.6h0M39.1 426.8h0M147.7 500.7h0M149.8 502.2h0M153.0 504.3h0M159.5 508.7h0M160.6 509.5h0M56.9 388.0h0M57.9 388.8h0M134.1 447.5h0M157.8 465.7h0M163.0 469.6h0M165.1 471.2h0M170.2 475.2h0M172.3 476.8h0M176.4 480.0h0M177.4 480.7h0M180.5 483.1h0M88.2 396.3h0M54.8 421.1h0M46.4 427.2h0M45.4 428.0h0M41.2 431.1h0M188.4 464.6h0M185.3 466.9h0M181.0 469.9h0M177.9 472.2h0M174.7 474.4h0M142.9 497.1h0" stroke="#2effff" stroke-width="2.40" stroke-linecap="round"/>
<path d="M37.5 427.8h0M39.5 432.6h0M43.4 442.2h0M43.9 443.4h0M65.6 496.4h0M35.6 425.8h0M59.5 506.8h0M38.8 384.6h0M41.0 390.7h0M54.8 430.0h0M55.3 431.2h0M64.3 456.9h0M65.2 459.4h0M65.6 460.6h0M68.2 468.0h0M69.5 471.7h0M69.9 472.9h0M70.8 475.3h0M40.8 385.4h0M41.1 386.7h0M41.7 389.2h0M51.4 428.3h0M53.0 434.6h0M54.2 439.7h0M54.8 442.2h0M55.4 444.7h0M55.8 446.0h0M56.4 448.5h0M57.3 452.3h0M60.6 382.1h0M61.4 384.6h0M61.9 385.8h0M76.2 426.2h0M74.8 385.1h0M75.7 387.5h0M78.1 393.6h0M78.5 394.8h0M90.2 425.2h0M90.6 426.4h0M103.2 420.3h0M138.2 504.3h0M140.7 510.3h0M141.7 512.7h0M144.7 519.9h0M145.2 521.1h0M92.3 388.8h0M96.0 399.9h0M97.6 404.8h0M102.5 419.6h0M107.3 413.4h0M107.6 414.6h0M136.7 514.5h0M138.1 519.5h0M142.0 508.2h0M143.0 511.9h0M143.3 513.2h0M143.7 514.5h0M144.0 515.7h0M144.7 518.2h0M170.5 484.1h0M171.5 486.5h0M173.4 491.3h0M167.8 493.4h0M169.4 498.3h0M163.2 493.1h0M164.1 496.9h0M164.4 498.2h0M164.7 499.5h0M165.0 500.7h0M165.6 503.3h0M166.5 507.1h0M168.0 513.4h0M169.4 519.7h0M185.8 480.1h0M166.0 378.4h0M199.5 472.8h0M203.0 482.6h0M175.3 372.6h0M173.9 373.1h0M194.8 465.6h0M198.0 479.6h0M199.4 485.9h0M185.6 370.9h0M202.0 369.0h0M207.0 364.7h0M211.2 360.1h0M211.5 361.4h0M211.8 362.7h0M212.1 363.9h0M38.2 387.3h0M52.0 383.1h0M50.5 389.4h0M37.2 445.0h0M62.1 379.5h0M60.9 384.5h0M51.2 427.6h0M68.5 384.2h0M68.1 385.5h0M67.3 387.9h0M55.2 426.4h0M54.9 427.6h0M54.5 428.9h0M52.9 433.8h0M73.0 383.0h0M70.4 390.4h0M69.5 392.8h0M57.3 425.7h0M56.9 427.0h0M51.1 442.8h0M87.2 399.6h0M70.4 471.8h0M68.9 478.1h0M68.6 479.4h0M66.6 488.2h0M66.3 489.5h0M65.7 492.0h0M64.8 495.8h0M64.5 497.1h0M64.2 498.4h0M63.6 500.9h0M63.1 503.4h0M87.7 392.0h0M85.7 396.8h0M84.8 399.2h0M72.7 429.4h0M62.6 454.8h0M41.9 506.7h0M69.7 461.7h0M56.3 496.9h0M52.6 506.7h0M51.7 509.1h0M51.2 510.3h0M48.4 517.6h0M47.5 520.0h0M145.3 401.5h0M144.7 404.0h0M142.7 411.6h0M137.7 430.4h0M136.7 434.2h0M136.4 435.4h0M132.4 450.5h0M129.1 463.1h0M128.4 465.6h0M157.6 388.8h0M134.4 474.1h0M166.8 377.3h0M134.4 456.7h0M133.9 457.9h0M133.4 459.1h0M131.9 462.7h0M147.2 493.7h0M143.8 504.9h0M143.0 507.4h0M142.6 508.6h0M140.7 514.8h0M140.3 516.1h0M139.6 518.5h0M193.2 364.7h0M192.7 365.9h0M192.3 367.2h0M191.8 368.4h0M190.5 372.0h0M155.3 467.2h0M148.1 486.7h0M146.8 490.3h0M143.2 500.1h0M140.5 507.4h0M139.6 509.8h0M138.2 513.5h0M137.3 515.9h0M136.4 518.4h0M207.6 364.1h0M181.6 475.5h0M180.7 479.3h0M180.1 481.9h0M179.8 483.1h0M179.5 484.4h0M179.2 485.7h0M216.1 363.7h0M187.8 469.2h0M186.7 472.9h0M186.1 475.4h0M185.4 478.0h0M184.0 483.0h0M182.7 488.0h0M182.4 489.3h0M184.1 474.5h0M183.2 477.0h0M180.5 484.3h0M201.2 465.5h0M197.7 475.3h0M195.2 482.7h0M193.9 486.4h0M210.1 465.6h0M204.6 480.2h0M201.8 487.5h0M146.8 400.0h0M144.4 401.0h0M143.2 401.5h0M106.4 417.8h0M105.2 418.3h0M94.5 423.0h0M86.1 426.7h0M80.2 429.3h0M54.0 440.9h0M45.7 444.5h0M43.3 445.6h0M63.7 500.7h0M61.6 502.3h0M59.5 503.9h0M54.4 507.8h0M51.3 510.2h0M49.3 511.8h0M45.2 515.0h0M43.1 516.6h0M186.6 371.0h0M145.2 404.7h0M70.7 465.4h0M69.7 466.3h0M155.2 389.8h0M37.0 425.4h0M42.3 429.0h0M45.6 431.2h0M47.7 432.7h0M162.7 510.9h0M164.9 512.4h0M46.6 380.1h0M48.6 381.7h0M52.7 384.8h0M179.5 482.3h0M182.6 484.7h0M183.6 485.5h0M184.6 486.3h0M140.8 410.1h0M208.8 464.6h0M50.6 424.2h0M178.9 471.4h0M148.2 493.3h0M147.2 494.1h0M144.0 496.4h0" stroke="#3bfff2" stroke-width="2.40" stroke-linecap="round"/>
<path d="M37.0 426.6h0M38.5 430.2h0M39.0 431.4h0M42.4 439.8h0M42.9 441.0h0M44.4 444.6h0M36.7 429.5h0M37.8 433.2h0M40.4 442.0h0M40.8 443.2h0M57.6 500.6h0M58.4 503.1h0M39.3 385.8h0M54.0 427.5h0M60.0 444.7h0M61.7 449.6h0M62.2 450.8h0M62.6 452.0h0M63.9 455.7h0M64.8 458.2h0M67.4 465.5h0M67.8 466.8h0M70.4 474.1h0M71.2 476.6h0M72.5 480.2h0M39.5 380.4h0M41.4 388.0h0M55.1 443.5h0M56.1 447.3h0M67.6 494.0h0M59.3 378.4h0M62.3 387.0h0M77.0 428.7h0M73.4 381.5h0M73.9 382.7h0M74.3 383.9h0M92.2 393.9h0M94.7 399.9h0M139.2 506.7h0M140.2 509.1h0M141.2 511.5h0M96.8 402.4h0M106.2 409.6h0M137.4 517.0h0M137.8 518.2h0M129.6 461.7h0M129.9 463.0h0M131.9 470.5h0M141.0 504.4h0M141.6 506.9h0M142.7 510.7h0M140.1 406.6h0M140.5 407.9h0M142.0 411.5h0M169.6 481.7h0M141.0 407.8h0M167.4 492.1h0M170.9 503.3h0M142.5 405.8h0M165.3 502.0h0M166.8 508.3h0M168.3 514.6h0M157.3 386.8h0M157.6 388.1h0M182.0 467.6h0M182.8 470.1h0M186.6 482.6h0M187.7 486.3h0M188.5 488.8h0M165.6 377.2h0M166.9 380.9h0M197.8 467.9h0M201.2 477.7h0M201.7 478.9h0M202.5 481.4h0M205.1 488.7h0M173.6 371.8h0M195.7 469.4h0M196.0 470.7h0M196.8 474.5h0M197.1 475.8h0M198.3 480.9h0M200.3 489.7h0M184.9 368.4h0M206.7 363.5h0M38.5 386.1h0M37.8 388.6h0M53.2 378.0h0M52.9 379.3h0M52.3 381.8h0M41.1 428.6h0M40.5 431.1h0M40.2 432.4h0M37.5 443.8h0M50.1 432.7h0M49.5 435.3h0M48.4 440.3h0M70.0 379.2h0M53.7 431.4h0M53.3 432.6h0M51.4 438.8h0M49.8 443.8h0M72.1 385.5h0M71.2 387.9h0M54.6 433.1h0M52.0 440.4h0M89.2 390.7h0M88.4 394.5h0M87.8 397.1h0M87.5 398.3h0M80.7 427.5h0M71.3 468.0h0M71.0 469.2h0M70.7 470.5h0M70.1 473.0h0M63.3 502.2h0M61.3 511.0h0M61.0 512.3h0M59.2 519.9h0M88.6 389.6h0M88.1 390.8h0M86.2 395.6h0M64.5 449.9h0M63.6 452.3h0M63.1 453.6h0M53.5 504.2h0M52.1 507.9h0M48.9 516.4h0M110.6 414.7h0M145.6 400.2h0M138.7 426.6h0M136.0 436.7h0M135.1 440.5h0M133.7 445.5h0M131.4 454.3h0M130.7 456.8h0M129.4 461.8h0M128.8 464.4h0M160.0 380.0h0M136.4 466.6h0M135.4 470.3h0M167.3 376.1h0M130.0 467.6h0M129.5 468.8h0M187.7 362.0h0M148.0 491.2h0M146.5 496.2h0M145.3 499.9h0M144.5 502.4h0M144.2 503.6h0M142.3 509.8h0M141.5 512.3h0M140.0 517.3h0M146.3 491.5h0M145.9 492.8h0M145.4 494.0h0M144.1 497.6h0M136.9 517.2h0M208.8 359.1h0M208.2 361.6h0M207.9 362.9h0M178.6 488.2h0M215.1 367.5h0M179.1 487.9h0M178.7 489.2h0M178.2 490.4h0M168.4 517.2h0M167.0 520.9h0M200.8 466.8h0M199.9 469.2h0M198.2 474.1h0M206.0 476.5h0M203.7 482.6h0M95.6 422.5h0M89.7 425.1h0M88.5 425.7h0M83.8 427.8h0M48.1 443.5h0M67.8 497.5h0M64.7 499.9h0M58.5 504.7h0M56.5 506.2h0M50.3 511.0h0M191.6 366.9h0M189.6 368.5h0M188.6 369.3h0M187.6 370.2h0M143.2 406.3h0M41.3 428.3h0M44.5 430.5h0M48.8 433.4h0M141.2 496.3h0M142.3 497.0h0M161.6 510.2h0M169.2 515.3h0M49.6 382.5h0M51.7 384.0h0M131.0 445.1h0M132.1 445.9h0M175.4 479.2h0M209.8 465.4h0M89.3 395.5h0M87.2 397.1h0M86.1 397.8h0M44.4 428.8h0M38.1 433.4h0M176.8 472.9h0M165.2 481.2h0M153.5 489.6h0M139.8 499.4h0M138.7 500.1h0" stroke="#48ffe5" stroke-width="2.40" stroke-linecap="round"/>
<path d="M66.1 497.6h0M66.6 498.8h0M38.9 437.0h0M40.0 440.7h0M59.1 505.6h0M59.8 508.1h0M60.9 511.8h0M61.7 514.3h0M38.0 382.2h0M38.4 383.4h0M53.5 426.3h0M56.1 433.7h0M58.3 439.8h0M60.9 447.1h0M61.3 448.4h0M63.5 454.5h0M72.1 479.0h0M39.8 381.6h0M51.7 429.6h0M52.6 433.4h0M53.6 437.2h0M67.3 492.7h0M67.9 495.2h0M68.6 497.7h0M58.0 374.8h0M77.9 431.1h0M73.0 380.3h0M75.3 386.3h0M93.2 396.3h0M93.7 397.5h0M96.7 404.7h0M120.2 461.1h0M124.2 470.7h0M139.7 507.9h0M143.2 516.3h0M96.4 401.1h0M102.9 420.9h0M132.7 511.0h0M133.1 512.2h0M133.5 513.4h0M134.3 515.9h0M104.7 404.6h0M106.6 410.9h0M106.9 412.1h0M108.7 418.4h0M122.5 465.8h0M123.6 469.5h0M135.9 512.0h0M137.0 515.7h0M128.2 456.7h0M128.9 459.2h0M130.6 465.5h0M130.9 466.7h0M131.2 468.0h0M132.3 471.8h0M139.3 498.1h0M140.0 500.6h0M140.3 501.9h0M141.3 505.7h0M172.9 490.1h0M174.3 493.7h0M168.2 494.6h0M169.0 497.1h0M141.6 402.1h0M142.2 404.6h0M142.8 407.1h0M166.2 505.8h0M167.4 510.9h0M168.6 515.9h0M169.1 518.4h0M156.9 385.6h0M165.2 376.0h0M198.2 469.1h0M198.6 470.3h0M199.9 474.0h0M200.4 475.2h0M204.7 487.5h0M174.3 370.2h0M195.1 466.9h0M197.4 477.1h0M197.7 478.3h0M199.7 487.2h0M200.9 492.3h0M184.1 366.0h0M199.1 361.8h0M200.0 364.2h0M201.5 367.8h0M205.2 358.5h0M206.0 361.0h0M206.3 362.2h0M210.2 356.4h0M39.9 381.1h0M38.9 384.8h0M38.7 438.7h0M38.1 441.2h0M72.3 333.8h0M61.8 380.7h0M61.5 382.0h0M60.6 385.8h0M50.7 430.2h0M50.4 431.5h0M48.1 441.6h0M70.4 378.0h0M69.2 381.7h0M68.8 383.0h0M51.7 437.6h0M50.2 442.5h0M74.4 379.4h0M73.9 380.6h0M55.5 430.6h0M55.1 431.8h0M53.7 435.5h0M89.8 388.2h0M88.9 392.0h0M88.7 393.3h0M80.4 428.7h0M72.2 464.2h0M71.9 465.5h0M71.6 466.7h0M69.8 474.3h0M62.8 504.7h0M62.5 506.0h0M62.2 507.2h0M61.6 509.8h0M58.9 521.2h0M89.6 387.1h0M72.2 430.6h0M64.0 451.1h0M94.3 397.3h0M92.9 401.0h0M70.6 459.3h0M69.3 462.9h0M48.0 518.8h0M110.3 415.9h0M110.0 417.2h0M146.6 396.5h0M144.0 406.5h0M133.1 448.0h0M131.1 455.6h0M129.8 460.6h0M128.1 466.9h0M127.8 468.1h0M127.1 470.6h0M159.6 381.2h0M158.6 385.0h0M158.3 386.3h0M136.1 467.8h0M135.8 469.1h0M134.7 472.8h0M166.3 378.5h0M132.9 460.3h0M132.4 461.5h0M130.5 466.4h0M129.0 470.0h0M186.5 365.7h0M185.8 368.2h0M185.4 369.4h0M149.9 485.0h0M144.9 501.1h0M194.1 362.3h0M147.2 489.1h0M139.1 511.1h0M137.8 514.7h0M208.5 360.3h0M178.9 486.9h0M172.1 516.1h0M186.3 468.4h0M179.6 486.7h0M170.2 512.3h0M169.3 514.8h0M167.9 518.4h0M200.3 468.0h0M199.5 470.4h0M199.0 471.7h0M198.6 472.9h0M196.9 477.8h0M209.6 466.8h0M209.2 468.0h0M204.1 481.4h0M201.4 488.7h0M145.6 400.5h0M142.0 402.1h0M140.9 402.6h0M92.1 424.1h0M90.9 424.6h0M81.4 428.8h0M75.4 431.4h0M51.6 441.9h0M50.4 442.4h0M49.2 442.9h0M46.9 444.0h0M126.3 452.1h0M65.7 499.1h0M201.7 358.7h0M196.6 362.8h0M195.6 363.6h0M194.6 364.4h0M193.6 365.2h0M192.6 366.1h0M142.2 407.1h0M141.2 407.9h0M156.2 390.7h0M43.4 429.8h0M56.3 438.5h0M57.4 439.3h0M59.5 440.7h0M143.4 497.8h0M144.4 498.5h0M145.5 499.2h0M44.5 378.5h0M53.8 385.6h0M100.1 421.3h0M133.1 446.7h0M178.4 481.5h0M188.8 489.5h0M138.8 408.5h0M139.8 409.3h0M207.8 463.7h0M91.4 394.0h0M43.3 429.6h0M39.1 432.7h0M36.0 435.0h0" stroke="#55ffd8" stroke-width="2.40" stroke-linecap="round"/>
<path d="M38.0 429.0h0M41.0 436.2h0M41.4 437.4h0M72.5 513.2h0M73.5 515.6h0M74.0 516.8h0M74.5 518.0h0M75.0 519.2h0M58.7 504.3h0M60.6 510.6h0M62.8 518.1h0M36.2 377.3h0M36.7 378.5h0M37.5 380.9h0M55.7 432.4h0M57.8 438.6h0M58.7 441.0h0M59.6 443.5h0M73.0 481.5h0M73.8 483.9h0M38.9 377.9h0M39.2 379.1h0M40.1 382.9h0M52.3 432.1h0M53.3 435.9h0M53.9 438.4h0M54.5 441.0h0M68.3 496.5h0M68.9 499.0h0M71.7 510.4h0M73.6 517.9h0M74.2 520.5h0M61.0 383.4h0M70.2 373.0h0M70.6 374.2h0M72.5 379.0h0M126.9 521.1h0M67.7 335.1h0M89.2 386.7h0M90.7 390.3h0M91.7 392.7h0M122.7 467.1h0M123.7 469.5h0M136.7 500.7h0M137.7 503.1h0M138.7 505.5h0M95.6 398.7h0M119.2 470.2h0M131.9 508.5h0M135.2 518.4h0M101.5 393.4h0M102.9 398.4h0M105.1 405.9h0M105.8 408.4h0M121.1 460.8h0M121.8 463.3h0M133.4 503.2h0M133.8 504.5h0M134.1 505.7h0M134.9 508.2h0M135.2 509.5h0M136.3 513.2h0M127.2 452.9h0M127.6 454.2h0M129.2 460.4h0M131.6 469.2h0M133.3 475.5h0M138.0 493.1h0M138.3 494.4h0M139.6 499.4h0M139.4 402.8h0M141.8 410.3h0M167.0 490.9h0M168.6 495.9h0M169.8 499.6h0M167.1 509.6h0M188.1 487.5h0M164.7 374.8h0M199.1 471.6h0M200.8 476.5h0M196.3 472.0h0M209.6 353.8h0M41.7 374.8h0M39.6 382.3h0M53.5 376.7h0M38.4 440.0h0M37.8 442.5h0M72.6 332.5h0M72.0 335.1h0M62.6 376.9h0M48.9 437.8h0M48.7 439.1h0M70.8 376.8h0M69.6 380.5h0M52.1 436.3h0M51.0 440.0h0M72.6 384.3h0M71.7 386.7h0M53.3 436.7h0M51.5 441.6h0M90.1 386.9h0M89.5 389.5h0M80.1 430.0h0M61.9 508.5h0M60.7 513.6h0M59.8 517.4h0M87.2 393.2h0M86.7 394.4h0M97.0 390.0h0M95.2 394.9h0M94.7 396.1h0M109.7 418.5h0M145.0 402.8h0M130.4 458.1h0M158.9 383.8h0M135.1 471.6h0M133.4 477.8h0M132.7 480.4h0M186.2 366.9h0M185.0 370.7h0M148.4 490.0h0M141.9 511.1h0M193.6 363.5h0M144.5 496.4h0M142.3 502.5h0M141.8 503.7h0M141.4 505.0h0M183.3 467.9h0M178.0 490.7h0M171.2 519.8h0M170.9 521.1h0M217.8 357.4h0M217.1 359.9h0M182.0 490.5h0M180.0 485.5h0M172.9 505.0h0M170.6 511.1h0M168.8 516.0h0M167.5 519.7h0M207.8 471.7h0M206.9 474.1h0M206.4 475.3h0M82.6 428.3h0M73.0 432.5h0M65.9 435.6h0M63.5 436.7h0M62.3 437.2h0M60.0 438.2h0M58.8 438.8h0M57.6 439.3h0M56.4 439.8h0M131.5 448.1h0M124.3 453.7h0M72.9 493.5h0M70.8 495.1h0M57.5 505.4h0M53.4 508.6h0M210.7 351.3h0M202.7 357.8h0M197.6 362.0h0M190.6 367.7h0M140.2 408.8h0M46.6 432.0h0M49.9 434.1h0M53.1 436.3h0M54.2 437.1h0M55.2 437.8h0M58.5 440.0h0M60.6 441.5h0M63.8 443.7h0M139.1 494.8h0M167.0 513.8h0M168.1 514.6h0M170.2 516.0h0M172.4 517.5h0M41.4 376.1h0M42.4 376.9h0M45.5 379.3h0M47.6 380.9h0M102.2 422.9h0M129.0 443.5h0M130.0 444.3h0M185.7 487.1h0M186.7 487.9h0M187.7 488.7h0M189.8 490.3h0M94.5 391.7h0M92.4 393.2h0M90.3 394.7h0M42.3 430.3h0M40.2 431.9h0M145.1 495.6h0M141.9 497.9h0M140.8 498.6h0M137.7 500.9h0M136.6 501.6h0M133.4 503.9h0" stroke="#62ffcb" stroke-width="2.40" stroke-linecap="round"/>
<path d="M41.9 438.6h0M67.1 500.0h0M69.5 506.0h0M70.5 508.4h0M75.5 520.4h0M38.2 434.5h0M39.3 438.2h0M39.7 439.5h0M60.2 509.3h0M62.4 516.8h0M57.0 436.1h0M57.4 437.3h0M59.1 442.2h0M60.4 445.9h0M73.4 482.7h0M82.5 508.4h0M38.0 374.1h0M69.2 500.3h0M70.8 506.6h0M72.0 511.6h0M73.3 516.7h0M58.4 376.0h0M58.8 377.2h0M59.7 379.7h0M60.1 380.9h0M78.3 432.4h0M67.8 366.9h0M69.2 370.6h0M71.6 376.6h0M76.7 390.0h0M68.7 337.5h0M69.7 339.9h0M90.2 389.1h0M92.7 395.1h0M121.7 464.7h0M122.2 465.9h0M137.2 501.9h0M90.2 382.6h0M92.7 390.0h0M93.1 391.3h0M93.9 393.7h0M95.1 397.4h0M103.3 422.1h0M118.0 466.5h0M120.0 472.7h0M133.9 514.7h0M136.0 520.9h0M103.7 400.9h0M104.4 403.4h0M121.4 462.1h0M123.2 468.3h0M124.3 472.0h0M132.3 499.5h0M132.7 500.8h0M126.6 450.4h0M126.9 451.7h0M128.6 457.9h0M132.6 473.0h0M133.6 476.8h0M133.9 478.0h0M134.6 480.5h0M134.9 481.8h0M135.6 484.3h0M135.9 485.6h0M136.6 488.1h0M137.3 490.6h0M137.6 491.8h0M138.6 495.6h0M139.0 496.9h0M140.6 503.2h0M139.1 404.2h0M173.9 492.5h0M174.8 495.0h0M175.3 496.2h0M138.7 400.3h0M139.8 404.1h0M140.2 405.3h0M140.6 406.5h0M170.1 500.8h0M171.7 505.8h0M172.5 508.3h0M174.4 514.5h0M174.8 515.7h0M175.2 516.9h0M175.6 518.2h0M168.8 517.2h0M169.7 521.0h0M156.5 384.4h0M188.8 490.0h0M172.9 366.6h0M174.8 371.4h0M173.3 370.6h0M196.6 473.2h0M183.8 364.7h0M184.5 367.2h0M210.5 357.6h0M210.9 358.9h0M41.3 376.1h0M40.6 378.6h0M40.3 379.8h0M39.2 383.6h0M53.8 375.5h0M40.8 429.9h0M39.9 433.6h0M39.6 434.9h0M39.3 436.2h0M39.0 437.4h0M71.8 336.3h0M71.5 337.6h0M65.5 364.2h0M63.2 374.4h0M62.9 375.6h0M62.3 378.2h0M82.4 339.6h0M72.3 371.8h0M71.6 374.3h0M50.6 441.3h0M75.7 375.7h0M74.8 378.2h0M54.2 434.3h0M60.1 516.1h0M59.5 518.6h0M89.1 388.4h0M71.8 431.8h0M66.4 445.1h0M65.5 447.5h0M96.1 392.5h0M95.6 393.7h0M93.8 398.5h0M111.8 409.6h0M110.9 413.4h0M147.6 392.7h0M146.3 397.7h0M127.4 469.4h0M159.3 382.5h0M134.1 475.3h0M133.7 476.6h0M168.3 373.7h0M167.8 374.9h0M128.0 472.4h0M127.5 473.6h0M110.3 515.7h0M187.3 363.2h0M186.9 364.5h0M194.5 361.1h0M140.9 506.2h0M136.0 519.6h0M178.3 489.5h0M177.4 493.3h0M176.8 495.8h0M172.4 514.8h0M171.5 518.6h0M217.5 358.7h0M216.8 361.2h0M181.7 491.8h0M176.3 511.8h0M174.6 518.1h0M174.3 519.4h0M173.9 520.6h0M171.5 508.7h0M169.7 513.6h0M193.4 487.6h0M192.6 490.1h0M191.7 492.5h0M200.9 489.9h0M111.1 415.7h0M71.9 433.0h0M55.2 440.3h0M130.4 448.9h0M129.4 449.7h0M128.4 450.5h0M71.9 494.3h0M62.6 501.5h0M200.7 359.5h0M139.2 409.6h0M138.2 410.4h0M137.2 411.2h0M152.2 387.2h0M154.2 388.9h0M62.8 442.9h0M138.0 494.1h0M165.9 513.1h0M171.3 516.8h0M43.5 377.7h0M101.2 422.1h0M93.4 392.4h0M37.0 434.2h0M132.4 504.7h0M114.4 517.5h0M110.1 520.5h0" stroke="#6fffbe" stroke-width="2.40" stroke-linecap="round"/>
<path d="M40.0 433.8h0M67.6 501.2h0M68.1 502.4h0M68.6 503.6h0M69.0 504.8h0M70.0 507.2h0M71.5 510.8h0M37.5 432.0h0M38.6 435.7h0M61.3 513.1h0M62.0 515.6h0M63.5 520.5h0M37.1 379.7h0M74.3 485.1h0M74.7 486.4h0M38.6 376.6h0M71.1 507.8h0M71.4 509.1h0M73.9 519.2h0M56.7 371.1h0M77.5 429.9h0M107.0 513.2h0M107.4 514.5h0M108.3 516.9h0M71.1 375.4h0M72.0 377.8h0M91.1 427.6h0M126.5 519.9h0M84.7 375.9h0M86.2 379.5h0M88.7 385.5h0M89.7 387.9h0M91.2 391.5h0M103.7 421.5h0M118.7 457.5h0M119.2 458.7h0M120.7 462.3h0M124.7 471.9h0M127.2 477.9h0M132.2 489.9h0M134.7 495.9h0M135.7 498.3h0M136.2 499.5h0M74.3 334.5h0M74.7 335.7h0M76.0 339.4h0M90.7 383.9h0M91.9 387.6h0M93.5 392.5h0M94.7 396.2h0M115.6 459.1h0M117.6 465.3h0M118.4 467.8h0M131.5 507.3h0M132.3 509.7h0M135.6 519.6h0M84.1 333.5h0M89.9 353.4h0M102.6 397.1h0M103.3 399.6h0M104.0 402.1h0M109.1 419.6h0M109.5 420.9h0M118.5 452.1h0M122.9 467.0h0M125.8 477.0h0M130.5 493.3h0M132.0 498.3h0M133.0 502.0h0M134.5 507.0h0M135.6 510.7h0M126.2 449.1h0M127.9 455.4h0M130.2 464.2h0M132.9 474.3h0M134.3 479.3h0M136.3 486.8h0M136.9 489.3h0M175.8 497.4h0M139.0 401.6h0M172.1 507.0h0M172.9 509.5h0M173.6 512.0h0M176.0 519.4h0M189.6 492.5h0M205.6 489.9h0M206.0 491.2h0M173.4 367.8h0M173.8 369.0h0M200.6 491.0h0M182.3 359.7h0M183.0 362.2h0M209.3 352.6h0M41.0 377.3h0M64.0 332.5h0M54.1 374.2h0M72.9 331.3h0M63.8 371.8h0M63.5 373.1h0M73.5 368.1h0M71.2 375.5h0M52.5 435.1h0M87.4 344.0h0M75.3 376.9h0M73.5 381.8h0M52.8 437.9h0M91.3 381.9h0M91.0 383.1h0M90.4 385.7h0M73.6 457.9h0M73.1 460.4h0M72.5 462.9h0M60.4 514.8h0M92.0 381.1h0M71.3 433.0h0M68.9 439.1h0M96.6 391.2h0M82.2 428.9h0M81.3 431.3h0M72.0 455.6h0M111.2 412.1h0M86.4 512.6h0M86.0 513.9h0M85.0 517.6h0M83.9 521.4h0M115.5 514.6h0M115.2 515.9h0M114.5 518.4h0M160.6 377.5h0M133.0 479.1h0M130.3 489.1h0M170.2 368.9h0M169.8 370.1h0M169.3 371.3h0M168.8 372.5h0M127.0 474.8h0M126.5 476.0h0M108.8 519.3h0M188.8 358.2h0M135.5 520.8h0M209.4 356.5h0M209.1 357.8h0M177.7 492.0h0M177.1 494.5h0M175.1 503.4h0M174.8 504.7h0M173.0 512.3h0M172.7 513.5h0M218.2 356.2h0M180.7 495.5h0M175.9 513.1h0M177.8 491.6h0M177.3 492.8h0M175.5 497.7h0M175.1 498.9h0M174.7 500.1h0M173.8 502.6h0M173.3 503.8h0M172.4 506.2h0M172.0 507.5h0M207.3 472.9h0M205.5 477.8h0M200.5 491.1h0M139.7 403.1h0M113.5 414.6h0M112.3 415.2h0M79.0 429.8h0M74.2 431.9h0M68.3 434.6h0M67.1 435.1h0M64.7 436.1h0M61.1 437.7h0M86.3 483.1h0M69.8 495.9h0M68.8 496.7h0M199.7 360.3h0M198.7 361.1h0M74.7 462.2h0M72.7 463.8h0M153.2 388.1h0M50.9 434.9h0M52.0 435.6h0M61.7 442.2h0M64.9 444.4h0M66.0 445.1h0M68.1 446.6h0M69.2 447.3h0M70.3 448.0h0M136.9 493.4h0M140.1 495.6h0M173.5 518.2h0M38.3 373.7h0M136.7 406.9h0M137.8 407.7h0M135.5 502.4h0M134.5 503.2h0M131.3 505.4h0M129.2 506.9h0M118.6 514.5h0M112.3 519.0h0M111.2 519.8h0" stroke="#7cffb1" stroke-width="2.40" stroke-linecap="round"/>
<path d="M71.0 509.6h0M72.0 512.0h0M73.0 514.4h0M63.1 519.3h0M35.4 374.8h0M35.8 376.0h0M56.5 434.9h0M76.0 490.0h0M83.3 510.9h0M84.2 513.3h0M86.8 520.7h0M36.4 367.8h0M37.6 372.8h0M69.5 501.5h0M69.8 502.8h0M70.1 504.0h0M72.3 512.9h0M72.6 514.1h0M72.9 515.4h0M54.1 363.7h0M56.2 369.9h0M57.1 372.3h0M102.6 501.0h0M103.5 503.4h0M105.3 508.3h0M105.7 509.6h0M106.1 510.8h0M109.6 520.6h0M67.4 365.7h0M68.3 368.1h0M107.9 471.3h0M108.8 473.7h0M110.2 477.4h0M111.1 479.8h0M121.3 506.5h0M122.3 508.9h0M123.2 511.4h0M123.7 512.6h0M65.2 329.1h0M67.2 333.9h0M85.2 377.1h0M86.7 380.7h0M87.2 381.9h0M88.2 384.3h0M116.7 452.7h0M121.2 463.5h0M125.7 474.3h0M126.7 476.7h0M130.2 485.1h0M133.2 492.3h0M133.7 493.5h0M134.2 494.7h0M135.2 497.1h0M72.3 328.3h0M75.1 337.0h0M75.6 338.2h0M88.2 376.4h0M89.8 381.4h0M91.1 385.1h0M91.5 386.3h0M94.3 395.0h0M117.2 464.1h0M118.8 469.0h0M120.5 474.0h0M120.9 475.2h0M121.7 477.7h0M125.4 488.8h0M129.4 501.1h0M130.3 503.6h0M81.2 323.5h0M87.7 346.0h0M88.4 348.5h0M101.1 392.1h0M101.8 394.6h0M120.0 457.1h0M120.3 458.3h0M120.7 459.6h0M122.2 464.5h0M124.7 473.3h0M125.4 475.8h0M91.3 318.5h0M93.0 324.8h0M94.4 329.8h0M125.9 447.9h0M135.3 483.1h0M138.6 403.0h0M181.5 511.9h0M171.3 504.5h0M173.3 510.7h0M174.0 513.2h0M141.0 399.5h0M141.3 400.8h0M167.7 512.1h0M156.1 383.1h0M172.1 365.5h0M172.4 366.7h0M173.0 369.3h0M183.4 363.5h0M198.1 359.3h0M198.6 360.6h0M199.6 363.0h0M204.5 356.0h0M204.9 357.2h0M205.6 359.7h0M209.0 351.3h0M65.2 327.4h0M63.7 333.7h0M56.8 362.8h0M55.0 370.4h0M54.7 371.7h0M54.4 372.9h0M70.3 342.7h0M64.9 366.8h0M64.6 368.0h0M64.3 369.3h0M64.1 370.6h0M49.2 436.5h0M87.5 323.4h0M86.3 327.1h0M84.8 332.1h0M84.0 334.6h0M82.1 340.8h0M81.7 342.0h0M80.5 345.8h0M72.0 373.0h0M95.0 323.3h0M91.4 333.0h0M85.2 350.1h0M84.3 352.5h0M77.5 370.8h0M76.2 374.5h0M90.7 384.4h0M73.9 456.6h0M91.0 383.5h0M90.5 384.7h0M90.1 385.9h0M70.3 435.4h0M69.3 437.9h0M67.9 441.5h0M66.9 443.9h0M66.0 446.3h0M65.0 448.7h0M81.8 430.1h0M71.1 458.1h0M70.2 460.5h0M109.4 419.7h0M88.0 509.5h0M86.4 515.8h0M85.5 519.6h0M112.9 417.4h0M97.8 491.9h0M97.4 493.1h0M148.3 390.2h0M147.3 394.0h0M147.0 395.2h0M126.8 471.9h0M126.4 473.2h0M125.8 475.7h0M125.4 476.9h0M118.5 503.3h0M117.5 507.1h0M116.5 510.9h0M116.2 512.1h0M161.3 375.0h0M161.0 376.2h0M132.4 481.6h0M129.3 492.9h0M127.6 499.2h0M126.2 504.2h0M125.9 505.4h0M125.2 508.0h0M172.7 362.8h0M171.2 366.5h0M128.5 471.2h0M113.7 507.3h0M112.8 509.7h0M110.8 514.5h0M109.8 516.9h0M189.6 355.8h0M188.4 359.5h0M196.3 356.2h0M210.5 351.5h0M210.2 352.7h0M174.2 507.2h0M173.3 511.0h0M181.3 493.0h0M177.6 506.8h0M177.3 508.1h0M176.6 510.6h0M175.6 514.4h0M174.9 516.9h0M176.9 494.0h0M176.4 495.3h0M174.2 501.4h0M193.0 488.8h0M192.1 491.3h0M183.9 514.6h0M208.7 469.2h0M208.3 470.5h0M199.6 493.6h0M138.5 403.6h0M137.3 404.2h0M77.8 430.4h0M76.6 430.9h0M70.7 433.5h0M127.4 451.3h0M123.2 454.5h0M91.4 479.2h0M75.0 491.9h0M73.9 492.7h0M212.8 349.6h0M207.7 353.7h0M203.7 357.0h0M136.2 412.1h0M131.1 416.2h0M84.8 328.1h0M87.7 330.6h0M67.1 445.8h0M100.4 468.5h0M112.2 476.6h0M133.7 491.2h0M134.8 491.9h0M174.5 519.0h0M175.6 519.7h0M176.7 520.4h0M39.3 374.5h0M40.4 375.3h0M103.2 423.7h0M191.8 491.8h0M192.9 492.6h0M97.6 389.3h0M95.5 390.9h0M127.1 508.4h0M122.8 511.5h0M121.8 512.2h0M116.5 516.0h0M113.3 518.3h0" stroke="#89ffa4" stroke-width="2.40" stroke-linecap="round"/>
<path d="M40.5 435.0h0M31.0 362.5h0M34.1 371.1h0M34.9 373.6h0M75.1 487.6h0M75.6 488.8h0M76.4 491.3h0M80.8 503.5h0M84.6 514.6h0M85.5 517.0h0M85.9 518.2h0M86.4 519.5h0M35.5 364.0h0M37.0 370.3h0M37.3 371.5h0M38.3 375.3h0M70.4 505.3h0M55.4 367.4h0M57.5 373.5h0M78.8 433.6h0M103.9 504.7h0M104.8 507.1h0M68.8 369.3h0M69.7 371.8h0M91.6 428.8h0M109.2 474.9h0M124.1 513.8h0M125.1 516.2h0M125.5 517.4h0M66.2 331.5h0M66.7 332.7h0M68.2 336.3h0M69.2 338.7h0M70.7 342.3h0M72.2 345.9h0M80.2 365.1h0M87.7 383.1h0M104.2 422.7h0M123.2 468.3h0M125.2 473.1h0M129.7 483.9h0M132.7 491.1h0M71.9 327.1h0M73.1 330.8h0M73.9 333.2h0M76.4 340.7h0M89.0 378.9h0M89.4 380.1h0M103.7 423.3h0M116.8 462.8h0M119.6 471.5h0M121.3 476.4h0M122.1 478.9h0M126.6 492.5h0M127.4 494.9h0M130.7 504.8h0M131.1 506.0h0M80.1 319.7h0M81.5 324.7h0M83.7 332.2h0M85.5 338.5h0M88.8 349.7h0M89.1 351.0h0M89.5 352.2h0M90.2 354.7h0M126.9 480.8h0M127.2 482.0h0M131.2 495.8h0M131.6 497.0h0M90.0 313.5h0M90.3 314.8h0M94.0 328.6h0M95.0 332.3h0M125.5 446.6h0M138.2 401.8h0M176.2 498.6h0M177.7 502.2h0M179.1 505.8h0M170.5 502.1h0M176.4 520.7h0M140.7 398.3h0M155.7 381.9h0M189.2 491.3h0M190.0 493.8h0M163.4 371.1h0M172.4 365.4h0M172.7 368.0h0M182.7 361.0h0M196.7 355.7h0M197.6 358.1h0M209.9 355.1h0M64.6 329.9h0M64.3 331.2h0M63.4 335.0h0M62.8 337.5h0M57.1 361.6h0M74.3 324.9h0M73.5 328.7h0M73.2 330.0h0M71.2 338.9h0M70.9 340.1h0M90.6 313.5h0M90.2 314.7h0M88.3 320.9h0M83.6 335.8h0M82.8 338.3h0M80.9 344.5h0M74.3 365.6h0M73.9 366.8h0M73.1 369.3h0M72.7 370.6h0M93.2 328.1h0M87.0 345.2h0M86.5 346.4h0M80.7 362.3h0M80.2 363.5h0M77.1 372.1h0M76.6 373.3h0M79.8 431.3h0M78.4 437.6h0M73.4 459.1h0M70.8 434.2h0M69.8 436.7h0M68.4 440.3h0M97.5 388.8h0M79.0 437.4h0M111.5 410.9h0M96.7 472.8h0M89.5 503.2h0M89.2 504.4h0M87.4 512.0h0M87.0 513.3h0M86.1 517.1h0M85.8 518.4h0M114.6 411.2h0M113.9 413.7h0M113.6 414.9h0M113.3 416.2h0M112.2 419.9h0M96.2 477.6h0M89.5 501.3h0M88.8 503.9h0M87.1 510.1h0M86.7 511.4h0M85.3 516.4h0M84.6 518.9h0M105.3 468.3h0M104.6 470.8h0M101.8 479.5h0M101.0 482.0h0M99.4 486.9h0M89.6 517.9h0M88.8 520.4h0M148.6 388.9h0M148.0 391.4h0M119.2 500.8h0M116.8 509.6h0M115.8 513.4h0M114.2 519.7h0M113.9 520.9h0M160.3 378.7h0M131.7 484.1h0M130.7 487.9h0M128.3 496.7h0M127.2 500.4h0M126.6 502.9h0M123.8 513.0h0M122.8 516.7h0M172.2 364.1h0M171.7 365.3h0M115.7 502.5h0M112.3 510.9h0M189.2 357.0h0M188.1 360.7h0M197.2 353.7h0M195.4 358.6h0M209.9 354.0h0M209.7 355.3h0M176.5 497.1h0M176.3 498.3h0M176.0 499.6h0M175.4 502.1h0M174.5 505.9h0M173.9 508.5h0M219.2 352.4h0M218.8 353.7h0M218.5 354.9h0M180.3 496.8h0M179.0 501.8h0M178.0 505.6h0M177.0 509.3h0M175.3 515.6h0M176.0 496.5h0M125.3 452.9h0M122.2 455.3h0M118.1 458.5h0M117.1 459.3h0M116.1 460.1h0M113.0 462.4h0M110.9 464.0h0M104.7 468.8h0M101.7 471.2h0M98.6 473.6h0M80.1 487.9h0M78.0 489.5h0M76.0 491.1h0M209.7 352.1h0M208.7 352.9h0M206.7 354.6h0M205.7 355.4h0M135.2 412.9h0M134.2 413.7h0M133.2 414.5h0M76.7 460.5h0M75.7 461.3h0M73.7 463.0h0M79.0 322.9h0M79.9 323.8h0M83.8 327.2h0M88.7 331.5h0M89.7 332.4h0M103.6 470.7h0M110.0 475.1h0M114.3 478.0h0M131.5 489.7h0M177.8 521.2h0M31.1 368.2h0M37.3 372.9h0M104.3 424.5h0M126.9 441.9h0M190.8 491.0h0M77.9 359.8h0M96.6 390.1h0M125.0 510.0h0" stroke="#96ff96" stroke-width="2.40" stroke-linecap="round"/>
<path d="M29.7 358.9h0M31.5 363.8h0M33.2 368.7h0M77.3 493.7h0M81.2 504.8h0M81.6 506.0h0M82.9 509.7h0M83.8 512.1h0M33.0 353.9h0M33.6 356.4h0M34.2 358.9h0M34.5 360.2h0M53.6 362.5h0M55.8 368.6h0M90.1 465.5h0M99.6 492.4h0M101.3 497.3h0M102.2 499.8h0M104.4 505.9h0M106.6 512.0h0M108.7 518.2h0M109.2 519.4h0M47.4 313.5h0M66.9 364.5h0M106.5 467.7h0M107.4 470.1h0M108.3 472.5h0M109.7 476.2h0M111.6 481.0h0M113.4 485.9h0M113.9 487.1h0M114.4 488.3h0M115.3 490.7h0M118.1 498.0h0M121.8 507.7h0M122.7 510.1h0M126.0 518.6h0M65.7 330.3h0M70.2 341.1h0M78.7 361.5h0M81.7 368.7h0M84.2 374.7h0M85.7 378.3h0M105.2 425.1h0M118.2 456.3h0M119.7 459.9h0M126.2 475.5h0M129.2 482.7h0M130.7 486.3h0M131.2 487.5h0M131.7 488.7h0M72.7 329.5h0M73.5 332.0h0M76.8 341.9h0M77.2 343.1h0M77.6 344.4h0M82.5 359.2h0M84.1 364.1h0M87.8 375.2h0M115.2 457.9h0M116.0 460.4h0M122.9 481.4h0M129.0 499.9h0M129.8 502.3h0M81.9 326.0h0M82.2 327.2h0M82.6 328.5h0M83.0 329.7h0M83.3 331.0h0M84.4 334.7h0M85.9 339.7h0M87.0 343.5h0M87.3 344.7h0M88.1 347.2h0M99.3 385.9h0M100.4 389.6h0M100.8 390.9h0M102.2 395.9h0M124.0 470.8h0M125.1 474.5h0M126.5 479.5h0M128.3 485.8h0M92.0 321.0h0M92.7 323.5h0M94.7 331.1h0M97.7 342.4h0M101.7 357.5h0M139.6 405.4h0M178.6 504.6h0M180.0 508.3h0M182.9 515.5h0M138.3 399.1h0M140.1 395.7h0M191.1 497.5h0M163.0 369.9h0M163.9 372.3h0M164.3 373.5h0M171.6 362.9h0M171.9 364.2h0M201.7 496.1h0M181.6 357.2h0M195.7 353.3h0M197.1 356.9h0M203.8 353.5h0M204.2 354.7h0M30.9 352.8h0M29.8 357.8h0M45.9 317.1h0M30.8 355.9h0M44.2 366.1h0M42.4 372.3h0M42.1 373.6h0M64.9 328.7h0M63.1 336.3h0M62.5 338.8h0M62.2 340.1h0M56.2 365.4h0M55.6 367.9h0M55.3 369.1h0M74.6 323.6h0M70.6 341.4h0M65.2 365.5h0M89.4 317.2h0M89.1 318.5h0M88.7 319.7h0M85.6 329.6h0M84.4 333.3h0M77.8 354.4h0M75.8 360.6h0M75.5 361.9h0M74.7 364.4h0M97.7 315.9h0M94.6 324.5h0M92.3 330.6h0M91.0 334.2h0M89.2 339.1h0M88.8 340.3h0M88.3 341.6h0M86.1 347.7h0M83.8 353.8h0M83.4 355.0h0M79.8 364.7h0M78.0 369.6h0M92.5 376.8h0M92.2 378.1h0M91.9 379.3h0M79.2 433.8h0M74.2 455.3h0M91.5 382.3h0M67.4 442.7h0M99.8 382.7h0M98.4 386.4h0M98.0 387.6h0M80.8 432.6h0M78.5 438.6h0M77.1 442.3h0M112.7 405.8h0M112.1 408.3h0M109.1 421.0h0M97.3 470.3h0M96.1 475.4h0M95.2 479.2h0M92.2 491.8h0M90.1 500.6h0M88.9 505.7h0M88.3 508.2h0M86.7 514.6h0M85.2 520.9h0M111.9 421.2h0M97.6 472.5h0M96.9 475.0h0M95.1 481.3h0M89.2 502.6h0M88.5 505.1h0M87.4 508.9h0M84.3 520.1h0M105.7 467.1h0M104.2 472.0h0M103.8 473.3h0M103.0 475.8h0M100.6 483.2h0M99.8 485.7h0M99.0 488.1h0M95.1 500.5h0M93.1 506.7h0M92.3 509.2h0M91.9 510.4h0M89.2 519.1h0M150.3 382.6h0M126.1 474.4h0M125.1 478.2h0M124.8 479.4h0M124.5 480.7h0M122.1 489.5h0M120.8 494.5h0M117.8 505.8h0M161.7 373.7h0M131.0 486.6h0M129.0 494.2h0M125.5 506.7h0M124.9 509.2h0M123.2 515.5h0M122.5 518.0h0M173.2 361.6h0M170.7 367.7h0M125.5 478.4h0M123.1 484.4h0M120.6 490.4h0M119.6 492.8h0M119.2 494.0h0M117.7 497.6h0M115.2 503.7h0M114.7 504.9h0M114.2 506.1h0M113.3 508.5h0M111.8 512.1h0M111.3 513.3h0M109.3 518.1h0M190.0 354.5h0M195.0 359.8h0M212.3 343.9h0M211.7 346.4h0M175.7 500.9h0M173.6 509.7h0M181.0 494.3h0M179.7 499.3h0M191.3 493.7h0M183.5 515.8h0M181.8 520.7h0M200.0 492.4h0M136.1 404.7h0M115.9 413.6h0M69.5 434.0h0M121.2 456.1h0M120.2 456.9h0M119.1 457.7h0M114.0 461.6h0M109.9 464.8h0M108.9 465.6h0M107.8 466.4h0M105.8 468.0h0M103.7 469.6h0M102.7 470.4h0M95.5 476.0h0M85.2 483.9h0M84.2 484.7h0M216.8 346.4h0M211.8 350.5h0M204.7 356.2h0M132.1 415.3h0M130.1 417.0h0M73.1 317.8h0M82.9 326.4h0M86.8 329.8h0M91.7 334.1h0M106.8 472.9h0M107.9 473.6h0M109.0 474.4h0M111.1 475.8h0M118.6 480.9h0M126.2 486.1h0M130.5 489.0h0M132.6 490.5h0M135.8 492.6h0M32.1 369.0h0M35.2 371.4h0M193.9 493.4h0M72.8 355.7h0M91.1 370.3h0M134.7 405.3h0M98.7 388.6h0M130.2 506.2h0M128.1 507.7h0M126.0 509.2h0M119.7 513.7h0M117.6 515.2h0M115.4 516.8h0M109.1 521.3h0" stroke="#a4ff89" stroke-width="2.40" stroke-linecap="round"/>
<path d="M30.6 361.3h0M31.9 365.0h0M32.8 367.4h0M33.6 369.9h0M34.5 372.3h0M78.6 497.4h0M79.0 498.6h0M85.1 515.8h0M34.8 361.5h0M35.1 362.7h0M40.6 325.8h0M52.7 360.1h0M54.5 365.0h0M79.2 434.8h0M81.4 440.9h0M91.8 470.4h0M93.1 474.0h0M94.8 478.9h0M95.7 481.4h0M96.1 482.6h0M97.4 486.3h0M97.9 487.5h0M98.3 488.7h0M100.0 493.6h0M100.9 496.1h0M103.1 502.2h0M107.9 515.7h0M50.6 322.0h0M53.9 330.5h0M56.2 336.6h0M64.1 357.2h0M65.0 359.6h0M65.5 360.8h0M66.4 363.3h0M110.6 478.6h0M112.0 482.2h0M113.0 484.7h0M115.8 491.9h0M116.2 493.2h0M116.7 494.4h0M117.2 495.6h0M120.4 504.1h0M124.6 515.0h0M64.2 326.7h0M64.7 327.9h0M71.2 343.5h0M71.7 344.7h0M72.7 347.1h0M74.7 351.9h0M76.7 356.7h0M79.2 362.7h0M79.7 363.9h0M81.2 367.5h0M82.7 371.1h0M83.2 372.3h0M83.7 373.5h0M104.7 423.9h0M105.7 426.3h0M116.2 451.5h0M127.7 479.1h0M70.7 323.4h0M71.1 324.6h0M79.2 349.3h0M79.6 350.5h0M80.9 354.2h0M81.3 355.5h0M82.9 360.4h0M83.3 361.6h0M85.8 369.0h0M86.2 370.3h0M86.6 371.5h0M88.6 377.7h0M116.4 461.6h0M122.5 480.1h0M124.1 485.1h0M124.9 487.5h0M125.8 490.0h0M127.0 493.7h0M127.8 496.2h0M128.2 497.4h0M128.6 498.6h0M78.3 313.5h0M79.7 318.5h0M80.8 322.2h0M84.8 336.0h0M90.6 355.9h0M91.0 357.2h0M91.3 358.4h0M97.1 378.4h0M97.9 380.9h0M99.7 387.2h0M118.2 450.8h0M119.6 455.8h0M126.2 478.3h0M127.6 483.3h0M130.1 492.0h0M130.9 494.5h0M90.7 316.0h0M91.0 317.3h0M91.7 319.8h0M92.3 322.3h0M93.7 327.3h0M95.4 333.6h0M96.4 337.4h0M97.4 341.1h0M124.9 444.1h0M125.2 445.4h0M103.4 313.5h0M136.7 398.2h0M137.7 400.6h0M176.7 499.8h0M178.1 503.4h0M179.6 507.1h0M180.5 509.5h0M181.9 513.1h0M183.8 517.9h0M184.3 519.2h0M190.4 495.0h0M190.7 496.2h0M162.1 367.4h0M207.3 494.8h0M170.9 361.8h0M171.9 364.2h0M171.0 360.4h0M201.2 493.5h0M180.5 353.5h0M182.0 358.5h0M201.6 346.0h0M203.4 352.2h0M40.0 313.5h0M39.1 317.3h0M36.8 327.4h0M33.3 342.6h0M32.1 347.7h0M31.8 349.0h0M29.8 358.3h0M45.2 362.3h0M44.5 364.8h0M43.5 368.6h0M43.1 369.8h0M66.1 323.6h0M65.5 326.1h0M56.5 364.1h0M76.9 313.5h0M75.8 318.6h0M74.9 322.4h0M73.8 327.5h0M70.0 343.9h0M69.5 346.5h0M69.2 347.7h0M66.1 361.7h0M89.8 316.0h0M87.1 324.7h0M86.7 325.9h0M85.9 328.4h0M85.2 330.9h0M83.2 337.1h0M81.3 343.3h0M79.0 350.7h0M77.4 355.7h0M77.0 356.9h0M98.2 314.7h0M95.9 320.8h0M93.7 326.9h0M90.5 335.5h0M90.1 336.7h0M89.7 337.9h0M87.9 342.8h0M85.6 348.9h0M84.7 351.3h0M82.9 356.2h0M82.5 357.4h0M82.0 358.6h0M81.6 359.9h0M81.1 361.1h0M79.3 366.0h0M105.4 321.1h0M104.2 326.2h0M102.8 332.5h0M102.2 335.0h0M101.9 336.3h0M100.7 341.4h0M97.8 354.0h0M97.5 355.3h0M96.3 360.4h0M91.6 380.6h0M79.5 432.5h0M78.6 436.3h0M77.5 441.4h0M77.2 442.7h0M76.6 445.2h0M76.3 446.5h0M74.8 452.8h0M74.5 454.1h0M72.8 461.7h0M98.3 365.4h0M94.4 375.1h0M93.9 376.3h0M93.4 377.5h0M103.1 374.2h0M98.9 385.2h0M79.4 436.2h0M75.7 445.9h0M75.3 447.1h0M74.8 448.3h0M73.9 450.8h0M73.4 452.0h0M71.6 456.8h0M96.4 474.1h0M92.5 490.5h0M91.6 494.3h0M91.3 495.6h0M90.7 498.1h0M88.6 507.0h0M112.6 418.7h0M111.5 422.5h0M98.9 467.5h0M97.9 471.3h0M97.2 473.8h0M95.5 480.1h0M94.4 483.8h0M92.0 492.6h0M90.9 496.3h0M90.2 498.8h0M89.9 500.1h0M87.8 507.6h0M102.6 477.0h0M102.2 478.2h0M101.4 480.7h0M98.6 489.4h0M98.2 490.6h0M96.7 495.6h0M96.3 496.8h0M95.9 498.1h0M95.5 499.3h0M94.7 501.8h0M93.5 505.5h0M91.5 511.7h0M91.1 512.9h0M89.9 516.6h0M149.3 386.4h0M149.0 387.7h0M123.5 484.5h0M122.8 487.0h0M120.1 497.0h0M117.2 508.4h0M114.8 517.2h0M162.3 371.2h0M132.0 482.9h0M130.0 490.4h0M129.6 491.6h0M127.9 497.9h0M124.5 510.5h0M122.1 519.2h0M121.8 520.5h0M175.2 356.8h0M173.7 360.4h0M125.0 479.6h0M124.6 480.8h0M123.6 483.2h0M122.6 485.6h0M120.1 491.6h0M118.7 495.2h0M116.7 500.1h0M116.2 501.3h0M108.3 520.5h0M200.4 345.2h0M196.8 355.0h0M211.4 347.7h0M210.8 350.2h0M180.0 498.0h0M179.3 500.5h0M178.3 504.3h0M182.2 519.5h0M114.7 414.1h0M115.0 460.8h0M89.3 480.8h0M83.2 485.5h0M82.1 486.3h0M81.1 487.1h0M79.1 488.7h0M77.0 490.3h0M213.8 348.8h0M78.7 458.9h0M77.7 459.7h0M85.8 328.9h0M90.7 333.2h0M98.5 340.1h0M150.3 385.5h0M71.4 448.8h0M97.1 466.3h0M104.7 471.4h0M105.7 472.2h0M113.3 477.3h0M120.8 482.4h0M122.9 483.9h0M124.0 484.6h0M129.4 488.3h0M33.2 369.8h0M36.3 372.2h0M125.9 441.1h0M128.0 442.7h0M194.9 494.2h0M196.0 495.0h0M27.1 319.2h0M75.8 358.2h0M82.9 363.9h0M84.0 364.7h0M135.7 406.1h0M99.7 387.8h0M123.9 510.7h0" stroke="#b1ff7c" stroke-width="2.40" stroke-linecap="round"/>
<path d="M30.2 360.1h0M32.3 366.2h0M77.7 495.0h0M78.2 496.2h0M79.5 499.9h0M79.9 501.1h0M80.3 502.3h0M82.1 507.2h0M28.3 335.0h0M31.7 348.8h0M32.0 350.1h0M33.3 355.1h0M33.9 357.7h0M35.8 365.2h0M37.6 317.2h0M38.0 318.4h0M38.4 319.6h0M41.0 327.0h0M41.9 329.4h0M42.3 330.7h0M42.8 331.9h0M51.9 357.6h0M81.8 442.2h0M90.5 466.7h0M90.9 467.9h0M92.7 472.8h0M94.4 477.7h0M95.3 480.2h0M97.0 485.1h0M98.7 490.0h0M99.2 491.2h0M57.1 339.0h0M93.0 432.5h0M106.0 466.4h0M112.5 483.4h0M114.8 489.5h0M118.6 499.2h0M119.0 500.4h0M119.5 501.6h0M120.0 502.9h0M120.9 505.3h0M60.8 318.3h0M63.7 325.5h0M74.2 350.7h0M75.2 353.1h0M76.2 355.5h0M80.7 366.3h0M117.7 455.1h0M128.2 480.3h0M128.7 481.5h0M70.2 322.1h0M71.5 325.8h0M78.4 346.8h0M80.0 351.8h0M80.5 353.0h0M82.1 357.9h0M83.7 362.9h0M84.5 365.3h0M85.4 367.8h0M87.0 372.7h0M87.4 374.0h0M104.5 425.8h0M114.7 456.7h0M123.7 483.8h0M124.5 486.3h0M126.2 491.2h0M78.6 314.7h0M79.0 316.0h0M80.4 321.0h0M85.2 337.2h0M86.2 341.0h0M86.6 342.2h0M92.8 363.4h0M94.2 368.4h0M94.9 370.9h0M96.4 375.9h0M97.5 379.7h0M98.2 382.2h0M98.6 383.4h0M109.8 422.1h0M118.9 453.3h0M119.3 454.6h0M128.0 484.5h0M128.7 487.0h0M129.4 489.5h0M129.8 490.8h0M93.3 326.1h0M95.7 334.9h0M100.1 351.2h0M114.8 406.4h0M115.1 407.7h0M115.5 409.0h0M116.5 412.7h0M116.8 414.0h0M117.5 416.5h0M118.8 421.5h0M109.1 328.0h0M110.1 330.4h0M182.4 514.3h0M183.4 516.7h0M140.4 397.0h0M155.4 380.6h0M196.4 514.9h0M197.2 517.4h0M197.6 518.6h0M198.0 519.9h0M206.4 492.4h0M206.9 493.6h0M207.8 496.1h0M171.4 363.0h0M171.3 361.7h0M194.7 350.9h0M196.2 354.5h0M208.3 348.8h0M39.4 316.0h0M38.5 319.8h0M37.1 326.2h0M33.6 341.4h0M33.0 343.9h0M32.4 346.4h0M31.5 350.2h0M31.2 351.5h0M30.6 354.0h0M30.1 356.6h0M47.3 313.5h0M46.8 314.7h0M44.9 319.6h0M43.5 323.2h0M43.0 324.4h0M41.1 329.2h0M35.0 345.0h0M34.5 346.2h0M34.1 347.4h0M31.7 353.5h0M31.2 354.7h0M30.3 357.1h0M57.9 317.3h0M54.4 329.8h0M47.0 356.0h0M46.3 358.5h0M45.9 359.8h0M43.8 367.3h0M42.8 371.1h0M67.0 319.8h0M66.4 322.4h0M61.9 341.3h0M61.3 343.9h0M57.7 359.0h0M55.9 366.6h0M75.2 321.1h0M69.8 345.2h0M66.3 360.4h0M65.8 363.0h0M87.9 322.2h0M79.7 348.2h0M79.3 349.5h0M78.2 353.2h0M76.6 358.2h0M98.6 313.5h0M97.3 317.2h0M96.4 319.6h0M95.5 322.0h0M94.1 325.7h0M92.8 329.4h0M91.9 331.8h0M78.9 367.2h0M105.1 322.4h0M102.5 333.8h0M101.6 337.6h0M99.2 347.7h0M98.7 350.2h0M98.4 351.5h0M96.0 361.6h0M94.0 370.5h0M93.4 373.0h0M78.9 435.1h0M78.1 438.9h0M76.0 447.7h0M75.1 451.5h0M103.1 353.3h0M102.1 355.8h0M95.8 371.5h0M93.0 378.7h0M92.5 379.9h0M99.3 384.0h0M76.2 444.7h0M73.0 453.2h0M72.5 454.4h0M108.8 422.2h0M97.0 471.6h0M94.9 480.4h0M93.7 485.5h0M93.4 486.7h0M92.8 489.3h0M89.8 501.9h0M87.7 510.8h0M114.3 412.4h0M110.8 425.0h0M98.6 468.8h0M98.2 470.0h0M95.8 478.8h0M93.7 486.3h0M93.4 487.6h0M93.0 488.8h0M91.6 493.8h0M88.1 506.4h0M85.7 515.1h0M120.7 420.0h0M107.3 462.1h0M106.1 465.9h0M103.4 474.5h0M100.2 484.4h0M97.1 494.3h0M94.3 503.0h0M93.9 504.3h0M92.7 508.0h0M90.7 514.2h0M90.3 515.4h0M150.6 381.4h0M124.1 482.0h0M123.8 483.2h0M123.1 485.7h0M122.5 488.2h0M121.5 492.0h0M120.5 495.8h0M118.8 502.1h0M118.2 504.6h0M165.4 359.9h0M163.0 368.7h0M162.7 370.0h0M131.3 485.4h0M128.6 495.4h0M126.9 501.7h0M124.2 511.7h0M123.5 514.2h0M178.6 348.4h0M175.7 355.6h0M174.7 358.0h0M174.2 359.2h0M122.1 486.8h0M121.1 489.2h0M118.2 496.4h0M117.2 498.9h0M199.5 347.6h0M197.7 352.5h0M195.9 357.4h0M212.6 342.6h0M212.0 345.1h0M211.1 348.9h0M178.6 503.1h0M190.8 495.0h0M190.4 496.2h0M182.6 518.3h0M190.9 516.7h0M117.1 413.1h0M111.9 463.2h0M106.8 467.2h0M93.4 477.6h0M88.3 481.6h0M87.3 482.4h0M218.8 344.7h0M214.8 348.0h0M129.1 417.8h0M69.2 314.4h0M74.1 318.6h0M80.9 324.6h0M81.9 325.5h0M94.6 336.6h0M93.9 464.1h0M95.0 464.9h0M101.4 469.2h0M102.5 470.0h0M115.4 478.8h0M119.7 481.7h0M125.1 485.3h0M128.3 487.5h0M34.2 370.6h0M105.3 425.3h0M124.9 440.3h0M28.1 320.0h0M29.1 320.8h0M34.2 324.9h0M36.2 326.5h0M37.3 327.3h0M73.8 356.5h0M74.8 357.4h0M76.8 359.0h0M78.9 360.6h0M86.0 366.3h0M88.0 367.9h0M98.2 376.0h0M102.8 385.5h0M101.8 386.2h0M100.8 387.0h0M120.7 513.0h0" stroke="#beff6f" stroke-width="2.40" stroke-linecap="round"/>
<path d="M76.9 492.5h0M28.0 333.7h0M28.6 336.2h0M28.9 337.5h0M29.5 340.0h0M29.8 341.3h0M31.4 347.6h0M32.6 352.6h0M36.7 369.0h0M36.7 314.7h0M38.9 320.9h0M39.3 322.1h0M39.7 323.3h0M43.2 333.1h0M44.1 335.6h0M49.7 351.5h0M53.2 361.3h0M54.9 366.2h0M80.1 437.3h0M89.2 463.0h0M91.4 469.1h0M101.8 498.5h0M47.8 314.7h0M48.3 315.9h0M49.2 318.4h0M52.0 325.6h0M52.5 326.9h0M55.3 334.1h0M55.7 335.3h0M57.6 340.2h0M58.1 341.4h0M58.5 342.6h0M66.0 362.1h0M92.0 430.0h0M92.5 431.2h0M105.1 464.0h0M105.5 465.2h0M106.9 468.9h0M58.8 313.5h0M59.3 314.7h0M62.7 323.1h0M73.2 348.3h0M75.7 354.3h0M77.2 357.9h0M77.7 359.1h0M78.2 360.3h0M82.2 369.9h0M69.4 319.7h0M78.0 345.6h0M78.8 348.1h0M81.7 356.7h0M84.9 366.6h0M104.1 424.6h0M79.3 317.2h0M91.7 359.7h0M92.0 360.9h0M93.5 365.9h0M93.9 367.2h0M95.7 373.4h0M96.0 374.7h0M98.9 384.7h0M100.0 388.4h0M110.2 423.4h0M129.1 488.3h0M96.0 336.1h0M96.7 338.6h0M97.0 339.9h0M98.0 343.6h0M98.4 344.9h0M112.8 398.9h0M113.5 401.4h0M116.2 411.5h0M117.2 415.2h0M118.2 419.0h0M123.9 440.4h0M124.2 441.6h0M103.9 314.7h0M104.8 317.1h0M105.3 318.3h0M106.3 320.8h0M106.7 322.0h0M107.2 323.2h0M111.0 332.9h0M112.0 335.3h0M136.3 397.0h0M137.2 399.4h0M181.0 510.7h0M184.8 520.4h0M111.4 313.5h0M137.9 397.9h0M154.6 378.1h0M155.0 379.4h0M191.5 498.7h0M198.3 521.1h0M167.1 352.1h0M168.5 355.7h0M169.5 358.2h0M170.5 360.6h0M168.4 349.0h0M170.4 357.9h0M206.3 516.4h0M179.4 349.7h0M180.9 354.7h0M185.0 326.8h0M186.5 330.4h0M193.3 347.3h0M194.2 349.7h0M202.4 348.5h0M202.7 349.7h0M206.7 342.5h0M207.1 343.8h0M207.4 345.0h0M208.0 347.5h0M208.6 350.1h0M217.9 324.7h0M218.3 325.9h0M39.7 314.8h0M38.8 318.6h0M38.2 321.1h0M36.2 330.0h0M35.9 331.2h0M35.6 332.5h0M34.7 336.3h0M34.4 337.6h0M32.7 345.2h0M30.3 355.3h0M46.3 315.9h0M45.4 318.3h0M44.4 320.8h0M42.6 325.6h0M41.6 328.0h0M40.7 330.5h0M39.3 334.1h0M37.4 338.9h0M36.9 340.2h0M35.5 343.8h0M32.7 351.1h0M58.3 316.0h0M57.6 318.5h0M57.2 319.8h0M56.9 321.0h0M56.2 323.5h0M55.8 324.8h0M54.7 328.5h0M54.0 331.0h0M48.4 351.0h0M46.6 357.3h0M67.9 316.0h0M67.6 317.3h0M65.8 324.9h0M61.6 342.6h0M57.4 360.3h0M76.3 316.0h0M74.0 326.2h0M80.1 347.0h0M76.2 359.4h0M96.8 318.4h0M105.7 319.8h0M104.5 324.9h0M103.7 328.7h0M101.3 338.8h0M100.1 343.9h0M99.8 345.2h0M97.2 356.6h0M96.9 357.8h0M96.6 359.1h0M95.1 365.4h0M92.8 375.5h0M111.3 332.8h0M106.4 344.9h0M102.6 354.6h0M96.3 370.2h0M94.9 373.9h0M101.7 377.9h0M79.9 435.0h0M77.6 441.1h0M76.7 443.5h0M114.2 399.5h0M112.4 407.1h0M98.5 465.2h0M95.8 476.6h0M95.5 477.9h0M94.6 481.7h0M94.0 484.2h0M93.1 488.0h0M91.9 493.1h0M91.0 496.9h0M90.4 499.4h0M115.0 409.9h0M111.2 423.7h0M99.3 466.3h0M96.5 476.3h0M94.8 482.6h0M92.7 490.1h0M92.3 491.3h0M107.7 460.9h0M106.9 463.4h0M106.5 464.6h0M121.1 493.3h0M119.8 498.3h0M119.5 499.6h0M164.0 364.9h0M182.0 340.0h0M181.1 342.4h0M178.1 349.6h0M176.1 354.4h0M126.0 477.2h0M124.1 482.0h0M193.0 344.6h0M191.9 348.3h0M191.5 349.5h0M190.4 353.3h0M211.2 315.9h0M206.7 328.1h0M199.9 346.4h0M199.0 348.9h0M198.6 350.1h0M219.1 314.8h0M188.7 501.1h0M187.0 506.0h0M184.8 512.1h0M183.1 517.0h0M199.1 494.8h0M198.6 496.0h0M190.4 517.9h0M134.9 405.2h0M132.5 406.3h0M100.6 472.0h0M99.6 472.8h0M94.5 476.8h0M92.4 478.4h0M90.4 480.0h0M217.8 345.5h0M215.8 347.2h0M79.7 458.0h0M70.2 315.2h0M71.1 316.1h0M75.0 319.5h0M76.0 320.4h0M77.0 321.2h0M92.6 334.9h0M93.6 335.8h0M95.6 337.5h0M96.5 338.4h0M99.5 340.9h0M102.4 343.5h0M148.3 383.8h0M151.3 386.4h0M72.4 449.5h0M73.5 450.2h0M74.6 451.0h0M75.7 451.7h0M76.7 452.4h0M79.9 454.6h0M92.8 463.4h0M96.1 465.6h0M99.3 467.8h0M116.5 479.5h0M117.6 480.2h0M121.9 483.1h0M127.2 486.8h0M121.8 437.9h0M123.8 439.5h0M197.0 495.8h0M31.2 322.4h0M32.2 323.2h0M33.2 324.1h0M38.3 328.1h0M40.3 329.7h0M41.3 330.6h0M58.6 344.4h0M61.6 346.8h0M64.7 349.2h0M71.8 354.9h0M80.9 362.2h0M81.9 363.0h0M90.0 369.5h0M92.1 371.2h0M95.1 373.6h0M97.1 375.2h0M133.7 404.5h0M184.3 325.1h0" stroke="#cbff62" stroke-width="2.40" stroke-linecap="round"/>
<path d="M27.6 332.4h0M31.1 346.3h0M32.3 351.4h0M36.1 366.5h0M37.1 316.0h0M40.2 324.5h0M41.5 328.2h0M43.6 334.3h0M46.7 342.9h0M47.5 345.4h0M48.4 347.8h0M51.0 355.2h0M52.3 358.8h0M81.0 439.7h0M88.8 461.8h0M89.6 464.2h0M93.5 475.3h0M94.0 476.5h0M96.6 483.8h0M100.5 494.9h0M48.8 317.1h0M49.7 319.6h0M51.5 324.4h0M54.3 331.7h0M54.8 332.9h0M59.9 346.3h0M60.4 347.5h0M117.6 496.8h0M62.2 321.9h0M73.7 349.5h0M115.7 450.3h0M69.8 320.9h0M92.4 362.2h0M93.1 364.7h0M94.6 369.7h0M116.4 444.6h0M99.4 348.7h0M100.4 352.4h0M100.7 353.7h0M102.4 360.0h0M104.4 367.5h0M111.5 393.9h0M112.1 396.4h0M115.8 410.2h0M118.5 420.3h0M119.2 422.8h0M124.5 442.9h0M104.4 315.9h0M105.8 319.5h0M108.6 326.8h0M113.4 338.9h0M112.6 317.2h0M114.2 322.2h0M116.5 329.6h0M139.2 391.9h0M139.8 394.5h0M153.8 375.7h0M154.2 376.9h0M162.6 368.6h0M170.0 359.4h0M170.7 359.1h0M201.4 494.8h0M177.6 343.5h0M178.4 346.0h0M187.5 332.8h0M188.9 336.4h0M189.4 337.6h0M189.9 338.8h0M190.4 340.0h0M191.3 342.5h0M191.8 343.7h0M192.3 344.9h0M192.8 346.1h0M193.8 348.5h0M200.6 342.2h0M203.1 351.0h0M204.5 333.7h0M207.7 346.3h0M219.0 328.4h0M219.8 330.9h0M37.4 324.9h0M35.3 333.8h0M34.1 338.8h0M33.9 340.1h0M44.0 322.0h0M42.1 326.8h0M40.2 331.7h0M38.8 335.3h0M38.3 336.5h0M37.8 337.7h0M36.4 341.4h0M36.0 342.6h0M33.6 348.6h0M59.0 313.5h0M58.6 314.8h0M56.5 322.3h0M48.0 352.3h0M45.6 361.0h0M44.9 363.6h0M60.7 346.4h0M60.1 348.9h0M58.0 357.8h0M76.0 317.3h0M75.5 319.8h0M67.2 356.6h0M66.9 357.9h0M75.1 363.1h0M78.4 368.4h0M106.6 316.0h0M104.8 323.6h0M104.0 327.4h0M103.1 331.2h0M101.0 340.1h0M100.4 342.6h0M99.5 346.4h0M98.1 352.8h0M95.7 362.9h0M94.5 367.9h0M93.1 374.3h0M77.8 440.1h0M76.9 443.9h0M75.7 449.0h0M75.4 450.3h0M115.6 322.0h0M115.1 323.2h0M106.9 343.7h0M101.6 357.0h0M101.1 358.2h0M99.7 361.8h0M99.2 363.0h0M98.7 364.2h0M97.8 366.6h0M97.3 367.8h0M95.4 372.7h0M100.7 380.3h0M100.3 381.5h0M80.4 433.8h0M78.1 439.8h0M74.4 449.6h0M113.6 402.0h0M113.3 403.3h0M113.0 404.5h0M108.5 423.5h0M108.2 424.8h0M99.1 462.7h0M98.8 464.0h0M98.2 466.5h0M97.9 467.8h0M94.3 482.9h0M100.0 463.8h0M99.6 465.0h0M94.1 485.1h0M91.3 495.1h0M90.6 497.6h0M109.7 454.7h0M104.9 469.6h0M151.9 376.4h0M121.8 490.8h0M177.3 316.0h0M167.5 352.4h0M167.1 353.6h0M165.8 358.7h0M165.1 361.2h0M163.4 367.4h0M180.1 344.8h0M177.6 350.8h0M176.6 353.2h0M202.6 313.5h0M194.2 340.8h0M193.8 342.1h0M192.6 345.8h0M191.1 350.8h0M201.7 341.5h0M218.8 316.0h0M216.2 327.4h0M213.8 337.6h0M186.5 507.2h0M191.8 514.3h0M191.3 515.5h0M189.9 519.1h0M189.5 520.3h0M133.7 405.7h0M118.3 412.6h0M97.6 474.4h0M96.5 475.2h0M219.8 343.9h0M81.8 456.4h0M68.2 313.5h0M78.0 322.1h0M97.5 339.2h0M101.4 342.6h0M103.4 344.4h0M105.3 346.1h0M106.3 346.9h0M149.3 384.7h0M77.8 453.2h0M78.9 453.9h0M88.5 460.5h0M90.7 461.9h0M98.2 467.1h0M106.3 426.1h0M122.8 438.7h0M30.2 321.6h0M44.4 333.0h0M46.4 334.6h0M48.4 336.2h0M54.5 341.1h0M59.6 345.2h0M62.6 347.6h0M63.7 348.4h0M68.7 352.5h0M79.9 361.4h0M85.0 365.5h0M87.0 367.1h0M89.0 368.7h0M93.1 372.0h0M94.1 372.8h0M101.2 378.5h0M104.3 380.9h0M199.0 314.3h0M180.2 328.2h0M103.9 384.7h0" stroke="#d8ff55" stroke-width="2.40" stroke-linecap="round"/>
<path d="M29.2 338.7h0M30.1 342.5h0M30.5 343.8h0M30.8 345.0h0M44.5 336.8h0M45.4 339.2h0M47.1 344.1h0M80.5 438.5h0M83.1 445.8h0M87.5 458.1h0M88.3 460.6h0M92.2 471.6h0M50.2 320.8h0M51.1 323.2h0M53.4 329.3h0M56.7 337.8h0M59.0 343.8h0M59.5 345.1h0M60.9 348.7h0M62.7 353.6h0M63.2 354.8h0M63.6 356.0h0M64.6 358.4h0M103.7 460.4h0M59.8 315.9h0M117.2 453.9h0M67.4 313.5h0M68.6 317.2h0M114.3 455.4h0M123.3 482.6h0M96.8 377.2h0M110.5 424.6h0M110.9 425.9h0M111.3 427.1h0M117.4 448.3h0M117.8 449.6h0M99.0 347.4h0M101.4 356.2h0M103.1 362.5h0M106.1 373.8h0M114.5 405.2h0M117.8 417.7h0M119.5 424.0h0M119.8 425.3h0M123.2 437.8h0M123.5 439.1h0M108.2 325.6h0M109.6 329.2h0M110.5 331.6h0M177.2 501.0h0M112.2 316.0h0M113.0 318.5h0M113.4 319.7h0M114.9 324.7h0M115.7 327.1h0M137.1 395.4h0M137.5 396.6h0M121.0 314.8h0M123.3 324.9h0M153.5 374.4h0M195.3 511.2h0M195.7 512.4h0M196.1 513.6h0M160.0 361.3h0M160.4 362.5h0M168.0 354.5h0M169.0 356.9h0M169.3 352.8h0M169.6 354.1h0M169.8 355.3h0M206.0 515.1h0M206.6 517.6h0M176.9 341.0h0M177.3 342.2h0M179.1 348.5h0M179.8 351.0h0M180.2 352.2h0M180.7 315.9h0M181.2 317.1h0M181.7 318.3h0M183.6 323.2h0M190.9 341.2h0M195.2 352.1h0M199.5 338.5h0M199.8 339.7h0M202.0 347.2h0M199.7 314.8h0M202.3 324.8h0M202.9 327.4h0M203.6 329.9h0M205.5 337.5h0M205.8 338.7h0M206.4 341.2h0M214.8 314.7h0M215.2 316.0h0M215.6 317.2h0M216.3 319.7h0M219.4 329.6h0M37.7 323.6h0M36.5 328.7h0M33.1 349.8h0M32.2 352.3h0M55.5 326.0h0M55.1 327.3h0M53.7 332.3h0M52.6 336.0h0M51.9 338.5h0M50.9 342.3h0M49.5 347.3h0M47.3 354.8h0M67.3 318.6h0M61.0 345.1h0M58.3 356.5h0M76.6 314.8h0M68.3 351.5h0M67.5 355.4h0M66.6 359.2h0M78.6 352.0h0M106.9 314.8h0M106.3 317.3h0M103.4 330.0h0M99.0 349.0h0M95.4 364.2h0M94.8 366.7h0M94.2 369.2h0M93.7 371.7h0M117.1 318.3h0M112.2 330.4h0M111.7 331.6h0M108.9 338.9h0M108.4 340.1h0M107.9 341.3h0M106.0 346.1h0M105.0 348.5h0M104.5 349.7h0M103.6 352.1h0M100.7 359.4h0M96.8 369.0h0M107.2 363.3h0M106.3 365.7h0M105.8 367.0h0M104.4 370.6h0M104.0 371.8h0M114.5 398.2h0M113.9 400.8h0M97.6 469.0h0M138.7 324.8h0M116.7 403.7h0M115.7 407.4h0M115.3 408.7h0M101.7 457.5h0M100.7 461.3h0M121.1 418.8h0M119.6 423.7h0M109.3 455.9h0M108.5 458.4h0M108.1 459.7h0M152.9 372.6h0M152.6 373.8h0M150.9 380.1h0M150.0 383.9h0M149.6 385.2h0M175.3 323.5h0M170.9 339.8h0M169.8 343.6h0M168.8 347.4h0M166.8 354.9h0M166.4 356.2h0M166.1 357.4h0M164.7 362.4h0M164.4 363.7h0M163.7 366.2h0M162.0 372.5h0M189.4 321.9h0M188.4 324.3h0M181.5 341.2h0M180.6 343.6h0M179.6 346.0h0M121.6 488.0h0M196.8 332.1h0M195.7 335.9h0M190.7 352.0h0M211.6 314.7h0M210.7 317.2h0M210.3 318.4h0M208.9 322.0h0M207.1 326.9h0M204.4 334.2h0M204.0 335.5h0M202.6 339.1h0M200.8 344.0h0M198.1 351.3h0M218.5 317.3h0M217.9 319.8h0M216.5 326.2h0M215.9 328.7h0M213.5 338.8h0M213.2 340.1h0M212.9 341.4h0M187.4 504.8h0M185.7 509.7h0M185.2 510.9h0M184.4 513.4h0M198.2 497.2h0M197.7 498.4h0M193.2 510.6h0M131.3 406.8h0M119.4 412.0h0M128.1 418.6h0M125.1 421.1h0M121.1 424.4h0M120.1 425.2h0M119.0 426.0h0M118.0 426.8h0M82.8 455.6h0M72.1 316.9h0M100.5 341.8h0M109.2 349.5h0M84.2 457.5h0M85.3 458.3h0M89.6 461.2h0M107.3 426.8h0M198.0 496.6h0M199.1 497.4h0M200.1 498.2h0M35.2 325.7h0M39.3 328.9h0M42.3 331.4h0M49.4 337.1h0M50.5 337.9h0M51.5 338.7h0M56.5 342.7h0M57.6 343.5h0M66.7 350.9h0M69.7 353.3h0M70.8 354.1h0M96.1 374.4h0M99.2 376.8h0M103.2 380.1h0M105.3 381.7h0M195.8 316.6h0M179.1 329.0h0M174.9 332.1h0" stroke="#e5ff48" stroke-width="2.40" stroke-linecap="round"/>
<path d="M46.2 341.7h0M51.4 356.4h0M79.7 436.0h0M84.0 448.3h0M86.6 455.7h0M52.9 328.1h0M61.8 351.1h0M103.2 459.2h0M104.1 461.6h0M104.6 462.8h0M61.7 320.7h0M63.2 324.3h0M106.2 427.5h0M114.7 447.9h0M115.2 449.1h0M67.8 314.7h0M68.2 316.0h0M105.4 428.3h0M113.1 451.7h0M113.5 453.0h0M113.9 454.2h0M95.3 372.2h0M117.1 447.1h0M98.7 346.2h0M99.7 349.9h0M102.7 361.2h0M103.4 363.7h0M103.7 365.0h0M104.1 366.3h0M105.1 370.0h0M105.4 371.3h0M109.8 387.6h0M112.5 397.7h0M113.1 400.2h0M113.8 402.7h0M114.1 403.9h0M122.2 434.1h0M122.9 436.6h0M107.7 324.4h0M111.8 314.7h0M114.5 323.4h0M118.4 335.8h0M120.7 313.5h0M193.4 504.9h0M194.5 508.7h0M196.8 516.1h0M145.2 319.6h0M158.6 357.6h0M161.3 365.0h0M161.7 366.2h0M164.7 346.1h0M165.1 347.3h0M165.6 348.5h0M167.6 353.3h0M161.2 317.3h0M166.7 341.4h0M167.5 345.2h0M167.8 346.5h0M168.1 347.7h0M169.0 351.5h0M202.0 497.3h0M204.6 508.7h0M205.8 513.8h0M170.8 319.7h0M172.9 327.2h0M175.5 336.0h0M175.8 337.2h0M176.2 338.5h0M178.7 347.2h0M181.2 356.0h0M183.1 321.9h0M184.1 324.4h0M187.9 334.0h0M192.7 314.7h0M193.0 316.0h0M193.4 317.2h0M195.2 323.5h0M195.9 326.0h0M196.3 327.2h0M197.3 331.0h0M198.0 333.5h0M200.9 343.5h0M201.3 344.7h0M199.4 313.5h0M200.4 317.3h0M200.7 318.5h0M201.0 319.8h0M201.3 321.1h0M203.9 331.1h0M204.8 334.9h0M205.1 336.2h0M206.1 340.0h0M216.0 318.5h0M216.7 320.9h0M217.5 323.4h0M218.7 327.2h0M220.6 333.4h0M38.0 322.4h0M39.7 332.9h0M53.3 333.5h0M52.3 337.3h0M51.6 339.8h0M51.2 341.0h0M50.2 344.8h0M49.1 348.5h0M68.5 313.5h0M68.2 314.8h0M60.4 347.6h0M59.8 350.2h0M59.5 351.4h0M59.2 352.7h0M58.9 354.0h0M58.6 355.2h0M68.6 350.3h0M67.8 354.1h0M107.2 313.5h0M106.0 318.6h0M119.0 313.5h0M118.0 315.9h0M117.5 317.1h0M116.6 319.5h0M114.6 324.4h0M110.8 334.0h0M110.3 335.2h0M109.8 336.4h0M109.3 337.6h0M104.0 350.9h0M122.5 323.2h0M118.8 332.9h0M108.1 360.9h0M101.2 379.1h0M99.4 461.4h0M135.9 334.8h0M117.1 402.4h0M116.0 406.2h0M110.5 426.2h0M121.9 416.3h0M121.5 417.5h0M120.3 421.3h0M119.2 425.0h0M118.4 427.5h0M112.1 447.3h0M108.9 457.2h0M153.3 371.3h0M152.3 375.1h0M151.6 377.6h0M151.3 378.9h0M176.3 319.8h0M174.3 327.3h0M173.6 329.8h0M171.2 338.6h0M169.2 346.1h0M186.5 329.1h0M183.5 336.4h0M183.0 337.6h0M182.5 338.8h0M179.1 347.2h0M177.1 352.0h0M201.0 318.5h0M197.6 329.7h0M194.6 339.6h0M193.4 343.3h0M192.3 347.1h0M209.4 320.8h0M208.5 323.3h0M208.0 324.5h0M205.3 331.8h0M203.5 336.7h0M202.2 340.3h0M201.3 342.8h0M218.2 318.6h0M217.6 321.1h0M217.3 322.4h0M215.3 331.2h0M215.0 332.5h0M190.0 497.4h0M189.5 498.6h0M188.2 502.3h0M196.8 500.9h0M192.2 513.0h0M130.1 407.3h0M127.1 419.4h0M126.1 420.3h0M80.7 457.2h0M108.3 348.6h0M110.2 350.4h0M147.4 382.9h0M81.0 455.4h0M82.1 456.1h0M83.2 456.8h0M86.4 459.0h0M87.5 459.7h0M120.7 437.1h0M201.1 499.0h0M43.3 332.2h0M45.4 333.8h0M52.5 339.5h0M53.5 340.3h0M60.6 346.0h0M65.7 350.0h0M106.3 382.5h0M131.7 402.8h0M132.7 403.6h0M196.9 315.8h0M190.6 320.5h0M189.6 321.2h0M104.9 383.9h0" stroke="#f2ff3b" stroke-width="2.40" stroke-linecap="round"/>
<path d="M44.9 338.0h0M45.8 340.5h0M48.0 346.6h0M49.3 350.3h0M82.3 443.4h0M82.7 444.6h0M85.7 453.2h0M87.9 459.3h0M61.3 349.9h0M62.3 352.3h0M60.3 317.1h0M61.2 319.5h0M114.2 446.7h0M104.9 427.1h0M112.7 450.5h0M114.9 439.6h0M115.6 442.1h0M116.0 443.3h0M116.7 445.8h0M101.1 354.9h0M102.1 358.7h0M105.8 372.5h0M106.8 376.3h0M107.8 380.1h0M108.1 381.3h0M111.1 392.6h0M111.8 395.1h0M120.2 426.5h0M120.8 429.1h0M121.2 430.3h0M121.5 431.6h0M122.5 435.3h0M113.9 340.1h0M115.3 343.7h0M134.8 393.3h0M135.3 394.6h0M135.8 395.8h0M113.8 320.9h0M116.9 330.9h0M117.3 332.1h0M118.0 334.6h0M118.8 337.1h0M121.3 316.0h0M122.8 322.4h0M124.5 329.9h0M139.0 327.2h0M140.5 332.1h0M141.7 335.9h0M191.9 500.0h0M194.9 509.9h0M150.0 333.1h0M159.1 358.8h0M160.8 336.4h0M163.2 342.5h0M166.1 349.7h0M166.6 350.9h0M161.5 318.6h0M161.8 319.8h0M168.7 350.3h0M170.1 356.6h0M202.3 498.6h0M205.2 511.3h0M169.3 314.7h0M170.4 318.5h0M171.5 322.2h0M174.4 332.2h0M178.0 344.7h0M180.2 314.7h0M182.1 319.5h0M184.6 325.6h0M186.0 329.2h0M193.7 318.5h0M194.5 321.0h0M195.5 324.7h0M197.0 329.7h0M197.7 332.2h0M201.7 322.3h0M202.6 326.1h0M204.2 332.4h0M217.1 322.2h0M220.2 332.1h0M35.0 335.0h0M48.8 349.8h0M47.7 353.5h0M66.7 321.1h0M68.9 349.0h0M118.5 314.7h0M116.1 320.7h0M113.7 326.8h0M112.7 329.2h0M107.4 342.5h0M105.5 347.3h0M100.2 360.6h0M124.3 318.4h0M122.0 324.4h0M121.6 325.6h0M119.3 331.7h0M118.3 334.2h0M116.0 340.2h0M115.1 342.7h0M109.5 357.2h0M107.7 362.1h0M106.8 364.5h0M105.4 368.2h0M104.9 369.4h0M103.5 373.0h0M102.6 375.5h0M102.1 376.7h0M100.0 458.9h0M99.7 460.2h0M137.0 331.0h0M134.9 338.5h0M117.8 399.9h0M116.4 404.9h0M100.3 462.5h0M154.3 314.7h0M153.9 316.0h0M152.3 320.9h0M147.2 337.0h0M119.9 422.5h0M118.8 426.2h0M112.8 444.8h0M110.1 453.5h0M167.8 316.0h0M167.5 317.3h0M166.8 319.8h0M165.5 324.8h0M161.5 339.9h0M161.2 341.2h0M158.9 350.0h0M157.6 355.0h0M156.9 357.5h0M177.0 317.3h0M173.3 331.1h0M170.2 342.4h0M168.5 348.6h0M168.1 349.9h0M192.4 314.7h0M191.4 317.1h0M190.9 318.3h0M190.4 319.5h0M188.9 323.1h0M186.0 330.4h0M185.0 332.8h0M184.5 334.0h0M184.0 335.2h0M199.5 323.4h0M199.1 324.7h0M198.0 328.4h0M196.1 334.6h0M195.3 337.1h0M209.8 319.6h0M207.6 325.7h0M205.8 330.6h0M203.1 337.9h0M217.0 323.6h0M214.7 333.8h0M214.4 335.0h0M189.1 499.9h0M186.1 508.5h0M194.5 507.0h0M126.6 408.9h0M84.8 453.9h0M107.3 347.8h0M146.4 382.1h0M91.8 462.7h0M116.6 434.0h0M47.4 335.4h0M100.2 377.7h0M102.2 379.3h0M200.0 313.5h0M192.7 318.9h0M191.6 319.7h0M187.5 322.8h0M186.4 323.6h0M183.3 325.9h0M182.2 326.7h0M181.2 327.4h0M178.1 329.7h0M177.0 330.5h0M176.0 331.3h0M167.6 337.5h0M161.3 342.1h0M107.0 382.4h0" stroke="#ffff2e" stroke-width="2.40" stroke-linecap="round"/>
<path d="M48.8 349.0h0M50.1 352.7h0M50.6 353.9h0M85.3 452.0h0M87.0 456.9h0M93.4 433.7h0M101.8 455.5h0M112.7 443.1h0M113.2 444.3h0M113.7 445.5h0M111.5 446.8h0M112.3 449.3h0M114.2 437.1h0M115.3 440.8h0M104.7 368.8h0M107.1 377.6h0M107.4 378.8h0M110.1 388.9h0M110.5 390.1h0M110.8 391.4h0M121.9 432.8h0M111.5 334.1h0M112.5 336.5h0M112.9 337.7h0M115.3 325.9h0M116.1 328.4h0M117.7 333.3h0M135.5 390.4h0M135.9 391.7h0M136.3 392.9h0M136.7 394.1h0M123.6 326.2h0M124.2 328.7h0M124.8 331.2h0M138.9 390.7h0M139.5 393.2h0M134.8 313.5h0M137.9 323.4h0M138.6 325.9h0M140.9 333.4h0M141.3 334.6h0M142.4 338.4h0M143.2 340.8h0M153.1 373.2h0M193.8 506.2h0M146.5 323.3h0M146.9 324.5h0M149.1 330.7h0M157.8 355.2h0M160.8 363.7h0M208.2 497.3h0M154.5 320.7h0M156.0 324.4h0M158.9 331.6h0M159.8 334.0h0M160.4 313.5h0M163.2 326.2h0M163.5 327.4h0M167.0 342.7h0M167.3 343.9h0M204.9 510.0h0M169.0 313.5h0M172.2 324.7h0M173.3 328.5h0M174.0 331.0h0M175.1 334.7h0M176.5 339.7h0M179.7 313.5h0M182.6 320.7h0M185.5 328.0h0M187.0 331.6h0M188.4 335.2h0M194.1 319.7h0M194.8 322.2h0M198.4 334.7h0M198.8 336.0h0M199.1 337.2h0M200.2 341.0h0M202.0 323.6h0M203.2 328.6h0M53.0 334.8h0M50.5 343.5h0M49.8 346.0h0M68.1 352.8h0M114.2 325.6h0M113.2 328.0h0M125.3 315.9h0M120.2 329.3h0M119.7 330.5h0M116.9 337.8h0M114.2 345.1h0M113.7 346.3h0M113.2 347.5h0M112.3 349.9h0M109.1 358.4h0M108.6 359.7h0M134.1 316.0h0M133.5 318.6h0M107.9 426.0h0M107.6 427.3h0M137.3 329.8h0M135.6 336.0h0M110.1 427.5h0M109.4 430.0h0M102.8 453.8h0M101.0 460.0h0M152.7 319.7h0M146.4 339.5h0M145.6 342.0h0M122.7 413.8h0M122.3 415.1h0M110.5 452.2h0M168.2 314.8h0M166.2 322.3h0M162.9 334.9h0M162.2 337.4h0M161.9 338.6h0M159.2 348.7h0M157.2 356.2h0M154.9 365.0h0M154.3 367.6h0M153.6 370.1h0M177.7 314.8h0M175.6 322.3h0M175.0 324.8h0M173.9 328.6h0M172.9 332.3h0M172.6 333.6h0M172.2 334.8h0M171.9 336.1h0M170.5 341.1h0M192.8 313.5h0M191.9 315.9h0M187.9 325.5h0M187.4 326.7h0M185.5 331.6h0M201.8 316.0h0M201.4 317.2h0M200.3 321.0h0M198.4 327.2h0M197.2 330.9h0M196.5 333.4h0M194.9 338.4h0M216.7 324.9h0M215.6 330.0h0M187.8 503.6h0M195.9 503.3h0M195.4 504.5h0M194.1 508.2h0M193.6 509.4h0M192.7 511.8h0M129.0 407.8h0M127.8 408.4h0M121.8 411.0h0M120.6 411.5h0M124.1 421.9h0M123.1 422.7h0M122.1 423.6h0M83.8 454.8h0M104.4 345.2h0M119.7 436.4h0M203.2 500.6h0M207.3 503.7h0M55.5 341.9h0M67.7 351.7h0M108.3 384.2h0M109.3 385.0h0M130.6 402.0h0M197.9 315.0h0M194.8 317.4h0M188.5 322.0h0M185.4 324.3h0M173.9 332.8h0M171.8 334.4h0M166.6 338.3h0M165.5 339.0h0M162.4 341.4h0M108.1 381.6h0" stroke="#fff22e" stroke-width="2.40" stroke-linecap="round"/>
<path d="M83.6 447.1h0M86.2 454.4h0M102.3 456.7h0M102.7 457.9h0M106.7 428.7h0M69.0 318.4h0M110.7 444.3h0M106.4 375.0h0M108.4 382.6h0M108.8 383.8h0M109.4 386.3h0M120.5 427.8h0M115.8 345.0h0M116.3 346.2h0M121.9 318.6h0M123.0 323.6h0M126.3 337.5h0M126.6 338.8h0M138.6 389.4h0M135.2 314.7h0M136.0 317.2h0M136.3 318.5h0M137.1 321.0h0M138.2 324.7h0M147.8 355.8h0M148.9 359.5h0M152.7 371.9h0M192.3 501.2h0M192.6 502.5h0M193.0 503.7h0M194.2 507.4h0M146.0 322.1h0M151.3 336.8h0M152.1 339.2h0M152.6 340.5h0M155.2 347.8h0M156.0 350.3h0M156.9 352.7h0M158.2 356.4h0M159.5 360.1h0M152.6 315.9h0M153.1 317.1h0M156.9 326.8h0M157.9 329.2h0M160.6 314.8h0M160.9 316.0h0M162.4 322.4h0M162.7 323.6h0M162.9 324.9h0M164.1 330.0h0M165.0 333.8h0M165.2 335.1h0M165.5 336.3h0M165.8 337.6h0M204.3 507.5h0M205.5 512.6h0M171.1 321.0h0M172.6 326.0h0M173.7 329.7h0M192.3 313.5h0M196.6 328.5h0M200.1 316.0h0M125.7 314.7h0M123.9 319.6h0M123.4 320.8h0M121.1 326.9h0M120.6 328.1h0M117.9 335.4h0M114.6 343.9h0M111.4 352.4h0M110.9 353.6h0M110.5 354.8h0M110.0 356.0h0M134.4 314.8h0M132.3 323.6h0M132.0 324.9h0M131.1 328.7h0M130.8 329.9h0M114.8 397.0h0M103.0 446.3h0M101.5 452.6h0M100.9 455.1h0M100.6 456.4h0M100.3 457.7h0M141.5 314.8h0M140.8 317.3h0M139.8 321.0h0M138.4 326.0h0M138.0 327.3h0M136.6 332.3h0M135.2 337.3h0M118.1 398.7h0M117.4 401.2h0M109.8 428.7h0M104.9 446.2h0M102.1 456.3h0M101.4 458.8h0M154.7 313.5h0M150.3 327.1h0M149.2 330.8h0M148.4 333.3h0M147.6 335.8h0M146.0 340.8h0M118.0 428.7h0M116.4 433.6h0M114.0 441.1h0M113.2 443.6h0M111.3 449.8h0M110.9 451.0h0M166.5 321.0h0M165.2 326.1h0M164.9 327.3h0M163.5 332.4h0M160.2 344.9h0M159.6 347.4h0M155.9 361.3h0M155.6 362.5h0M155.3 363.8h0M178.0 313.5h0M176.7 318.5h0M169.5 344.9h0M187.0 327.9h0M202.2 314.7h0M200.7 319.7h0M199.9 322.2h0M198.8 325.9h0M214.1 336.3h0M123.0 410.5h0M117.0 427.7h0M116.0 428.5h0M87.8 451.5h0M86.8 452.3h0M85.8 453.1h0M111.2 351.2h0M112.2 352.1h0M108.4 427.6h0M118.7 435.6h0M202.1 499.8h0M107.3 383.3h0M110.3 385.8h0M128.6 400.4h0M129.6 401.2h0M193.7 318.1h0M172.8 333.6h0M169.7 335.9h0M168.7 336.7h0M160.3 342.9h0M109.1 380.8h0M106.0 383.1h0" stroke="#ffe52e" stroke-width="2.40" stroke-linecap="round"/>
<path d="M94.8 437.3h0M98.5 447.0h0M100.9 453.1h0M112.2 441.9h0M105.8 429.5h0M111.9 448.0h0M111.6 428.3h0M109.1 385.1h0M114.4 341.3h0M114.8 342.5h0M116.7 347.4h0M119.6 339.6h0M120.0 340.8h0M121.6 317.3h0M122.2 319.8h0M122.5 321.1h0M123.9 327.4h0M138.3 388.1h0M136.7 319.7h0M137.5 322.2h0M139.8 329.7h0M140.1 330.9h0M142.0 337.1h0M142.8 339.6h0M144.7 345.8h0M147.0 353.3h0M150.4 364.5h0M152.3 370.7h0M144.7 318.4h0M145.6 320.9h0M147.3 325.8h0M149.5 331.9h0M150.4 334.3h0M150.8 335.6h0M151.7 338.0h0M154.7 346.6h0M156.5 351.5h0M157.3 353.9h0M151.6 313.5h0M152.1 314.7h0M153.6 318.3h0M154.0 319.5h0M155.5 323.2h0M158.4 330.4h0M161.3 337.6h0M162.3 340.1h0M164.2 344.9h0M163.8 328.7h0M164.7 332.5h0M204.0 506.2h0M169.7 316.0h0M170.0 317.2h0M126.2 313.5h0M124.8 317.1h0M123.0 322.0h0M117.4 336.6h0M116.5 339.0h0M115.5 341.4h0M111.8 351.2h0M133.8 317.3h0M133.2 319.8h0M132.6 322.4h0M131.7 326.1h0M130.2 332.5h0M129.9 333.7h0M129.3 336.3h0M115.7 393.2h0M115.4 394.4h0M115.1 395.7h0M102.4 448.8h0M101.2 453.9h0M141.9 313.5h0M140.1 319.8h0M139.1 323.5h0M137.7 328.5h0M136.3 333.5h0M134.5 339.8h0M133.8 342.3h0M109.1 431.2h0M103.8 450.0h0M102.4 455.0h0M151.1 324.6h0M149.9 328.4h0M149.5 329.6h0M148.8 332.1h0M148.0 334.6h0M146.8 338.3h0M144.8 344.5h0M142.8 350.7h0M123.1 412.6h0M117.6 429.9h0M115.6 436.1h0M112.4 446.0h0M111.7 448.5h0M168.5 313.5h0M167.2 318.5h0M165.9 323.6h0M164.5 328.6h0M163.9 331.1h0M162.5 336.1h0M160.9 342.4h0M160.6 343.7h0M159.9 346.2h0M158.6 351.2h0M158.2 352.5h0M157.9 353.7h0M156.6 358.8h0M156.2 360.0h0M154.6 366.3h0M153.9 368.8h0M176.0 321.0h0M174.6 326.0h0M167.8 351.1h0M189.9 320.7h0M206.2 329.4h0M204.9 333.0h0M195.0 505.7h0M124.2 409.9h0M89.8 449.8h0M114.1 353.8h0M115.1 354.6h0M143.5 379.5h0M145.4 381.2h0M110.4 429.2h0M111.5 430.0h0M117.7 434.8h0M206.3 502.9h0M112.4 387.4h0M113.4 388.2h0M170.8 335.2h0M164.5 339.8h0M158.2 344.5h0M157.2 345.2h0M156.1 346.0h0M155.1 346.8h0M154.0 347.5h0M150.9 349.9h0M148.8 351.4h0M112.3 378.5h0M110.2 380.0h0" stroke="#ffd82e" stroke-width="2.40" stroke-linecap="round"/>
<path d="M84.4 449.5h0M84.9 450.8h0M94.4 436.1h0M96.7 442.2h0M98.1 445.8h0M100.4 451.9h0M107.2 429.9h0M111.7 440.7h0M109.0 439.4h0M109.8 441.9h0M112.0 429.6h0M112.4 430.8h0M113.8 435.8h0M114.5 438.3h0M117.2 348.6h0M133.9 390.9h0M119.2 338.3h0M120.8 343.3h0M121.5 345.8h0M135.2 389.2h0M125.1 332.5h0M127.5 342.6h0M138.0 386.9h0M135.6 316.0h0M144.3 344.6h0M145.1 347.1h0M145.9 349.6h0M150.0 363.2h0M151.6 368.2h0M143.0 313.5h0M143.4 314.7h0M144.3 317.2h0M147.8 327.0h0M148.7 329.4h0M153.9 344.1h0M154.3 345.4h0M155.0 321.9h0M156.5 325.6h0M157.4 328.0h0M159.4 332.8h0M160.3 335.2h0M161.8 338.8h0M162.7 341.3h0M163.7 343.7h0M162.1 321.1h0M166.1 338.9h0M202.6 499.9h0M202.9 501.1h0M203.5 503.7h0M174.7 333.5h0M112.8 348.7h0M132.9 321.1h0M131.4 327.4h0M130.5 331.2h0M129.6 335.0h0M129.0 337.5h0M116.0 391.9h0M107.3 428.6h0M107.0 429.8h0M106.7 431.1h0M104.5 440.0h0M103.3 445.0h0M102.7 447.5h0M141.2 316.0h0M140.5 318.5h0M139.4 322.3h0M104.5 447.5h0M104.2 448.7h0M103.5 451.3h0M153.5 317.2h0M151.9 322.2h0M151.5 323.4h0M150.7 325.9h0M144.4 345.7h0M124.3 408.9h0M123.5 411.4h0M117.2 431.2h0M114.4 439.8h0M164.2 329.8h0M163.2 333.6h0M171.5 337.3h0M197.3 499.7h0M196.4 502.1h0M125.4 409.4h0M100.9 440.8h0M98.9 442.4h0M95.9 444.9h0M142.5 378.7h0M109.4 428.4h0M113.5 431.6h0M204.2 501.4h0M205.2 502.1h0M115.4 389.8h0M127.6 399.6h0M163.4 340.6h0M159.3 343.7h0M153.0 348.3h0M151.9 349.1h0M147.8 352.2h0M146.7 353.0h0" stroke="#ffcb2e" stroke-width="2.40" stroke-linecap="round"/>
<path d="M93.9 434.9h0M95.3 438.5h0M95.8 439.7h0M96.2 441.0h0M97.2 443.4h0M97.6 444.6h0M99.0 448.2h0M99.9 450.7h0M101.3 454.3h0M109.4 440.6h0M111.1 445.6h0M112.7 432.1h0M133.4 389.7h0M134.3 392.1h0M121.2 344.5h0M125.4 333.7h0M139.4 328.4h0M143.6 342.1h0M144.0 343.3h0M146.2 350.8h0M146.6 352.0h0M148.1 357.0h0M148.5 358.3h0M149.3 360.7h0M149.7 362.0h0M150.8 365.7h0M151.2 367.0h0M151.9 369.4h0M143.9 316.0h0M148.2 328.2h0M153.0 341.7h0M164.4 331.2h0M166.4 340.1h0M203.2 502.4h0M203.7 504.9h0M171.9 323.5h0M128.4 340.1h0M128.1 341.3h0M116.3 390.6h0M106.4 432.4h0M104.8 438.7h0M103.6 443.7h0M102.1 450.1h0M101.8 451.3h0M133.1 344.8h0M119.5 393.6h0M118.5 397.4h0M103.1 452.5h0M145.2 343.2h0M143.2 349.4h0M128.2 396.5h0M125.9 403.9h0M125.5 405.2h0M125.1 406.4h0M123.9 410.1h0M116.8 432.4h0M116.0 434.9h0M115.2 437.4h0M114.8 438.6h0M115.0 429.3h0M114.0 430.1h0M112.0 431.8h0M103.9 438.3h0M94.9 445.7h0M93.8 446.5h0M92.8 447.4h0M88.8 450.7h0M113.2 352.9h0M116.1 355.5h0M117.1 356.4h0M144.4 380.4h0M112.5 430.8h0M111.4 386.6h0M114.4 389.0h0M143.6 355.3h0M113.3 377.7h0M111.2 379.3h0" stroke="#ffbe2e" stroke-width="2.40" stroke-linecap="round"/>
<path d="M99.5 449.5h0M110.7 438.3h0M106.2 430.8h0M110.3 443.1h0M113.1 433.3h0M113.5 434.6h0M118.2 351.0h0M118.6 352.2h0M120.4 342.0h0M126.0 336.3h0M126.9 340.1h0M127.8 343.9h0M128.1 345.1h0M137.4 384.3h0M145.5 348.3h0M155.6 349.0h0M134.7 313.5h0M128.7 338.8h0M127.8 342.6h0M126.9 346.4h0M117.2 386.8h0M104.2 441.2h0M103.9 442.5h0M134.2 341.1h0M133.5 343.6h0M118.8 396.2h0M107.0 438.7h0M106.6 440.0h0M106.3 441.2h0M105.2 445.0h0M144.0 346.9h0M143.6 348.2h0M142.0 353.1h0M141.7 354.4h0M129.0 394.0h0M127.8 397.7h0M126.7 401.4h0M126.3 402.7h0M113.6 442.3h0M113.0 430.9h0M102.9 439.2h0M97.9 443.3h0M96.9 444.1h0M90.8 449.0h0M140.5 376.9h0M141.5 377.8h0M114.6 432.4h0M116.4 390.6h0M125.6 398.0h0M126.6 398.8h0M149.9 350.6h0M140.5 357.6h0M115.4 376.2h0M114.3 377.0h0" stroke="#ffb12e" stroke-width="2.40" stroke-linecap="round"/>
<path d="M107.7 431.1h0M109.2 434.7h0M110.2 437.1h0M106.6 432.0h0M108.6 438.2h0M119.1 353.4h0M132.9 388.5h0M122.7 349.5h0M124.3 354.4h0M134.0 385.4h0M134.8 387.9h0M125.7 335.0h0M127.2 341.3h0M128.4 346.4h0M128.7 347.7h0M137.7 385.6h0M147.4 354.5h0M153.4 342.9h0M127.5 343.8h0M116.9 388.1h0M116.6 389.4h0M132.8 346.1h0M119.2 394.9h0M105.9 442.5h0M153.1 318.5h0M142.4 351.9h0M140.9 356.9h0M131.8 385.3h0M129.8 391.5h0M129.4 392.8h0M124.7 407.6h0M109.0 434.2h0M104.9 437.5h0M101.9 440.0h0M91.8 448.2h0M119.0 358.1h0M117.5 391.5h0M118.5 392.3h0M119.5 393.1h0M121.5 394.7h0M145.7 353.7h0M144.6 354.5h0M142.5 356.1h0M141.5 356.8h0M139.4 358.4h0" stroke="#ffa42e" stroke-width="2.40" stroke-linecap="round"/>
<path d="M108.2 432.3h0M108.7 433.5h0M109.7 435.9h0M111.2 439.5h0M107.8 435.7h0M108.2 436.9h0M117.7 349.8h0M120.5 357.1h0M132.0 386.1h0M121.9 347.0h0M130.5 355.2h0M135.3 375.5h0M136.8 381.8h0M126.6 347.6h0M125.4 352.7h0M118.7 380.5h0M105.8 434.9h0M105.5 436.2h0M132.4 347.3h0M131.7 349.8h0M130.7 353.6h0M120.9 388.6h0M119.9 392.4h0M108.4 433.7h0M107.7 436.2h0M105.6 443.7h0M141.3 355.6h0M140.5 358.1h0M139.3 361.8h0M133.4 380.4h0M131.4 386.6h0M130.6 389.1h0M130.2 390.3h0M128.6 395.3h0M127.4 399.0h0M127.0 400.2h0M111.0 432.6h0M108.0 435.1h0M107.0 435.9h0M99.9 441.6h0M138.6 375.2h0M139.5 376.1h0M115.6 433.2h0M120.5 393.9h0" stroke="#ff962e" stroke-width="2.40" stroke-linecap="round"/>
<path d="M119.6 354.6h0M120.1 355.8h0M121.5 359.5h0M132.4 387.3h0M123.1 350.7h0M132.4 380.5h0M133.6 384.2h0M134.4 386.7h0M129.0 348.9h0M129.6 351.5h0M130.8 356.5h0M136.5 380.5h0M137.1 383.1h0M126.0 350.2h0M121.7 367.9h0M118.4 381.8h0M117.8 384.3h0M105.2 437.4h0M132.1 348.6h0M131.0 352.3h0M130.0 356.1h0M120.6 389.9h0M120.2 391.1h0M108.7 432.5h0M107.3 437.5h0M140.1 359.3h0M139.7 360.6h0M134.9 375.4h0M134.5 376.7h0M110.0 433.4h0M118.0 357.2h0M136.6 373.5h0M137.6 374.4h0M138.4 359.2h0M136.3 360.7h0" stroke="#ff892e" stroke-width="2.40" stroke-linecap="round"/>
<path d="M107.0 433.2h0M128.6 377.6h0M122.3 348.2h0M125.4 358.2h0M132.8 381.7h0M133.2 383.0h0M129.3 350.2h0M129.9 352.7h0M134.7 373.0h0M136.2 379.3h0M125.7 351.4h0M120.2 374.2h0M119.6 376.7h0M119.3 378.0h0M119.0 379.3h0M117.5 385.6h0M106.1 433.6h0M131.4 351.1h0M135.7 373.0h0M135.3 374.2h0M133.8 379.1h0M133.0 381.6h0M131.0 387.8h0M105.9 436.7h0M124.6 397.1h0M137.3 359.9h0M135.2 361.5h0M118.5 373.9h0M117.5 374.6h0M116.4 375.4h0" stroke="#ff7c2e" stroke-width="2.40" stroke-linecap="round"/>
<path d="M107.4 434.5h0M122.0 360.7h0M129.1 378.8h0M130.5 382.5h0M131.0 383.7h0M131.5 384.9h0M123.5 352.0h0M124.7 355.7h0M129.3 370.6h0M130.9 375.5h0M131.3 376.8h0M131.1 357.8h0M131.7 360.3h0M132.3 362.8h0M132.9 365.4h0M135.6 376.8h0M127.2 345.1h0M126.3 348.9h0M122.3 365.3h0M119.9 375.5h0M129.6 357.3h0M128.6 361.1h0M121.6 386.1h0M121.3 387.4h0M108.0 435.0h0M138.9 363.0h0M138.5 364.3h0M137.7 366.8h0M137.3 368.0h0M136.5 370.5h0M136.1 371.7h0M134.2 377.9h0M120.0 358.9h0M121.0 359.8h0M124.9 363.2h0M131.7 369.2h0M134.7 371.8h0M122.5 395.5h0M131.1 364.6h0M130.0 365.3h0" stroke="#ff6f2e" stroke-width="2.40" stroke-linecap="round"/>
<path d="M121.0 358.3h0M130.1 381.2h0M125.0 356.9h0M127.0 363.1h0M132.0 379.2h0M130.2 354.0h0M133.8 369.2h0M135.0 374.2h0M125.1 354.0h0M124.8 355.2h0M124.2 357.8h0M123.6 360.3h0M121.4 369.1h0M120.8 371.7h0M130.3 354.8h0M127.9 363.6h0M127.2 366.1h0M126.5 368.6h0M122.3 383.6h0M122.0 384.9h0M136.9 369.2h0M132.2 384.1h0M122.9 361.5h0M130.7 368.4h0M132.7 370.1h0M134.2 362.2h0M132.1 363.8h0M121.7 371.5h0" stroke="#ff622e" stroke-width="2.40" stroke-linecap="round"/>
<path d="M122.4 361.9h0M123.4 364.3h0M127.7 375.2h0M123.9 353.2h0M125.8 359.4h0M126.2 360.6h0M127.8 365.6h0M128.9 369.3h0M130.5 374.3h0M131.4 359.0h0M132.0 361.6h0M132.6 364.1h0M133.2 366.6h0M133.5 367.9h0M134.1 370.4h0M134.4 371.7h0M135.9 378.0h0M124.5 356.5h0M123.9 359.0h0M122.9 362.8h0M122.0 366.6h0M121.1 370.4h0M118.1 383.0h0M129.0 359.8h0M128.3 362.3h0M127.6 364.8h0M124.8 374.9h0M124.4 376.1h0M122.7 382.4h0M138.1 365.5h0M132.6 382.9h0M125.9 364.1h0M126.8 364.9h0M133.7 370.9h0M135.6 372.7h0M123.5 396.3h0M133.1 363.0h0M129.0 366.1h0M127.9 366.9h0M126.9 367.7h0M119.6 373.1h0" stroke="#ff552e" stroke-width="2.40" stroke-linecap="round"/>
<path d="M129.6 380.0h0M126.6 361.9h0M127.4 364.4h0M128.5 368.1h0M130.1 373.0h0M131.7 378.0h0M123.3 361.6h0M122.6 364.1h0M129.3 358.6h0M124.1 377.4h0M123.7 378.6h0M123.0 381.1h0M122.0 360.6h0M128.8 366.7h0M129.8 367.5h0M125.8 368.4h0M124.8 369.2h0M120.6 372.3h0" stroke="#ff482e" stroke-width="2.40" stroke-linecap="round"/>
<path d="M122.9 363.1h0M123.9 365.5h0M126.3 371.6h0M126.7 372.8h0M127.2 374.0h0M128.2 376.4h0M128.2 366.8h0M129.7 371.8h0M120.5 372.9h0M126.9 367.3h0M126.2 369.9h0M125.8 371.1h0M123.9 362.4h0M127.8 365.8h0M123.7 370.0h0M122.7 370.8h0" stroke="#ff3b2e" stroke-width="2.40" stroke-linecap="round"/>
<path d="M124.8 367.9h0M125.3 369.1h0M125.8 370.4h0M125.5 372.4h0M123.4 379.9h0" stroke="#ff2e2e" stroke-width="2.40" stroke-linecap="round"/>
<path d="M124.4 366.7h0" stroke="#f22e2e" stroke-width="2.40" stroke-linecap="round"/>
<path d="M125.1 373.6h0" stroke="#e52e2e" stroke-width="2.40" stroke-linecap="round"/>
</g>
<path d="M50.58 31.91L61.99 230.37M87.38 30.33L93.08 229.03M124.20 29.80L124.20 228.58M161.02 30.33L155.32 229.03M197.82 31.91L186.41 230.37M34.58 66.15A1250.4 1250.4 0 0 1 213.82 66.15M36.96 99.19A1217.2 1217.2 0 0 1 211.44 99.19M39.33 132.24A1184.1 1184.1 0 0 1 209.07 132.24M41.71 165.28A1151.0 1151.0 0 0 1 206.69 165.28M44.08 198.32A1117.8 1117.8 0 0 1 204.32 198.32" fill="none" stroke="#555" stroke-width="0.7" stroke-dasharray="0.9 1.5" opacity="0.45"/>
<path d="M32.21 33.10A1283.5 1283.5 0 0 1 41.40 32.47L41.58 35.27A1280.7 1280.7 0 0 0 32.41 35.89ZM54.22 230.84A1084.7 1084.7 0 0 1 61.99 230.37L61.83 227.57A1087.5 1087.5 0 0 0 54.04 228.05ZM50.58 31.91A1283.5 1283.5 0 0 1 68.98 30.99L69.10 33.79A1280.7 1280.7 0 0 0 50.75 34.71ZM77.53 229.58A1084.7 1084.7 0 0 1 93.08 229.03L93.00 226.23A1087.5 1087.5 0 0 0 77.41 226.79ZM87.38 30.33A1283.5 1283.5 0 0 1 105.79 29.93L105.83 32.73A1280.7 1280.7 0 0 0 87.46 33.13ZM108.64 228.69A1084.7 1084.7 0 0 1 124.20 228.58L124.20 225.78A1087.5 1087.5 0 0 0 108.60 225.89ZM124.20 29.80A1283.5 1283.5 0 0 1 142.61 29.93L142.57 32.73A1280.7 1280.7 0 0 0 124.20 32.60ZM139.76 228.69A1084.7 1084.7 0 0 1 155.32 229.03L155.40 226.23A1087.5 1087.5 0 0 0 139.80 225.89ZM161.02 30.33A1283.5 1283.5 0 0 1 179.42 30.99L179.30 33.79A1280.7 1280.7 0 0 0 160.94 33.13ZM170.87 229.58A1084.7 1084.7 0 0 1 186.41 230.37L186.57 227.57A1087.5 1087.5 0 0 0 170.99 226.79ZM197.82 31.91A1283.5 1283.5 0 0 1 207.00 32.47L206.82 35.27A1280.7 1280.7 0 0 0 197.65 34.71ZM194.18 230.84A1084.7 1084.7 0 0 1 201.94 231.37L202.14 228.58A1087.5 1087.5 0 0 0 194.36 228.05ZM32.41 35.89L33.40 49.62L36.19 49.42L35.20 35.69ZM34.58 66.15L35.77 82.67L38.56 82.47L37.38 65.94ZM36.96 99.19L38.15 115.71L40.94 115.51L39.75 98.99ZM39.33 132.24L40.52 148.76L43.31 148.56L42.13 132.03ZM41.71 165.28L42.89 181.80L45.69 181.60L44.50 165.08ZM44.08 198.32L45.27 214.85L48.06 214.65L46.87 198.12ZM215.00 49.62L213.82 66.15L211.02 65.94L212.21 49.42ZM212.63 82.67L211.44 99.19L208.65 98.99L209.84 82.47ZM210.25 115.71L209.07 132.24L206.27 132.03L207.46 115.51ZM207.88 148.76L206.69 165.28L203.90 165.08L205.09 148.56ZM205.51 181.80L204.32 198.32L201.53 198.12L202.71 181.60ZM203.13 214.85L202.14 228.58L199.35 228.38L200.34 214.65Z" fill="#f4f4f4" stroke="#9a9a9a" stroke-width="0.5"/>
<path d="M46.46 231.37A1084.7 1084.7 0 0 1 54.22 230.84L54.04 228.05A1087.5 1087.5 0 0 0 46.26 228.58ZM41.40 32.47A1283.5 1283.5 0 0 1 50.58 31.91L50.75 34.71A1280.7 1280.7 0 0 0 41.58 35.27ZM61.99 230.37A1084.7 1084.7 0 0 1 77.53 229.58L77.41 226.79A1087.5 1087.5 0 0 0 61.83 227.57ZM68.98 30.99A1283.5 1283.5 0 0 1 87.38 30.33L87.46 33.13A1280.7 1280.7 0 0 0 69.10 33.79ZM93.08 229.03A1084.7 1084.7 0 0 1 108.64 228.69L108.60 225.89A1087.5 1087.5 0 0 0 93.00 226.23ZM105.79 29.93A1283.5 1283.5 0 0 1 124.20 29.80L124.20 32.60A1280.7 1280.7 0 0 0 105.83 32.73ZM124.20 228.58A1084.7 1084.7 0 0 1 139.76 228.69L139.80 225.89A1087.5 1087.5 0 0 0 124.20 225.78ZM142.61 29.93A1283.5 1283.5 0 0 1 161.02 30.33L160.94 33.13A1280.7 1280.7 0 0 0 142.57 32.73ZM155.32 229.03A1084.7 1084.7 0 0 1 170.87 229.58L170.99 226.79A1087.5 1087.5 0 0 0 155.40 226.23ZM179.42 30.99A1283.5 1283.5 0 0 1 197.82 31.91L197.65 34.71A1280.7 1280.7 0 0 0 179.30 33.79ZM186.41 230.37A1084.7 1084.7 0 0 1 194.18 230.84L194.36 228.05A1087.5 1087.5 0 0 0 186.57 227.57ZM207.00 32.47A1283.5 1283.5 0 0 1 216.19 33.10L215.99 35.89A1280.7 1280.7 0 0 0 206.82 35.27ZM33.40 49.62L34.58 66.15L37.38 65.94L36.19 49.42ZM35.77 82.67L36.96 99.19L39.75 98.99L38.56 82.47ZM38.15 115.71L39.33 132.24L42.13 132.03L40.94 115.51ZM40.52 148.76L41.71 165.28L44.50 165.08L43.31 148.56ZM42.89 181.80L44.08 198.32L46.87 198.12L45.69 181.60ZM45.27 214.85L46.26 228.58L49.05 228.38L48.06 214.65ZM215.99 35.89L215.00 49.62L212.21 49.42L213.20 35.69ZM213.82 66.15L212.63 82.67L209.84 82.47L211.02 65.94ZM211.44 99.19L210.25 115.71L207.46 115.51L208.65 98.99ZM209.07 132.24L207.88 148.76L205.09 148.56L206.27 132.03ZM206.69 165.28L205.51 181.80L202.71 181.60L203.90 165.08ZM204.32 198.32L203.13 214.85L200.34 214.65L201.53 198.12Z" fill="#000"/>
<path d="M32.21 33.10 A1283.5 1283.5 0 0 1 216.19 33.10 L201.94 231.37 A1084.7 1084.7 0 0 0 46.46 231.37 Z" fill="none" stroke="#111" stroke-width="0.6"/>
<text x="28.2" y="40.1" font-family="Liberation Sans, Arial, sans-serif" stroke="#111" stroke-width="0.25" font-size="11.5" text-anchor="end" fill="#111">56°<tspan dx="0.6">S</tspan></text>
<text x="30.7" y="73.0" font-family="Liberation Sans, Arial, sans-serif" stroke="#111" stroke-width="0.25" font-size="11.5" text-anchor="end" fill="#111">57°<tspan dx="0.6">S</tspan></text>
<text x="33.2" y="105.8" font-family="Liberation Sans, Arial, sans-serif" stroke="#111" stroke-width="0.25" font-size="11.5" text-anchor="end" fill="#111">58°<tspan dx="0.6">S</tspan></text>
<text x="35.6" y="138.6" font-family="Liberation Sans, Arial, sans-serif" stroke="#111" stroke-width="0.25" font-size="11.5" text-anchor="end" fill="#111">59°<tspan dx="0.6">S</tspan></text>
<text x="38.1" y="171.5" font-family="Liberation Sans, Arial, sans-serif" stroke="#111" stroke-width="0.25" font-size="11.5" text-anchor="end" fill="#111">60°<tspan dx="0.6">S</tspan></text>
<text x="40.6" y="204.3" font-family="Liberation Sans, Arial, sans-serif" stroke="#111" stroke-width="0.25" font-size="11.5" text-anchor="end" fill="#111">61°<tspan dx="0.6">S</tspan></text>
<text x="43.1" y="237.2" font-family="Liberation Sans, Arial, sans-serif" stroke="#111" stroke-width="0.25" font-size="11.5" text-anchor="end" fill="#111">62°<tspan dx="0.6">S</tspan></text>
<text x="64.3" y="243.0" font-family="Liberation Sans, Arial, sans-serif" stroke="#111" stroke-width="0.25" font-size="11.5" text-anchor="middle" fill="#111">74°<tspan dx="0.8">W</tspan></text>
<text x="95.0" y="241.6" font-family="Liberation Sans, Arial, sans-serif" stroke="#111" stroke-width="0.25" font-size="11.5" text-anchor="middle" fill="#111">72°<tspan dx="0.8">W</tspan></text>
<text x="125.4" y="241.2" font-family="Liberation Sans, Arial, sans-serif" stroke="#111" stroke-width="0.25" font-size="11.5" text-anchor="middle" fill="#111">70°<tspan dx="0.8">W</tspan></text>
<text x="156.0" y="241.6" font-family="Liberation Sans, Arial, sans-serif" stroke="#111" stroke-width="0.25" font-size="11.5" text-anchor="middle" fill="#111">68°<tspan dx="0.8">W</tspan></text>
<text x="186.6" y="243.0" font-family="Liberation Sans, Arial, sans-serif" stroke="#111" stroke-width="0.25" font-size="11.5" text-anchor="middle" fill="#111">66°<tspan dx="0.8">W</tspan></text>
<rect x="221.0" y="31.0" width="13.0" height="200.0" fill="url(#cb)"/>
<rect x="221.0" y="31.0" width="13.0" height="200.0" fill="none" stroke="#333" stroke-width="0.6"/>
<text x="237.4" y="234.6" font-family="Liberation Sans, Arial, sans-serif" font-size="9.6" fill="#262626">-20</text>
<text x="237.4" y="198.2" font-family="Liberation Sans, Arial, sans-serif" font-size="9.6" fill="#262626">-10</text>
<text x="237.4" y="161.9" font-family="Liberation Sans, Arial, sans-serif" font-size="9.6" fill="#262626">0</text>
<text x="237.4" y="125.5" font-family="Liberation Sans, Arial, sans-serif" font-size="9.6" fill="#262626">10</text>
<text x="237.4" y="89.1" font-family="Liberation Sans, Arial, sans-serif" font-size="9.6" fill="#262626">20</text>
<text x="237.4" y="52.8" font-family="Liberation Sans, Arial, sans-serif" font-size="9.6" fill="#262626">30</text>
<path d="M234.0 231.00h-1.6M234.0 194.64h-1.6M234.0 158.27h-1.6M234.0 121.91h-1.6M234.0 85.55h-1.6M234.0 49.18h-1.6" stroke="#333" stroke-width="0.5"/>
<text x="227.5" y="25.6" font-family="Liberation Sans, Arial, sans-serif" font-size="10" text-anchor="middle" fill="#222">cm</text>
<text x="124.0" y="21.5" font-family="Liberation Sans, Arial, sans-serif" font-size="24" text-anchor="middle" fill="#111">(a)</text>
<path d="M347.78 31.91L359.19 230.37M384.58 30.33L390.28 229.03M421.40 29.80L421.40 228.58M458.22 30.33L452.52 229.03M495.02 31.91L483.61 230.37M331.78 66.15A1250.4 1250.4 0 0 1 511.02 66.15M334.16 99.19A1217.2 1217.2 0 0 1 508.64 99.19M336.53 132.24A1184.1 1184.1 0 0 1 506.27 132.24M338.91 165.28A1151.0 1151.0 0 0 1 503.89 165.28M341.28 198.32A1117.8 1117.8 0 0 1 501.52 198.32" fill="none" stroke="#555" stroke-width="0.7" stroke-dasharray="0.9 1.5" opacity="0.45"/>
<path d="M329.41 33.10A1283.5 1283.5 0 0 1 338.60 32.47L338.78 35.27A1280.7 1280.7 0 0 0 329.61 35.89ZM351.42 230.84A1084.7 1084.7 0 0 1 359.19 230.37L359.03 227.57A1087.5 1087.5 0 0 0 351.24 228.05ZM347.78 31.91A1283.5 1283.5 0 0 1 366.18 30.99L366.30 33.79A1280.7 1280.7 0 0 0 347.95 34.71ZM374.73 229.58A1084.7 1084.7 0 0 1 390.28 229.03L390.20 226.23A1087.5 1087.5 0 0 0 374.61 226.79ZM384.58 30.33A1283.5 1283.5 0 0 1 402.99 29.93L403.03 32.73A1280.7 1280.7 0 0 0 384.66 33.13ZM405.84 228.69A1084.7 1084.7 0 0 1 421.40 228.58L421.40 225.78A1087.5 1087.5 0 0 0 405.80 225.89ZM421.40 29.80A1283.5 1283.5 0 0 1 439.81 29.93L439.77 32.73A1280.7 1280.7 0 0 0 421.40 32.60ZM436.96 228.69A1084.7 1084.7 0 0 1 452.52 229.03L452.60 226.23A1087.5 1087.5 0 0 0 437.00 225.89ZM458.22 30.33A1283.5 1283.5 0 0 1 476.62 30.99L476.50 33.79A1280.7 1280.7 0 0 0 458.14 33.13ZM468.07 229.58A1084.7 1084.7 0 0 1 483.61 230.37L483.77 227.57A1087.5 1087.5 0 0 0 468.19 226.79ZM495.02 31.91A1283.5 1283.5 0 0 1 504.20 32.47L504.02 35.27A1280.7 1280.7 0 0 0 494.85 34.71ZM491.38 230.84A1084.7 1084.7 0 0 1 499.14 231.37L499.34 228.58A1087.5 1087.5 0 0 0 491.56 228.05ZM329.61 35.89L330.60 49.62L333.39 49.42L332.40 35.69ZM331.78 66.15L332.97 82.67L335.76 82.47L334.58 65.94ZM334.16 99.19L335.35 115.71L338.14 115.51L336.95 98.99ZM336.53 132.24L337.72 148.76L340.51 148.56L339.33 132.03ZM338.91 165.28L340.09 181.80L342.89 181.60L341.70 165.08ZM341.28 198.32L342.47 214.85L345.26 214.65L344.07 198.12ZM512.20 49.62L511.02 66.15L508.22 65.94L509.41 49.42ZM509.83 82.67L508.64 99.19L505.85 98.99L507.04 82.47ZM507.45 115.71L506.27 132.24L503.47 132.03L504.66 115.51ZM505.08 148.76L503.89 165.28L501.10 165.08L502.29 148.56ZM502.71 181.80L501.52 198.32L498.73 198.12L499.91 181.60ZM500.33 214.85L499.34 228.58L496.55 228.38L497.54 214.65Z" fill="#f4f4f4" stroke="#9a9a9a" stroke-width="0.5"/>
<path d="M343.66 231.37A1084.7 1084.7 0 0 1 351.42 230.84L351.24 228.05A1087.5 1087.5 0 0 0 343.46 228.58ZM338.60 32.47A1283.5 1283.5 0 0 1 347.78 31.91L347.95 34.71A1280.7 1280.7 0 0 0 338.78 35.27ZM359.19 230.37A1084.7 1084.7 0 0 1 374.73 229.58L374.61 226.79A1087.5 1087.5 0 0 0 359.03 227.57ZM366.18 30.99A1283.5 1283.5 0 0 1 384.58 30.33L384.66 33.13A1280.7 1280.7 0 0 0 366.30 33.79ZM390.28 229.03A1084.7 1084.7 0 0 1 405.84 228.69L405.80 225.89A1087.5 1087.5 0 0 0 390.20 226.23ZM402.99 29.93A1283.5 1283.5 0 0 1 421.40 29.80L421.40 32.60A1280.7 1280.7 0 0 0 403.03 32.73ZM421.40 228.58A1084.7 1084.7 0 0 1 436.96 228.69L437.00 225.89A1087.5 1087.5 0 0 0 421.40 225.78ZM439.81 29.93A1283.5 1283.5 0 0 1 458.22 30.33L458.14 33.13A1280.7 1280.7 0 0 0 439.77 32.73ZM452.52 229.03A1084.7 1084.7 0 0 1 468.07 229.58L468.19 226.79A1087.5 1087.5 0 0 0 452.60 226.23ZM476.62 30.99A1283.5 1283.5 0 0 1 495.02 31.91L494.85 34.71A1280.7 1280.7 0 0 0 476.50 33.79ZM483.61 230.37A1084.7 1084.7 0 0 1 491.38 230.84L491.56 228.05A1087.5 1087.5 0 0 0 483.77 227.57ZM504.20 32.47A1283.5 1283.5 0 0 1 513.39 33.10L513.19 35.89A1280.7 1280.7 0 0 0 504.02 35.27ZM330.60 49.62L331.78 66.15L334.58 65.94L333.39 49.42ZM332.97 82.67L334.16 99.19L336.95 98.99L335.76 82.47ZM335.35 115.71L336.53 132.24L339.33 132.03L338.14 115.51ZM337.72 148.76L338.91 165.28L341.70 165.08L340.51 148.56ZM340.09 181.80L341.28 198.32L344.07 198.12L342.89 181.60ZM342.47 214.85L343.46 228.58L346.25 228.38L345.26 214.65ZM513.19 35.89L512.20 49.62L509.41 49.42L510.40 35.69ZM511.02 66.15L509.83 82.67L507.04 82.47L508.22 65.94ZM508.64 99.19L507.45 115.71L504.66 115.51L505.85 98.99ZM506.27 132.24L505.08 148.76L502.29 148.56L503.47 132.03ZM503.89 165.28L502.71 181.80L499.91 181.60L501.10 165.08ZM501.52 198.32L500.33 214.85L497.54 214.65L498.73 198.12Z" fill="#000"/>
<path d="M329.41 33.10 A1283.5 1283.5 0 0 1 513.39 33.10 L499.14 231.37 A1084.7 1084.7 0 0 0 343.66 231.37 Z" fill="none" stroke="#111" stroke-width="0.6"/>
<text x="325.4" y="40.1" font-family="Liberation Sans, Arial, sans-serif" stroke="#111" stroke-width="0.25" font-size="11.5" text-anchor="end" fill="#111">56°<tspan dx="0.6">S</tspan></text>
<text x="327.9" y="73.0" font-family="Liberation Sans, Arial, sans-serif" stroke="#111" stroke-width="0.25" font-size="11.5" text-anchor="end" fill="#111">57°<tspan dx="0.6">S</tspan></text>
<text x="330.4" y="105.8" font-family="Liberation Sans, Arial, sans-serif" stroke="#111" stroke-width="0.25" font-size="11.5" text-anchor="end" fill="#111">58°<tspan dx="0.6">S</tspan></text>
<text x="332.8" y="138.6" font-family="Liberation Sans, Arial, sans-serif" stroke="#111" stroke-width="0.25" font-size="11.5" text-anchor="end" fill="#111">59°<tspan dx="0.6">S</tspan></text>
<text x="335.3" y="171.5" font-family="Liberation Sans, Arial, sans-serif" stroke="#111" stroke-width="0.25" font-size="11.5" text-anchor="end" fill="#111">60°<tspan dx="0.6">S</tspan></text>
<text x="337.8" y="204.3" font-family="Liberation Sans, Arial, sans-serif" stroke="#111" stroke-width="0.25" font-size="11.5" text-anchor="end" fill="#111">61°<tspan dx="0.6">S</tspan></text>
<text x="340.3" y="237.2" font-family="Liberation Sans, Arial, sans-serif" stroke="#111" stroke-width="0.25" font-size="11.5" text-anchor="end" fill="#111">62°<tspan dx="0.6">S</tspan></text>
<text x="361.5" y="243.0" font-family="Liberation Sans, Arial, sans-serif" stroke="#111" stroke-width="0.25" font-size="11.5" text-anchor="middle" fill="#111">74°<tspan dx="0.8">W</tspan></text>
<text x="392.2" y="241.6" font-family="Liberation Sans, Arial, sans-serif" stroke="#111" stroke-width="0.25" font-size="11.5" text-anchor="middle" fill="#111">72°<tspan dx="0.8">W</tspan></text>
<text x="422.6" y="241.2" font-family="Liberation Sans, Arial, sans-serif" stroke="#111" stroke-width="0.25" font-size="11.5" text-anchor="middle" fill="#111">70°<tspan dx="0.8">W</tspan></text>
<text x="453.2" y="241.6" font-family="Liberation Sans, Arial, sans-serif" stroke="#111" stroke-width="0.25" font-size="11.5" text-anchor="middle" fill="#111">68°<tspan dx="0.8">W</tspan></text>
<text x="483.8" y="243.0" font-family="Liberation Sans, Arial, sans-serif" stroke="#111" stroke-width="0.25" font-size="11.5" text-anchor="middle" fill="#111">66°<tspan dx="0.8">W</tspan></text>
<rect x="518.2" y="31.0" width="13.0" height="200.0" fill="url(#cb)"/>
<rect x="518.2" y="31.0" width="13.0" height="200.0" fill="none" stroke="#333" stroke-width="0.6"/>
<text x="534.6" y="234.6" font-family="Liberation Sans, Arial, sans-serif" font-size="9.6" fill="#262626">-20</text>
<text x="534.6" y="198.2" font-family="Liberation Sans, Arial, sans-serif" font-size="9.6" fill="#262626">-10</text>
<text x="534.6" y="161.9" font-family="Liberation Sans, Arial, sans-serif" font-size="9.6" fill="#262626">0</text>
<text x="534.6" y="125.5" font-family="Liberation Sans, Arial, sans-serif" font-size="9.6" fill="#262626">10</text>
<text x="534.6" y="89.1" font-family="Liberation Sans, Arial, sans-serif" font-size="9.6" fill="#262626">20</text>
<text x="534.6" y="52.8" font-family="Liberation Sans, Arial, sans-serif" font-size="9.6" fill="#262626">30</text>
<path d="M531.2 231.00h-1.6M531.2 194.64h-1.6M531.2 158.27h-1.6M531.2 121.91h-1.6M531.2 85.55h-1.6M531.2 49.18h-1.6" stroke="#333" stroke-width="0.5"/>
<text x="524.7" y="25.6" font-family="Liberation Sans, Arial, sans-serif" font-size="10" text-anchor="middle" fill="#222">cm</text>
<text x="421.2" y="21.5" font-family="Liberation Sans, Arial, sans-serif" font-size="24" text-anchor="middle" fill="#111">(b)</text>
<path d="M50.58 319.41L61.99 517.87M87.38 317.83L93.08 516.53M124.20 317.30L124.20 516.08M161.02 317.83L155.32 516.53M197.82 319.41L186.41 517.87M34.58 353.65A1250.4 1250.4 0 0 1 213.82 353.65M36.96 386.69A1217.2 1217.2 0 0 1 211.44 386.69M39.33 419.74A1184.1 1184.1 0 0 1 209.07 419.74M41.71 452.78A1151.0 1151.0 0 0 1 206.69 452.78M44.08 485.82A1117.8 1117.8 0 0 1 204.32 485.82" fill="none" stroke="#555" stroke-width="0.7" stroke-dasharray="0.9 1.5" opacity="0.45"/>
<path d="M32.21 320.60A1283.5 1283.5 0 0 1 41.40 319.97L41.58 322.77A1280.7 1280.7 0 0 0 32.41 323.39ZM54.22 518.34A1084.7 1084.7 0 0 1 61.99 517.87L61.83 515.07A1087.5 1087.5 0 0 0 54.04 515.55ZM50.58 319.41A1283.5 1283.5 0 0 1 68.98 318.49L69.10 321.29A1280.7 1280.7 0 0 0 50.75 322.21ZM77.53 517.08A1084.7 1084.7 0 0 1 93.08 516.53L93.00 513.73A1087.5 1087.5 0 0 0 77.41 514.29ZM87.38 317.83A1283.5 1283.5 0 0 1 105.79 317.43L105.83 320.23A1280.7 1280.7 0 0 0 87.46 320.63ZM108.64 516.19A1084.7 1084.7 0 0 1 124.20 516.08L124.20 513.28A1087.5 1087.5 0 0 0 108.60 513.39ZM124.20 317.30A1283.5 1283.5 0 0 1 142.61 317.43L142.57 320.23A1280.7 1280.7 0 0 0 124.20 320.10ZM139.76 516.19A1084.7 1084.7 0 0 1 155.32 516.53L155.40 513.73A1087.5 1087.5 0 0 0 139.80 513.39ZM161.02 317.83A1283.5 1283.5 0 0 1 179.42 318.49L179.30 321.29A1280.7 1280.7 0 0 0 160.94 320.63ZM170.87 517.08A1084.7 1084.7 0 0 1 186.41 517.87L186.57 515.07A1087.5 1087.5 0 0 0 170.99 514.29ZM197.82 319.41A1283.5 1283.5 0 0 1 207.00 319.97L206.82 322.77A1280.7 1280.7 0 0 0 197.65 322.21ZM194.18 518.34A1084.7 1084.7 0 0 1 201.94 518.87L202.14 516.08A1087.5 1087.5 0 0 0 194.36 515.55ZM32.41 323.39L33.40 337.12L36.19 336.92L35.20 323.19ZM34.58 353.65L35.77 370.17L38.56 369.97L37.38 353.44ZM36.96 386.69L38.15 403.21L40.94 403.01L39.75 386.49ZM39.33 419.74L40.52 436.26L43.31 436.06L42.13 419.53ZM41.71 452.78L42.89 469.30L45.69 469.10L44.50 452.58ZM44.08 485.82L45.27 502.35L48.06 502.15L46.87 485.62ZM215.00 337.12L213.82 353.65L211.02 353.44L212.21 336.92ZM212.63 370.17L211.44 386.69L208.65 386.49L209.84 369.97ZM210.25 403.21L209.07 419.74L206.27 419.53L207.46 403.01ZM207.88 436.26L206.69 452.78L203.90 452.58L205.09 436.06ZM205.51 469.30L204.32 485.82L201.53 485.62L202.71 469.10ZM203.13 502.35L202.14 516.08L199.35 515.88L200.34 502.15Z" fill="#f4f4f4" stroke="#9a9a9a" stroke-width="0.5"/>
<path d="M46.46 518.87A1084.7 1084.7 0 0 1 54.22 518.34L54.04 515.55A1087.5 1087.5 0 0 0 46.26 516.08ZM41.40 319.97A1283.5 1283.5 0 0 1 50.58 319.41L50.75 322.21A1280.7 1280.7 0 0 0 41.58 322.77ZM61.99 517.87A1084.7 1084.7 0 0 1 77.53 517.08L77.41 514.29A1087.5 1087.5 0 0 0 61.83 515.07ZM68.98 318.49A1283.5 1283.5 0 0 1 87.38 317.83L87.46 320.63A1280.7 1280.7 0 0 0 69.10 321.29ZM93.08 516.53A1084.7 1084.7 0 0 1 108.64 516.19L108.60 513.39A1087.5 1087.5 0 0 0 93.00 513.73ZM105.79 317.43A1283.5 1283.5 0 0 1 124.20 317.30L124.20 320.10A1280.7 1280.7 0 0 0 105.83 320.23ZM124.20 516.08A1084.7 1084.7 0 0 1 139.76 516.19L139.80 513.39A1087.5 1087.5 0 0 0 124.20 513.28ZM142.61 317.43A1283.5 1283.5 0 0 1 161.02 317.83L160.94 320.63A1280.7 1280.7 0 0 0 142.57 320.23ZM155.32 516.53A1084.7 1084.7 0 0 1 170.87 517.08L170.99 514.29A1087.5 1087.5 0 0 0 155.40 513.73ZM179.42 318.49A1283.5 1283.5 0 0 1 197.82 319.41L197.65 322.21A1280.7 1280.7 0 0 0 179.30 321.29ZM186.41 517.87A1084.7 1084.7 0 0 1 194.18 518.34L194.36 515.55A1087.5 1087.5 0 0 0 186.57 515.07ZM207.00 319.97A1283.5 1283.5 0 0 1 216.19 320.60L215.99 323.39A1280.7 1280.7 0 0 0 206.82 322.77ZM33.40 337.12L34.58 353.65L37.38 353.44L36.19 336.92ZM35.77 370.17L36.96 386.69L39.75 386.49L38.56 369.97ZM38.15 403.21L39.33 419.74L42.13 419.53L40.94 403.01ZM40.52 436.26L41.71 452.78L44.50 452.58L43.31 436.06ZM42.89 469.30L44.08 485.82L46.87 485.62L45.69 469.10ZM45.27 502.35L46.26 516.08L49.05 515.88L48.06 502.15ZM215.99 323.39L215.00 337.12L212.21 336.92L213.20 323.19ZM213.82 353.65L212.63 370.17L209.84 369.97L211.02 353.44ZM211.44 386.69L210.25 403.21L207.46 403.01L208.65 386.49ZM209.07 419.74L207.88 436.26L205.09 436.06L206.27 419.53ZM206.69 452.78L205.51 469.30L202.71 469.10L203.90 452.58ZM204.32 485.82L203.13 502.35L200.34 502.15L201.53 485.62Z" fill="#000"/>
<path d="M32.21 320.60 A1283.5 1283.5 0 0 1 216.19 320.60 L201.94 518.87 A1084.7 1084.7 0 0 0 46.46 518.87 Z" fill="none" stroke="#111" stroke-width="0.6"/>
<text x="28.2" y="327.6" font-family="Liberation Sans, Arial, sans-serif" stroke="#111" stroke-width="0.25" font-size="11.5" text-anchor="end" fill="#111">56°<tspan dx="0.6">S</tspan></text>
<text x="30.7" y="360.5" font-family="Liberation Sans, Arial, sans-serif" stroke="#111" stroke-width="0.25" font-size="11.5" text-anchor="end" fill="#111">57°<tspan dx="0.6">S</tspan></text>
<text x="33.2" y="393.3" font-family="Liberation Sans, Arial, sans-serif" stroke="#111" stroke-width="0.25" font-size="11.5" text-anchor="end" fill="#111">58°<tspan dx="0.6">S</tspan></text>
<text x="35.6" y="426.1" font-family="Liberation Sans, Arial, sans-serif" stroke="#111" stroke-width="0.25" font-size="11.5" text-anchor="end" fill="#111">59°<tspan dx="0.6">S</tspan></text>
<text x="38.1" y="459.0" font-family="Liberation Sans, Arial, sans-serif" stroke="#111" stroke-width="0.25" font-size="11.5" text-anchor="end" fill="#111">60°<tspan dx="0.6">S</tspan></text>
<text x="40.6" y="491.8" font-family="Liberation Sans, Arial, sans-serif" stroke="#111" stroke-width="0.25" font-size="11.5" text-anchor="end" fill="#111">61°<tspan dx="0.6">S</tspan></text>
<text x="43.1" y="524.7" font-family="Liberation Sans, Arial, sans-serif" stroke="#111" stroke-width="0.25" font-size="11.5" text-anchor="end" fill="#111">62°<tspan dx="0.6">S</tspan></text>
<text x="64.3" y="530.5" font-family="Liberation Sans, Arial, sans-serif" stroke="#111" stroke-width="0.25" font-size="11.5" text-anchor="middle" fill="#111">74°<tspan dx="0.8">W</tspan></text>
<text x="95.0" y="529.1" font-family="Liberation Sans, Arial, sans-serif" stroke="#111" stroke-width="0.25" font-size="11.5" text-anchor="middle" fill="#111">72°<tspan dx="0.8">W</tspan></text>
<text x="125.4" y="528.7" font-family="Liberation Sans, Arial, sans-serif" stroke="#111" stroke-width="0.25" font-size="11.5" text-anchor="middle" fill="#111">70°<tspan dx="0.8">W</tspan></text>
<text x="156.0" y="529.1" font-family="Liberation Sans, Arial, sans-serif" stroke="#111" stroke-width="0.25" font-size="11.5" text-anchor="middle" fill="#111">68°<tspan dx="0.8">W</tspan></text>
<text x="186.6" y="530.5" font-family="Liberation Sans, Arial, sans-serif" stroke="#111" stroke-width="0.25" font-size="11.5" text-anchor="middle" fill="#111">66°<tspan dx="0.8">W</tspan></text>
<rect x="221.0" y="318.5" width="13.0" height="200.0" fill="url(#cb)"/>
<rect x="221.0" y="318.5" width="13.0" height="200.0" fill="none" stroke="#333" stroke-width="0.6"/>
<text x="237.4" y="522.1" font-family="Liberation Sans, Arial, sans-serif" font-size="9.6" fill="#262626">-20</text>
<text x="237.4" y="485.7" font-family="Liberation Sans, Arial, sans-serif" font-size="9.6" fill="#262626">-10</text>
<text x="237.4" y="449.4" font-family="Liberation Sans, Arial, sans-serif" font-size="9.6" fill="#262626">0</text>
<text x="237.4" y="413.0" font-family="Liberation Sans, Arial, sans-serif" font-size="9.6" fill="#262626">10</text>
<text x="237.4" y="376.6" font-family="Liberation Sans, Arial, sans-serif" font-size="9.6" fill="#262626">20</text>
<text x="237.4" y="340.3" font-family="Liberation Sans, Arial, sans-serif" font-size="9.6" fill="#262626">30</text>
<path d="M234.0 518.50h-1.6M234.0 482.14h-1.6M234.0 445.77h-1.6M234.0 409.41h-1.6M234.0 373.05h-1.6M234.0 336.68h-1.6" stroke="#333" stroke-width="0.5"/>
<text x="227.5" y="313.1" font-family="Liberation Sans, Arial, sans-serif" font-size="10" text-anchor="middle" fill="#222">cm</text>
<text x="124.0" y="309.0" font-family="Liberation Sans, Arial, sans-serif" font-size="24" text-anchor="middle" fill="#111">(c)</text>
<path d="M347.78 319.41L359.19 517.87M384.58 317.83L390.28 516.53M421.40 317.30L421.40 516.08M458.22 317.83L452.52 516.53M495.02 319.41L483.61 517.87M331.78 353.65A1250.4 1250.4 0 0 1 511.02 353.65M334.16 386.69A1217.2 1217.2 0 0 1 508.64 386.69M336.53 419.74A1184.1 1184.1 0 0 1 506.27 419.74M338.91 452.78A1151.0 1151.0 0 0 1 503.89 452.78M341.28 485.82A1117.8 1117.8 0 0 1 501.52 485.82" fill="none" stroke="#555" stroke-width="0.7" stroke-dasharray="0.9 1.5" opacity="0.45"/>
<path d="M329.41 320.60A1283.5 1283.5 0 0 1 338.60 319.97L338.78 322.77A1280.7 1280.7 0 0 0 329.61 323.39ZM351.42 518.34A1084.7 1084.7 0 0 1 359.19 517.87L359.03 515.07A1087.5 1087.5 0 0 0 351.24 515.55ZM347.78 319.41A1283.5 1283.5 0 0 1 366.18 318.49L366.30 321.29A1280.7 1280.7 0 0 0 347.95 322.21ZM374.73 517.08A1084.7 1084.7 0 0 1 390.28 516.53L390.20 513.73A1087.5 1087.5 0 0 0 374.61 514.29ZM384.58 317.83A1283.5 1283.5 0 0 1 402.99 317.43L403.03 320.23A1280.7 1280.7 0 0 0 384.66 320.63ZM405.84 516.19A1084.7 1084.7 0 0 1 421.40 516.08L421.40 513.28A1087.5 1087.5 0 0 0 405.80 513.39ZM421.40 317.30A1283.5 1283.5 0 0 1 439.81 317.43L439.77 320.23A1280.7 1280.7 0 0 0 421.40 320.10ZM436.96 516.19A1084.7 1084.7 0 0 1 452.52 516.53L452.60 513.73A1087.5 1087.5 0 0 0 437.00 513.39ZM458.22 317.83A1283.5 1283.5 0 0 1 476.62 318.49L476.50 321.29A1280.7 1280.7 0 0 0 458.14 320.63ZM468.07 517.08A1084.7 1084.7 0 0 1 483.61 517.87L483.77 515.07A1087.5 1087.5 0 0 0 468.19 514.29ZM495.02 319.41A1283.5 1283.5 0 0 1 504.20 319.97L504.02 322.77A1280.7 1280.7 0 0 0 494.85 322.21ZM491.38 518.34A1084.7 1084.7 0 0 1 499.14 518.87L499.34 516.08A1087.5 1087.5 0 0 0 491.56 515.55ZM329.61 323.39L330.60 337.12L333.39 336.92L332.40 323.19ZM331.78 353.65L332.97 370.17L335.76 369.97L334.58 353.44ZM334.16 386.69L335.35 403.21L338.14 403.01L336.95 386.49ZM336.53 419.74L337.72 436.26L340.51 436.06L339.33 419.53ZM338.91 452.78L340.09 469.30L342.89 469.10L341.70 452.58ZM341.28 485.82L342.47 502.35L345.26 502.15L344.07 485.62ZM512.20 337.12L511.02 353.65L508.22 353.44L509.41 336.92ZM509.83 370.17L508.64 386.69L505.85 386.49L507.04 369.97ZM507.45 403.21L506.27 419.74L503.47 419.53L504.66 403.01ZM505.08 436.26L503.89 452.78L501.10 452.58L502.29 436.06ZM502.71 469.30L501.52 485.82L498.73 485.62L499.91 469.10ZM500.33 502.35L499.34 516.08L496.55 515.88L497.54 502.15Z" fill="#f4f4f4" stroke="#9a9a9a" stroke-width="0.5"/>
<path d="M343.66 518.87A1084.7 1084.7 0 0 1 351.42 518.34L351.24 515.55A1087.5 1087.5 0 0 0 343.46 516.08ZM338.60 319.97A1283.5 1283.5 0 0 1 347.78 319.41L347.95 322.21A1280.7 1280.7 0 0 0 338.78 322.77ZM359.19 517.87A1084.7 1084.7 0 0 1 374.73 517.08L374.61 514.29A1087.5 1087.5 0 0 0 359.03 515.07ZM366.18 318.49A1283.5 1283.5 0 0 1 384.58 317.83L384.66 320.63A1280.7 1280.7 0 0 0 366.30 321.29ZM390.28 516.53A1084.7 1084.7 0 0 1 405.84 516.19L405.80 513.39A1087.5 1087.5 0 0 0 390.20 513.73ZM402.99 317.43A1283.5 1283.5 0 0 1 421.40 317.30L421.40 320.10A1280.7 1280.7 0 0 0 403.03 320.23ZM421.40 516.08A1084.7 1084.7 0 0 1 436.96 516.19L437.00 513.39A1087.5 1087.5 0 0 0 421.40 513.28ZM439.81 317.43A1283.5 1283.5 0 0 1 458.22 317.83L458.14 320.63A1280.7 1280.7 0 0 0 439.77 320.23ZM452.52 516.53A1084.7 1084.7 0 0 1 468.07 517.08L468.19 514.29A1087.5 1087.5 0 0 0 452.60 513.73ZM476.62 318.49A1283.5 1283.5 0 0 1 495.02 319.41L494.85 322.21A1280.7 1280.7 0 0 0 476.50 321.29ZM483.61 517.87A1084.7 1084.7 0 0 1 491.38 518.34L491.56 515.55A1087.5 1087.5 0 0 0 483.77 515.07ZM504.20 319.97A1283.5 1283.5 0 0 1 513.39 320.60L513.19 323.39A1280.7 1280.7 0 0 0 504.02 322.77ZM330.60 337.12L331.78 353.65L334.58 353.44L333.39 336.92ZM332.97 370.17L334.16 386.69L336.95 386.49L335.76 369.97ZM335.35 403.21L336.53 419.74L339.33 419.53L338.14 403.01ZM337.72 436.26L338.91 452.78L341.70 452.58L340.51 436.06ZM340.09 469.30L341.28 485.82L344.07 485.62L342.89 469.10ZM342.47 502.35L343.46 516.08L346.25 515.88L345.26 502.15ZM513.19 323.39L512.20 337.12L509.41 336.92L510.40 323.19ZM511.02 353.65L509.83 370.17L507.04 369.97L508.22 353.44ZM508.64 386.69L507.45 403.21L504.66 403.01L505.85 386.49ZM506.27 419.74L505.08 436.26L502.29 436.06L503.47 419.53ZM503.89 452.78L502.71 469.30L499.91 469.10L501.10 452.58ZM501.52 485.82L500.33 502.35L497.54 502.15L498.73 485.62Z" fill="#000"/>
<path d="M329.41 320.60 A1283.5 1283.5 0 0 1 513.39 320.60 L499.14 518.87 A1084.7 1084.7 0 0 0 343.66 518.87 Z" fill="none" stroke="#111" stroke-width="0.6"/>
<text x="325.4" y="327.6" font-family="Liberation Sans, Arial, sans-serif" stroke="#111" stroke-width="0.25" font-size="11.5" text-anchor="end" fill="#111">56°<tspan dx="0.6">S</tspan></text>
<text x="327.9" y="360.5" font-family="Liberation Sans, Arial, sans-serif" stroke="#111" stroke-width="0.25" font-size="11.5" text-anchor="end" fill="#111">57°<tspan dx="0.6">S</tspan></text>
<text x="330.4" y="393.3" font-family="Liberation Sans, Arial, sans-serif" stroke="#111" stroke-width="0.25" font-size="11.5" text-anchor="end" fill="#111">58°<tspan dx="0.6">S</tspan></text>
<text x="332.8" y="426.1" font-family="Liberation Sans, Arial, sans-serif" stroke="#111" stroke-width="0.25" font-size="11.5" text-anchor="end" fill="#111">59°<tspan dx="0.6">S</tspan></text>
<text x="335.3" y="459.0" font-family="Liberation Sans, Arial, sans-serif" stroke="#111" stroke-width="0.25" font-size="11.5" text-anchor="end" fill="#111">60°<tspan dx="0.6">S</tspan></text>
<text x="337.8" y="491.8" font-family="Liberation Sans, Arial, sans-serif" stroke="#111" stroke-width="0.25" font-size="11.5" text-anchor="end" fill="#111">61°<tspan dx="0.6">S</tspan></text>
<text x="340.3" y="524.7" font-family="Liberation Sans, Arial, sans-serif" stroke="#111" stroke-width="0.25" font-size="11.5" text-anchor="end" fill="#111">62°<tspan dx="0.6">S</tspan></text>
<text x="361.5" y="530.5" font-family="Liberation Sans, Arial, sans-serif" stroke="#111" stroke-width="0.25" font-size="11.5" text-anchor="middle" fill="#111">74°<tspan dx="0.8">W</tspan></text>
<text x="392.2" y="529.1" font-family="Liberation Sans, Arial, sans-serif" stroke="#111" stroke-width="0.25" font-size="11.5" text-anchor="middle" fill="#111">72°<tspan dx="0.8">W</tspan></text>
<text x="422.6" y="528.7" font-family="Liberation Sans, Arial, sans-serif" stroke="#111" stroke-width="0.25" font-size="11.5" text-anchor="middle" fill="#111">70°<tspan dx="0.8">W</tspan></text>
<text x="453.2" y="529.1" font-family="Liberation Sans, Arial, sans-serif" stroke="#111" stroke-width="0.25" font-size="11.5" text-anchor="middle" fill="#111">68°<tspan dx="0.8">W</tspan></text>
<text x="483.8" y="530.5" font-family="Liberation Sans, Arial, sans-serif" stroke="#111" stroke-width="0.25" font-size="11.5" text-anchor="middle" fill="#111">66°<tspan dx="0.8">W</tspan></text>
<rect x="518.2" y="318.5" width="13.0" height="200.0" fill="url(#cb)"/>
<rect x="518.2" y="318.5" width="13.0" height="200.0" fill="none" stroke="#333" stroke-width="0.6"/>
<text x="534.6" y="522.1" font-family="Liberation Sans, Arial, sans-serif" font-size="9.6" fill="#262626">-20</text>
<text x="534.6" y="485.7" font-family="Liberation Sans, Arial, sans-serif" font-size="9.6" fill="#262626">-10</text>
<text x="534.6" y="449.4" font-family="Liberation Sans, Arial, sans-serif" font-size="9.6" fill="#262626">0</text>
<text x="534.6" y="413.0" font-family="Liberation Sans, Arial, sans-serif" font-size="9.6" fill="#262626">10</text>
<text x="534.6" y="376.6" font-family="Liberation Sans, Arial, sans-serif" font-size="9.6" fill="#262626">20</text>
<text x="534.6" y="340.3" font-family="Liberation Sans, Arial, sans-serif" font-size="9.6" fill="#262626">30</text>
<path d="M531.2 518.50h-1.6M531.2 482.14h-1.6M531.2 445.77h-1.6M531.2 409.41h-1.6M531.2 373.05h-1.6M531.2 336.68h-1.6" stroke="#333" stroke-width="0.5"/>
<text x="524.7" y="313.1" font-family="Liberation Sans, Arial, sans-serif" font-size="10" text-anchor="middle" fill="#222">cm</text>
<text x="421.2" y="309.0" font-family="Liberation Sans, Arial, sans-serif" font-size="24" text-anchor="middle" fill="#111">(d)</text>
</svg></body></html>
